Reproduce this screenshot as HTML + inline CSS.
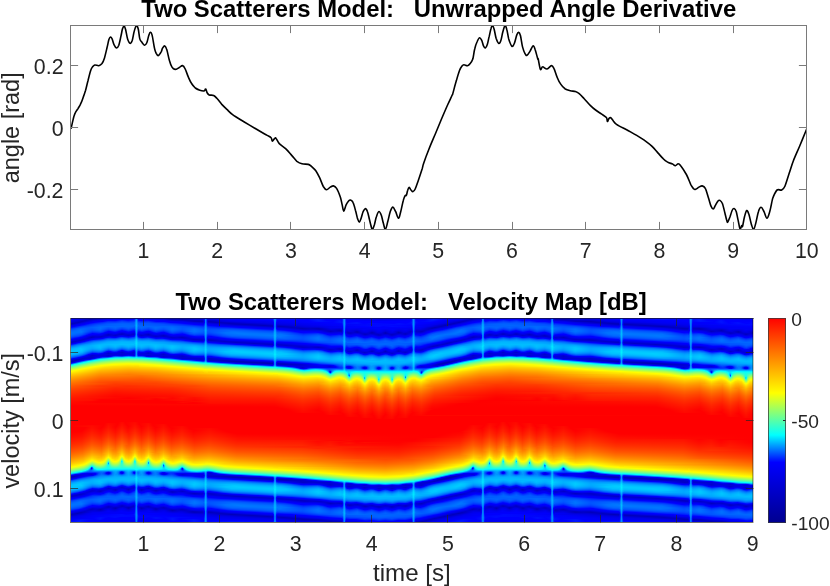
<!DOCTYPE html><html><head><meta charset="utf-8"><title>Two Scatterers Model</title>
<style>html,body{margin:0;padding:0;background:#fff}body{width:830px;height:586px;overflow:hidden;position:relative}svg{display:block;position:absolute;left:0;top:0}#hm{position:absolute;left:71px;top:319px;width:682px;height:204px;overflow:hidden;background:#00f}#hm i{display:block;width:682px;height:1px}#hm b{position:absolute;width:1px}text{font-family:"Liberation Sans",Arial,Helvetica,sans-serif;fill:#262626}.t{font-size:21.33px}.l{font-size:23.47px}.h{font-size:23.85px;font-weight:bold;fill:#000}.c{font-size:19.2px}</style></head><body>
<div id="hm"><i style="background:linear-gradient(90deg,#0000f7 0,#0000e4 10.5px,#0000b8 19px,#0000f7 37px,#0001ff 65px,#0000e9 92.5px,#00b 101px,#0000c3 106.5px,#0000b3 111.5px,#00d 124.5px,#0000db 137px,#0000f5 158px,#00f 192px,#000eff 210.5px,#00f 237px,#0017ff 247px,#00f 254.5px,#0000fb 286.5px,#0000ef 294px,#0000f6 301px,#0000ea 308px,#0000fe 354.5px,#0018ff 362.5px,#00f 372.5px,#0000e9 390px,#0000b8 400.5px,#0000d0 405px,#0000f7 418px,#0002ff 446px,#0000e9 474px,#0000bc 482px,#0000c3 487.5px,#0000b3 493px,#0000dc 505px,#0000db 519px,#0000f9 546.5px,#00f 573px,#000eff 591.5px,#00f 618.5px,#0017ff 628px,#00f 636px,#0000fb 667.5px,#0000ef 675px,#0000f6 682px)"></i><i style="background:linear-gradient(90deg,#0000f0 0,#0000c2 15px,#0000e4 22.5px,#0001ff 36.5px,#00f 45px,#0025ff 51px,#000dff 57px,#0024ff 64px,#00f 70px,#000eff 76.5px,#0002ff 79.5px,#0000f5 93.5px,#0000da 101.5px,#0000c2 119.5px,#0000c9 137.5px,#0000ef 159.5px,#0000fd 200px,#00f 237.5px,#0016ff 247.5px,#00f 255.5px,#00f 263.5px,#000eff 268.5px,#00f 273px,#0000f1 308px,#00f 354px,#0013ff 361px,#00f 369px,#0000e9 385.5px,#0000c2 396px,#0000e5 404px,#00f 417.5px,#0008ff 420px,#00f 426px,#0025ff 432.5px,#000cff 438.5px,#0025ff 445px,#00f 451.5px,#000eff 457.5px,#0004ff 460.5px,#0000f5 474.5px,#0000da 483px,#0000c2 501px,#0000c9 518.5px,#0000ea 535px,#0000f7 557.5px,#00f 619px,#0016ff 628.5px,#00f 637px,#00f 645px,#000eff 650px,#00f 654.5px,#0000fa 682px)"></i><i style="background:linear-gradient(90deg,#0000e6 0,#0000bf 11px,#0000f5 22.5px,#00f 32px,#0027ff 37px,#0023ff 44px,#003fff 51px,#002eff 57.5px,#003eff 64.5px,#0024ff 71px,#002eff 77.5px,#0004ff 85px,#00f 93.5px,#0000ea 112px,#0000c2 123px,#0000b5 138px,#0000da 152.5px,#0000e9 165px,#0001ff 240px,#01f 248px,#00f 262px,#0012ff 269px,#00f 275px,#00f 338.5px,#000eff 342.5px,#00f 347.5px,#000bff 359.5px,#00f 365px,#0000e8 380.5px,#0000bf 392px,#0000ef 401.5px,#00f 413px,#0028ff 418.5px,#0024ff 425.5px,#003fff 432.5px,#002eff 438.5px,#003fff 445.5px,#0024ff 452px,#002eff 458.5px,#0005ff 466px,#00f 474.5px,#0000e9 493.5px,#0000c1 504.5px,#0000b5 519.5px,#0000df 537px,#0000f0 560px,#00f 620.5px,#01f 629px,#00f 643.5px,#0012ff 650px,#00f 656px,#0000fe 682px)"></i><i style="background:linear-gradient(90deg,#0000d6 0,#0000be 7.5px,#0000ed 15.5px,#00f 22.5px,#0040ff 37px,#003fff 44.5px,#0052ff 51px,#0046ff 57.5px,#0051ff 64.5px,#003fff 71px,#0045ff 77.5px,#0029ff 85px,#0025ff 93px,#00f 99.5px,#0000f6 113.5px,#0000ba 145px,#0000e6 179px,#0001ff 244px,#00f 262px,#01f 269.5px,#00f 276.5px,#000dff 286px,#00f 290.5px,#00f 337px,#0010ff 342px,#00f 348.5px,#0000fe 361px,#0000eb 375px,#0000bd 388px,#00e 397px,#00f 404px,#0040ff 418px,#003fff 425.5px,#0052ff 432.5px,#0046ff 438.5px,#0051ff 445.5px,#003fff 452px,#0045ff 459px,#002aff 466px,#0026ff 474px,#00f 481px,#0000f6 494.5px,#0000ba 526px,#00d 550px,#0000f3 583.5px,#00f 643px,#01f 650.5px,#00f 657.5px,#000dff 667px,#00f 671.5px,#0005ff 682px)"></i><i style="background:linear-gradient(90deg,#0000bf 0,#0000c0 3.5px,#0000e9 10.5px,#00f 17.5px,#0025ff 23px,#0050ff 36px,#005dff 51px,#05f 77px,#0040ff 92px,#00f 114px,#0000e6 136px,#0000bc 158.5px,#0000ea 203px,#0001ff 264px,#000eff 286px,#00f 293px,#000aff 300.5px,#00f 323px,#000bff 328px,#0001ff 334.5px,#000eff 341.5px,#00f 348px,#0000fb 359px,#0000e9 371.5px,#0000bc 383px,#0000eb 392px,#0000fe 398.5px,#0024ff 404px,#004fff 417px,#005dff 432.5px,#05f 458.5px,#0041ff 473px,#00f 495.5px,#0000bc 540px,#00e 591.5px,#00f 644.5px,#000bff 651px,#0001ff 659.5px,#000eff 667.5px,#00f 676px,#000aff 682px)"></i><i style="background:linear-gradient(90deg,#0000c6 0,#0000ea 6px,#0001ff 13.5px,#002cff 19px,#04f 25px,#005dff 37px,#0064ff 51.5px,#0051ff 92.5px,#002cff 111px,#00f 123.5px,#00e 142.5px,#0000c2 165.5px,#00b 175px,#0000e2 209.5px,#0000f8 247px,#000aff 327.5px,#00f 345px,#0000ed 365px,#0000ba 378.5px,#0000eb 387.5px,#00f 394.5px,#002bff 400px,#0043ff 406px,#005dff 418px,#0064ff 432.5px,#0050ff 474px,#002bff 492.5px,#00f 504.5px,#0000ef 523.5px,#0000c2 546.5px,#00b 556.5px,#0000e1 590px,#0000f7 624.5px,#000aff 682px)"></i><i style="background:linear-gradient(90deg,#0000e4 0,#00f 8.5px,#0037ff 16.5px,#005bff 28px,#06f 57.5px,#0053ff 101px,#002dff 121.5px,#00f 136px,#00b 192.5px,#0000e5 228px,#0000f8 258px,#0009ff 308px,#00f 337.5px,#00e 359.5px,#0000ba 374.5px,#0000ea 382.5px,#00f 389.5px,#0037ff 397.5px,#0059ff 408px,#06f 438.5px,#0053ff 482.5px,#002dff 502.5px,#00f 517.5px,#00b 574px,#0000ec 617.5px,#0005ff 682px)"></i><i style="background:linear-gradient(90deg,#0000f6 0,#00f 3.5px,#002aff 8.5px,#0043ff 13.5px,#0068ff 30px,#0062ff 101.5px,#04f 124px,#00f 150px,#0000ec 175.5px,#0000ba 209.5px,#0000e1 234px,#0001ff 292px,#0009ff 308px,#00f 312px,#0009ff 321px,#0000f7 350px,#0000e7 358px,#00b 370px,#0000eb 378.5px,#0000fe 384.5px,#003eff 393.5px,#0067ff 410px,#005fff 445px,#0069ff 466px,#0047ff 504px,#00f 531px,#0000ec 556.5px,#0000ba 590.5px,#0000de 612.5px,#0000f4 639.5px,#0000fe 682px)"></i><i style="background:linear-gradient(90deg,#000aff 0,#004eff 10px,#006dff 29.5px,#005aff 37.5px,#06f 44.5px,#0054ff 51px,#0063ff 57.5px,#0054ff 64.5px,#06f 70.5px,#0059ff 77.5px,#006bff 85px,#005eff 92.5px,#006bff 101px,#0057ff 111.5px,#005cff 122.5px,#0031ff 139px,#001cff 157px,#00f 169px,#0000e9 196px,#0000c0 221px,#0000d5 236px,#0000d5 247px,#0000ef 258.5px,#0000fa 278px,#0000fd 334.5px,#0000ed 352.5px,#0000b9 364px,#00f 380.5px,#002fff 385.5px,#004dff 391px,#006cff 410px,#005bff 418.5px,#06f 426px,#0054ff 432.5px,#0063ff 438.5px,#0054ff 445px,#06f 451.5px,#0059ff 458.5px,#006bff 465.5px,#005eff 474px,#006bff 482px,#0057ff 492.5px,#0059ff 505.5px,#0031ff 520px,#001dff 538px,#00f 550.5px,#0000e9 577px,#0000c0 602.5px,#0000d5 617px,#0000d5 628px,#0000ef 640.5px,#0000fa 682px)"></i><i style="background:linear-gradient(90deg,#0030ff 0,#0056ff 6.5px,#0063ff 12px,#005aff 21px,#006cff 29.5px,#004eff 37.5px,#005fff 44.5px,#0043ff 51px,#005aff 57.5px,#0043ff 64px,#005fff 70.5px,#004cff 77.5px,#0068ff 84.5px,#0057ff 92.5px,#006fff 101.5px,#0059ff 111.5px,#0069ff 123.5px,#0042ff 139px,#0039ff 161px,#00f 186.5px,#0000eb 211.5px,#00b 231px,#0000c8 239px,#0000bc 247.5px,#0000e8 259.5px,#0000e1 269px,#0000f6 278px,#0000ef 286px,#0000fe 308px,#0000ec 349.5px,#0000bd 361px,#0000ea 369px,#00f 376px,#0046ff 384.5px,#0062ff 392.5px,#005aff 402px,#006cff 411px,#004eff 418.5px,#005fff 425.5px,#0043ff 432.5px,#005aff 439px,#0043ff 445px,#005eff 451.5px,#004cff 458.5px,#0068ff 465.5px,#0057ff 474px,#006fff 483px,#005aff 492px,#0069ff 504.5px,#0042ff 520.5px,#0039ff 542px,#00f 567.5px,#0000eb 592.5px,#00b 612px,#0000c8 620.5px,#0000bc 628.5px,#0000e8 641px,#0000e1 650px,#0000f6 659px,#0000f5 682px)"></i><i style="background:linear-gradient(90deg,#004bff 0,#006cff 9.5px,#05f 21px,#0068ff 29px,#003cff 37.5px,#0052ff 44.5px,#0029ff 51px,#004aff 57.5px,#002aff 64px,#0051ff 70.5px,#0038ff 77.5px,#0060ff 84.5px,#004bff 92.5px,#006eff 101px,#0057ff 111.5px,#0071ff 123.5px,#004dff 139px,#05f 156px,#004cff 167.5px,#00f 205px,#00e 220px,#0000c8 232.5px,#0000ce 241.5px,#0000bf 248.5px,#0000de 260.5px,#0000cd 269px,#0000f0 278px,#0000e5 286px,#0000f8 293px,#0000ed 301px,#0000fb 308px,#0000ef 314.5px,#0000fb 321.5px,#0000ec 328px,#0000f6 335px,#0000db 342px,#0000e3 349px,#0000c9 357.5px,#00e 365px,#00f 371.5px,#004cff 381.5px,#006cff 390.5px,#05f 402px,#0067ff 411px,#003bff 419px,#0052ff 425.5px,#002aff 432px,#004aff 439px,#002aff 445px,#0051ff 451.5px,#0038ff 458.5px,#0060ff 466px,#004bff 473.5px,#006eff 482px,#0057ff 492.5px,#0071ff 504px,#004dff 520px,#05f 537px,#004cff 548.5px,#00f 586.5px,#00e 601.5px,#0000c8 613.5px,#0000ce 622.5px,#0000bf 629.5px,#0000de 641.5px,#0000cd 650.5px,#0000f0 659px,#0000e5 667.5px,#0000f8 675.5px,#0000ed 682px)"></i><i style="background:linear-gradient(90deg,#005eff 0,#0073ff 9px,#004bff 21px,#005cff 29.5px,#0021ff 37.5px,#003dff 43px,#003cff 45px,#0006ff 51px,#03f 57px,#002fff 59px,#0006ff 64px,#003dff 70.5px,#001cff 77.5px,#0052ff 84.5px,#0038ff 92.5px,#0067ff 101px,#004fff 111px,#0074ff 123.5px,#0052ff 138.5px,#0065ff 157.5px,#005aff 173.5px,#002eff 204px,#00f 217px,#0000e3 233px,#0000e3 245.5px,#0000c8 257px,#0000d0 264px,#0000b8 269px,#0000e7 277.5px,#0000d3 286px,#0000f2 293px,#0000e2 301px,#0000f7 308px,#0000e5 314.5px,#0000f6 322px,#0000e0 328px,#0000f0 334.5px,#0000e4 338px,#0000c3 342px,#0000d7 347px,#0000c9 353px,#0000fe 366px,#004eff 378px,#0073ff 389px,#006eff 394px,#004bff 402.5px,#005cff 411px,#0021ff 418.5px,#003eff 425.5px,#0006ff 432.5px,#0034ff 438.5px,#0006ff 445px,#003dff 451.5px,#001cff 458.5px,#0052ff 466px,#0038ff 473.5px,#0067ff 482px,#004fff 492.5px,#0074ff 505px,#0052ff 520px,#0065ff 538.5px,#005aff 554.5px,#002eff 585px,#00f 598.5px,#0000e2 614.5px,#0000e4 626.5px,#0000c8 638.5px,#0000d0 645px,#0000b8 650.5px,#0000d9 655px,#0000e8 659px,#0000d4 667px,#0000f2 674.5px,#0000e2 682px)"></i><i style="background:linear-gradient(90deg,#006aff 0,#0073ff 10.5px,#003aff 21.5px,#004bff 29.5px,#003cff 32px,#0000fe 37px,#00f 39px,#02f 44px,#0000fe 48px,#0000fe 54.5px,#0014ff 57.5px,#0000fe 60.5px,#0000fe 67px,#0021ff 71px,#0000fe 75.5px,#00f 79px,#002aff 82px,#003dff 84.5px,#001dff 92.5px,#005bff 101px,#0041ff 111px,#006aff 119.5px,#0072ff 124px,#0052ff 138px,#0070ff 162px,#0050ff 200px,#0035ff 213.5px,#00f 224px,#0000f2 249px,#0000be 259.5px,#0000d1 264px,#0000c7 270.5px,#00d 279.5px,#0000d6 282.5px,#0000bc 286px,#0000de 290px,#0000ea 293px,#0000e8 296.5px,#0000d0 301px,#0000f0 307px,#0000ec 310.5px,#0000d6 314.5px,#0000f0 321.5px,#0000cd 327.5px,#0000e5 332px,#0000e5 335.5px,#0000b9 342px,#0000cf 346px,#0000be 351px,#0000e9 356px,#00f 361.5px,#0028ff 366px,#0048ff 372px,#0076ff 388.5px,#006cff 394px,#003aff 402.5px,#004bff 411px,#0039ff 413.5px,#00f 418px,#0001ff 420.5px,#02f 425px,#00f 429px,#0000f6 432.5px,#0001ff 436px,#0014ff 438.5px,#00f 441.5px,#0000fe 448px,#0021ff 452px,#00f 456.5px,#0000fe 460px,#002dff 463.5px,#003dff 466px,#001dff 473.5px,#005bff 482px,#0041ff 492.5px,#006bff 501px,#0072ff 505px,#0052ff 519.5px,#0070ff 543px,#0051ff 581px,#0036ff 594.5px,#00f 605px,#0000f2 630px,#0000e2 635px,#0000be 640.5px,#0000d1 645.5px,#0000c6 651.5px,#00d 661px,#0000bc 667.5px,#0000e0 671.5px,#0000eb 675px,#0000d0 682px)"></i><i style="background:linear-gradient(90deg,#0071ff 0,#006fff 10.5px,#02f 21.5px,#03f 29.5px,#0024ff 31.5px,#00f 34px,#0000f3 37.5px,#0000fd 45px,#0000e6 51px,#0000fa 57px,#0000e6 64px,#0000fd 70px,#0000f1 77px,#00f 81.5px,#0021ff 85.5px,#00f 90.5px,#0000fe 93.5px,#0039ff 98.5px,#004aff 101.5px,#002cff 111px,#006aff 123px,#004dff 138.5px,#0070ff 154.5px,#0076ff 164.5px,#0058ff 209.5px,#003eff 218.5px,#00f 230px,#000aff 244.5px,#00f 248.5px,#0000d8 259.5px,#0000e6 268px,#0000c5 277.5px,#0000d1 282px,#0000be 286.5px,#0000d9 291px,#0000e0 295px,#0000d5 298px,#0000b9 301px,#0000e6 306.5px,#0000e2 310.5px,#0000be 314.5px,#0000df 318px,#0000e7 321px,#0000da 324.5px,#0000b8 327.5px,#0000db 332.5px,#0000ce 340px,#0000db 345px,#0000d0 350px,#00f 358px,#002eff 362px,#004bff 367px,#0076ff 387px,#0067ff 393.5px,#02f 402.5px,#0032ff 411px,#0000fd 415.5px,#0000f3 419px,#0000fd 426px,#0000e6 432px,#0000fa 439px,#0000e6 445px,#0000fd 451px,#0000f1 458.5px,#0000fe 462.5px,#0020ff 466.5px,#00f 471.5px,#00f 475px,#0037ff 479.5px,#004aff 483px,#002cff 492px,#006aff 504px,#004dff 520px,#006fff 535.5px,#0076ff 545.5px,#0059ff 590.5px,#003dff 600px,#00f 611px,#000aff 625.5px,#0000fe 630px,#0000d9 640.5px,#0000e6 649.5px,#0000c6 658.5px,#0000d0 663.5px,#0000be 667.5px,#0000da 672.5px,#0000e0 676.5px,#0000d7 679px,#0000ba 682px)"></i><i style="background:linear-gradient(90deg,#0072ff 0,#0062ff 11px,#00f 21.5px,#0013ff 28px,#0000fe 31.5px,#0000e1 37.5px,#0000f1 45px,#0000ca 51px,#0000eb 56.5px,#0000e7 60px,#0000cb 64px,#0000f1 70px,#00d 77.5px,#0000fc 84px,#0000f2 92px,#0000fe 96.5px,#0024ff 99.5px,#0030ff 102px,#0010ff 111.5px,#004dff 119px,#005dff 123px,#0042ff 138.5px,#006fff 155px,#0079ff 167.5px,#0068ff 209.5px,#0054ff 218px,#0018ff 232.5px,#002eff 247px,#0000fe 253.5px,#0000ed 260px,#0000f4 270.5px,#0000e6 274px,#0000c4 278px,#00d 283.5px,#0000cb 293.5px,#0000d1 297.5px,#0000c1 301px,#0000da 308.5px,#0000d3 311.5px,#00b 314.5px,#0000d9 320px,#0000c5 327.5px,#0000d1 331.5px,#0000c3 334.5px,#0000ea 341.5px,#0000e8 349.5px,#0000fd 355px,#003cff 360px,#0057ff 364.5px,#0073ff 384px,#005eff 393px,#00f 402.5px,#0013ff 409.5px,#00f 412.5px,#0000e1 419px,#0000f2 426px,#0000ca 432px,#0000ec 438px,#0000e6 441.5px,#0000cb 445px,#0000f1 451px,#00d 458.5px,#0000fc 465px,#0000f2 473.5px,#0000fe 477.5px,#0027ff 481px,#0031ff 483.5px,#000fff 492.5px,#004bff 500px,#005eff 504.5px,#0042ff 519.5px,#006fff 536.5px,#0079ff 549px,#0068ff 590.5px,#0053ff 599.5px,#0018ff 613.5px,#002fff 628px,#001eff 631.5px,#00f 634.5px,#0000ed 641px,#0000f3 652px,#0000c4 659.5px,#00d 665.5px,#0000cb 674.5px,#0000d2 678.5px,#0000c2 682px)"></i><i style="background:linear-gradient(90deg,#006eff 0,#05f 10.5px,#0036ff 14px,#0000fe 18px,#0000f5 31px,#0000c5 37.5px,#0000e0 42.5px,#0000c5 51px,#0000d6 54px,#0000d7 60px,#0000c5 64px,#0000d8 67.5px,#0000df 72px,#0000c2 77.5px,#0000e2 81px,#0000f0 84.5px,#0000e0 92.5px,#00f 100px,#000cff 102.5px,#00f 106px,#00f 114px,#0035ff 119px,#004aff 123.5px,#0031ff 138px,#006bff 156.5px,#07f 173.5px,#0071ff 210.5px,#0031ff 232.5px,#004aff 247px,#0035ff 251.5px,#00f 256.5px,#00f 265px,#000cff 268px,#0000fe 271px,#0000e0 278.5px,#0000f0 286.5px,#0000e2 290px,#0000c1 294px,#0000de 299.5px,#0000c4 307.5px,#0000d5 311.5px,#0000d6 316.5px,#0000c2 321px,#0000e2 329px,#0000c8 334.5px,#0000f6 340.5px,#00f 353px,#003eff 357.5px,#005cff 361.5px,#0070ff 375px,#006bff 385px,#005cff 390.5px,#0039ff 395px,#00f 399px,#0000f6 412px,#0000c5 418.5px,#0000e0 423.5px,#0000d9 428.5px,#0000c5 432px,#0000d7 435.5px,#0000d7 441px,#0000c6 445.5px,#0000d9 449px,#0000df 453.5px,#0000c2 458.5px,#0000f0 465.5px,#0000e0 473.5px,#00f 481px,#000cff 484px,#00f 487px,#0000fe 495px,#0037ff 500.5px,#004aff 504.5px,#0031ff 519.5px,#006bff 537.5px,#07f 554.5px,#0071ff 591.5px,#0031ff 614px,#004bff 628px,#0037ff 632.5px,#0000fe 638px,#00f 646px,#000bff 649px,#00f 652px,#0000e0 659.5px,#0000ef 668px,#0000e0 671.5px,#0000c1 675px,#0000d9 678.5px,#0000de 682px)"></i><i style="background:linear-gradient(90deg,#0065ff 0,#0045ff 9.5px,#00f 15.5px,#0000e6 21.5px,#0000e8 29.5px,#0000ca 37px,#0000d8 40.5px,#0000ca 44.5px,#0000e1 48px,#0000e8 51.5px,#0000ce 57.5px,#0000e8 63px,#0000e2 66.5px,#0000ca 70.5px,#0000d9 74px,#0000d0 78px,#0000de 87px,#0000c4 92.5px,#0000f4 100px,#00e 111px,#0000fe 117px,#002eff 123.5px,#0018ff 138px,#0054ff 152.5px,#0068ff 161px,#0079ff 203px,#006fff 215.5px,#0042ff 232px,#005dff 247.5px,#004dff 251.5px,#0010ff 259px,#0030ff 268.5px,#0026ff 271px,#0000fd 274.5px,#0000f2 278.5px,#0000fc 287px,#0000db 294px,#0000f1 301.5px,#0000ca 308px,#0000eb 313.5px,#0000e8 317px,#0000cb 321px,#0000f3 327px,#0000e4 334px,#0000fe 339.5px,#0019ff 343.5px,#0003ff 349.5px,#005eff 359px,#0073ff 367.5px,#0056ff 387.5px,#0037ff 392.5px,#0000fe 397px,#0000e6 403px,#0000e9 410.5px,#0000ca 418px,#0000d8 422px,#0000c9 425.5px,#0000e2 429.5px,#0000e8 433px,#0000ce 438.5px,#0000e8 444px,#0000e1 448px,#0000ca 451.5px,#0000da 455.5px,#0000d0 459px,#0000de 468.5px,#0000c5 473.5px,#0000f3 481px,#0000ed 492px,#00f 498.5px,#001eff 501.5px,#002fff 505px,#0019ff 519.5px,#0053ff 533.5px,#0068ff 542.5px,#0078ff 586px,#006dff 597.5px,#0043ff 613px,#005dff 629px,#004bff 633px,#000eff 641px,#0030ff 649.5px,#0023ff 652.5px,#0000fe 655.5px,#0000f2 660px,#0000fb 668.5px,#0000dc 675px,#0000f1 682px)"></i><i style="background:linear-gradient(90deg,#0056ff 0,#0036ff 7.5px,#0000fe 13px,#00c 21.5px,#0000d9 26px,#0000ce 30.5px,#0000ef 38.5px,#0000e4 44.5px,#00f 50.5px,#0000ef 57.5px,#00f 63.5px,#0000e4 70.5px,#0000f2 77px,#00c 84.5px,#0000d8 89px,#0000c9 93px,#0000e7 103px,#0000d8 111px,#00f 122px,#000aff 126px,#00f 140.5px,#003eff 152px,#0059ff 161.5px,#0076ff 208.5px,#004dff 232px,#006aff 248px,#002cff 260px,#004aff 269px,#003bff 272px,#00f 277px,#00f 280.5px,#001fff 285.5px,#00f 289.5px,#0000f0 294px,#0000fc 302px,#0000e6 308px,#0000fa 314px,#0000e7 321px,#0000fe 327px,#0000f5 334px,#00f 337.5px,#0028ff 340px,#0037ff 342px,#0026ff 350px,#0069ff 359px,#0076ff 365.5px,#0049ff 385px,#002cff 390px,#00f 394px,#00c 402.5px,#0000d9 407.5px,#0000cd 411.5px,#0000ef 420px,#0000e3 425.5px,#0000fe 431.5px,#0000ef 438.5px,#00f 445px,#0000e4 452px,#0000f2 458.5px,#0000cb 466px,#0000d8 470px,#0000c9 474.5px,#0000e6 484px,#0000d9 492.5px,#0000fe 503px,#000aff 507.5px,#00f 522px,#003dff 533px,#0059ff 542.5px,#0076ff 588.5px,#006eff 598px,#004dff 613px,#006aff 629px,#002dff 640.5px,#0048ff 651px,#03f 654px,#0001ff 658px,#0001ff 662px,#001fff 666.5px,#0000fe 671px,#0000f0 675.5px,#0000fd 682px)"></i><i style="background:linear-gradient(90deg,#0040ff 0,#00f 9px,#0000ed 14px,#0000c0 20.5px,#0000d7 24.5px,#0000d5 29.5px,#0000fe 36px,#01f 39px,#00f 42px,#0000fe 45px,#0037ff 49px,#0042ff 51px,#0014ff 57.5px,#003cff 62px,#0040ff 64.5px,#0000fe 70px,#00f 72.5px,#001cff 76.5px,#00f 80px,#0000e8 85px,#0000ef 91.5px,#00c 100.5px,#0000d4 106px,#0000bf 111px,#0000f3 122px,#0000fe 146.5px,#0035ff 157px,#0050ff 170.5px,#0070ff 208.5px,#0052ff 232.5px,#0072ff 247px,#0041ff 259.5px,#005aff 270px,#001cff 278.5px,#003cff 286.5px,#0000fe 292.5px,#0001ff 296.5px,#001fff 300.5px,#00f 304.5px,#0000f6 308px,#0000fe 311.5px,#0014ff 314.5px,#00f 317.5px,#0000fe 324px,#0025ff 328px,#00f 334px,#004dff 341.5px,#003dff 350px,#006dff 358.5px,#0076ff 363.5px,#0048ff 379.5px,#0029ff 385.5px,#0000fe 390.5px,#0000ec 395.5px,#0000c0 401.5px,#0000d8 406px,#0000d6 411px,#0001ff 417.5px,#01f 420px,#00f 423px,#00f 426.5px,#0034ff 430px,#0042ff 432.5px,#0014ff 438.5px,#003eff 443.5px,#0041ff 445.5px,#0032ff 447.5px,#00f 451px,#0002ff 454px,#001cff 457.5px,#0000fe 461.5px,#0000e8 466px,#00e 473px,#00c 482px,#0000d4 487.5px,#0000bf 492.5px,#0000e2 498px,#0000f2 503px,#00f 528px,#0035ff 538px,#0050ff 551.5px,#0070ff 590px,#0052ff 613.5px,#0072ff 628px,#006bff 632px,#0041ff 640.5px,#005bff 651px,#001dff 659.5px,#003cff 667.5px,#002cff 670px,#0000fe 673.5px,#00f 677.5px,#0020ff 682px)"></i><i style="background:linear-gradient(90deg,#0020ff 0,#0001ff 4px,#0000d0 17px,#0000ec 23px,#0000fe 32px,#0034ff 35px,#0047ff 37px,#003dff 44px,#006eff 51px,#004fff 57.5px,#006cff 64.5px,#003eff 71px,#0052ff 77.5px,#0040ff 80px,#0003ff 85px,#0010ff 91px,#0000fe 94px,#0000db 101.5px,#0000df 107.5px,#0000cf 113.5px,#0000e4 126px,#0000e3 138px,#00f 153.5px,#002dff 166.5px,#0059ff 197px,#0065ff 213px,#0052ff 232px,#0074ff 247px,#004fff 259.5px,#0067ff 270px,#0038ff 278.5px,#0051ff 286.5px,#001aff 294px,#003cff 301px,#0005ff 308px,#03f 314px,#0030ff 316px,#0007ff 321px,#0040ff 327.5px,#0024ff 334px,#005dff 341.5px,#004cff 350px,#0073ff 361.5px,#05f 372.5px,#00f 385.5px,#0000d0 398px,#0000ed 404.5px,#0000fe 413px,#0038ff 416.5px,#0049ff 418.5px,#003dff 425.5px,#006eff 432.5px,#004fff 438.5px,#006dff 445.5px,#003eff 452px,#0053ff 458.5px,#0001ff 467px,#01f 472px,#00f 475px,#0000db 483px,#0000df 488.5px,#0000cf 495px,#0000e5 507.5px,#0000e3 519px,#00f 534.5px,#002eff 548px,#005aff 578.5px,#0065ff 594.5px,#0052ff 613px,#0074ff 628px,#004fff 640.5px,#0067ff 651px,#0038ff 659.5px,#0051ff 667.5px,#001aff 675px,#003cff 682px)"></i><i style="background:linear-gradient(90deg,#0000fc 0,#0000cf 12.5px,#0000fe 22px,#0027ff 29.5px,#0070ff 37px,#006aff 44px,#008cff 51px,#07f 57.5px,#008bff 64.5px,#006bff 71px,#07f 78px,#0046ff 85px,#0046ff 93px,#0000fe 99.5px,#0000f2 111.5px,#0000c9 122.5px,#0000d1 129.5px,#0000c8 137.5px,#00e 150.5px,#00f 165.5px,#004cff 203px,#05f 214.5px,#004dff 231.5px,#0071ff 247.5px,#0057ff 259.5px,#006dff 270px,#004aff 278.5px,#005fff 286.5px,#0037ff 294px,#0050ff 301px,#0029ff 308px,#004aff 314px,#002bff 321px,#0053ff 327.5px,#003eff 334px,#0068ff 341.5px,#0056ff 350.5px,#006cff 361px,#004dff 370px,#0001ff 380px,#0000cf 393.5px,#00f 403.5px,#0025ff 410.5px,#0070ff 418px,#006bff 425.5px,#008cff 432.5px,#07f 438.5px,#008bff 445.5px,#006cff 452px,#07f 459px,#0046ff 466px,#04f 474.5px,#0000fe 480.5px,#0000f3 492.5px,#0000ca 503.5px,#0000d1 510.5px,#0000c8 518.5px,#0000ef 532px,#00f 546.5px,#004bff 584px,#05f 595.5px,#004dff 613px,#0071ff 628px,#0057ff 640.5px,#006eff 651px,#004bff 659.5px,#0060ff 667.5px,#0037ff 675px,#0051ff 682px)"></i><i style="background:linear-gradient(90deg,#0000ef 0,#0000c9 9px,#00f 17.5px,#0029ff 20px,#0041ff 22.5px,#005dff 29.5px,#0089ff 36px,#008bff 44.5px,#00a1ff 51px,#0093ff 57.5px,#00a0ff 64.5px,#008bff 71px,#0093ff 77.5px,#0071ff 85px,#0070ff 92.5px,#03f 101.5px,#0024ff 109.5px,#00f 114.5px,#0000df 124px,#0000c1 140.5px,#0000ec 160px,#00f 184px,#0039ff 209.5px,#0042ff 231.5px,#0069ff 247px,#0059ff 259.5px,#006fff 269px,#0057ff 278px,#0068ff 286.5px,#004cff 294px,#005eff 301px,#0042ff 308px,#005aff 314.5px,#04f 320.5px,#0060ff 327.5px,#0050ff 334.5px,#006dff 342px,#005aff 350.5px,#0062ff 359.5px,#04f 367.5px,#0001ff 375.5px,#0000c9 390px,#0000fe 398.5px,#0040ff 403.5px,#005eff 411px,#08f 417px,#008aff 425.5px,#00a1ff 432.5px,#0093ff 438.5px,#00a0ff 445.5px,#008bff 452px,#0093ff 458.5px,#0072ff 466px,#0071ff 473.5px,#0035ff 482.5px,#0023ff 491px,#0000fe 496px,#0000e0 505px,#0000c1 522px,#0000ec 541px,#00f 565.5px,#0034ff 587.5px,#0042ff 612.5px,#0069ff 628.5px,#0059ff 640.5px,#006fff 651px,#0057ff 659.5px,#0068ff 667.5px,#004cff 675px,#005eff 682px)"></i><i style="background:linear-gradient(90deg,#0000d7 0,#0000c9 4.5px,#00f 13.5px,#0046ff 18px,#006eff 23px,#00a1ff 37px,#00afff 51px,#00a5ff 77.5px,#008fff 85px,#008bff 93px,#06f 101.5px,#004eff 112px,#00f 122px,#0000ca 153.5px,#00f 201.5px,#001cff 213.5px,#0032ff 232px,#005aff 246.5px,#0057ff 259.5px,#006bff 269px,#005eff 278px,#006bff 286.5px,#0059ff 294px,#06f 301px,#0054ff 308px,#0063ff 314.5px,#05f 321.5px,#0067ff 328px,#005bff 334.5px,#006dff 342px,#004cff 361px,#0031ff 366px,#00f 371.5px,#0000c9 385.5px,#0000fe 394.5px,#004aff 399.5px,#006dff 404px,#00a1ff 418px,#00afff 432.5px,#00a5ff 458.5px,#0090ff 466px,#008cff 474px,#0065ff 483px,#004fff 493px,#0000fe 503.5px,#0000ca 534.5px,#00f 582.5px,#001dff 595px,#0031ff 613px,#005bff 629px,#0057ff 640.5px,#006bff 650.5px,#005eff 659.5px,#006bff 668px,#0059ff 675px,#06f 682px)"></i><i style="background:linear-gradient(90deg,#0000c9 0,#0000fe 9px,#0059ff 15.5px,#008bff 23px,#00aeff 36.5px,#00b8ff 51px,#00b1ff 77.5px,#009fff 93.5px,#0072ff 112.5px,#00f 137.5px,#0000c7 165px,#00f 221px,#0047ff 248px,#0062ff 269px,#0069ff 286.5px,#005fff 308px,#06f 342.5px,#003dff 358.5px,#00f 367px,#0000c7 380px,#0000fe 390px,#0057ff 396.5px,#0086ff 403px,#00aeff 417.5px,#00b7ff 432px,#00b1ff 458.5px,#009eff 475px,#0071ff 494px,#00f 518.5px,#0000c7 546px,#00f 602px,#0048ff 630px,#0062ff 651px,#0068ff 682px)"></i><i style="background:linear-gradient(90deg,#0000e8 0,#0002ff 4.5px,#03f 7.5px,#005fff 11.5px,#0098ff 21px,#00b3ff 33.5px,#00baff 49.5px,#00b6ff 81px,#0096ff 108px,#0051ff 132.5px,#00f 149.5px,#0000c6 182.5px,#00f 234.5px,#0032ff 251.5px,#0053ff 270px,#06f 314.5px,#0056ff 345px,#0036ff 354.5px,#00f 362px,#0000ed 368.5px,#0000c5 376px,#00f 385.5px,#0058ff 392px,#0093ff 401px,#00b1ff 413.5px,#00baff 430px,#00b6ff 462px,#0096ff 489px,#0052ff 513.5px,#00f 531px,#0000c6 563.5px,#00f 615.5px,#002fff 631.5px,#004fff 648px,#0065ff 682px)"></i><i style="background:linear-gradient(90deg,#0007ff 0,#005fff 6.5px,#0091ff 14px,#00b8ff 28.5px,#00beff 44px,#00bcff 85.5px,#0095ff 121px,#0039ff 152.5px,#00f 165.5px,#0000c5 203px,#0000f1 229px,#00f 248.5px,#002fff 259px,#0039ff 269px,#0053ff 277.5px,#0067ff 308px,#005dff 335.5px,#0038ff 350px,#0001ff 357px,#0000c7 372px,#00f 381px,#0058ff 387px,#0090ff 395px,#00b8ff 409.5px,#00bdff 425px,#00bcff 466.5px,#0095ff 502px,#003bff 533px,#00f 547px,#0000c5 584.5px,#0000f1 610px,#00f 630px,#002eff 640px,#003aff 650.5px,#0054ff 659px,#0053ff 667.5px,#0062ff 675px,#005cff 682px)"></i><i style="background:linear-gradient(90deg,#004cff 0,#007cff 5px,#009aff 10px,#00c0ff 28.5px,#00b3ff 37.5px,#00bdff 44.5px,#00afff 51px,#0bf 57px,#00afff 64px,#00bdff 70.5px,#00b3ff 77.5px,#00c1ff 84.5px,#00b4ff 92.5px,#00beff 101px,#0af 111.5px,#00a8ff 124px,#007dff 139px,#005eff 158.5px,#0039ff 170.5px,#00f 183.5px,#0000cb 215.5px,#00f 255.5px,#001aff 260.5px,#0017ff 269.5px,#0048ff 278px,#003cff 286px,#005dff 293.5px,#004bff 301px,#0064ff 308px,#004fff 314.5px,#0064ff 320.5px,#0049ff 327.5px,#0058ff 334.5px,#002bff 342px,#0024ff 349.5px,#0002ff 353.5px,#0000c6 366.5px,#0000fe 376.5px,#0059ff 382.5px,#0092ff 389.5px,#00c1ff 411px,#00b3ff 418.5px,#00bdff 426px,#00afff 432px,#0bf 438.5px,#00afff 445px,#00bdff 451.5px,#00b3ff 458.5px,#00c0ff 465.5px,#00b4ff 474px,#00beff 482px,#0af 492.5px,#0af 504px,#007dff 520.5px,#0054ff 543.5px,#00f 564.5px,#0000cb 596.5px,#00f 636.5px,#001aff 642px,#0016ff 650.5px,#0048ff 659.5px,#003cff 667.5px,#005dff 675.5px,#004bff 682px)"></i><i style="background:linear-gradient(90deg,#0078ff 0,#00b0ff 10px,#00b0ff 21px,#00c2ff 28.5px,#00a9ff 37.5px,#00b8ff 44.5px,#00a0ff 51px,#00b4ff 57.5px,#00a0ff 64px,#00b8ff 70.5px,#00a8ff 77.5px,#00c0ff 84.5px,#00b0ff 92.5px,#00c4ff 101.5px,#00aeff 111.5px,#00b9ff 124px,#0091ff 139px,#007cff 164px,#0045ff 184.5px,#00f 202px,#00c 229px,#0000dc 238px,#0000d5 247px,#0000fc 258.5px,#0000fe 272px,#0035ff 278px,#001bff 286px,#0050ff 293px,#0050ff 295.5px,#0034ff 301px,#005dff 308px,#003aff 314.5px,#005bff 321.5px,#0030ff 328px,#004aff 334.5px,#0002ff 342px,#000bff 347.5px,#00f 350.5px,#0000f0 355px,#0000c5 362px,#0000fe 372px,#04f 376.5px,#0079ff 381.5px,#009fff 387px,#00b1ff 392px,#00b0ff 402.5px,#00c3ff 410.5px,#0af 418.5px,#00b8ff 425.5px,#00a0ff 432.5px,#00b4ff 439px,#00a0ff 445px,#00b8ff 451.5px,#00a8ff 458.5px,#00bfff 465.5px,#00b0ff 474px,#00c4ff 482.5px,#00aeff 492.5px,#00b9ff 505px,#0091ff 520.5px,#007cff 545.5px,#0042ff 566.5px,#00f 583px,#00c 610px,#0000dc 619px,#0000d4 628px,#0000fc 640px,#00f 653.5px,#0034ff 659px,#001cff 667.5px,#0052ff 675px,#03f 682px)"></i><i style="background:linear-gradient(90deg,#0097ff 0,#00bdff 9.5px,#00adff 21px,#00c0ff 29px,#009aff 37.5px,#00adff 44.5px,#008aff 51px,#00a7ff 57.5px,#008aff 64px,#00adff 70.5px,#0097ff 77.5px,#00b9ff 84.5px,#00a6ff 92.5px,#00c5ff 101px,#00aeff 111.5px,#00c4ff 123px,#009fff 138.5px,#00a0ff 159.5px,#0080ff 179.5px,#04f 203.5px,#00f 216px,#0000cb 231.5px,#0000d7 240.5px,#0000c3 247.5px,#0000f2 259px,#0000e8 269px,#0000fe 275px,#001cff 279px,#0000fe 283.5px,#00f 288px,#003eff 293px,#003eff 295.5px,#0012ff 301px,#0047ff 306px,#004fff 308px,#001bff 314.5px,#004eff 321px,#04f 323px,#000dff 327.5px,#0038ff 334px,#002cff 336px,#0000fe 339px,#0000f3 342.5px,#0000f6 350.5px,#0000d3 358.5px,#0000fe 367px,#004aff 372.5px,#007eff 378px,#00a9ff 384.5px,#00bdff 390.5px,#00aeff 402.5px,#00bfff 411px,#09f 419px,#00adff 425.5px,#008aff 432px,#00a7ff 439px,#008aff 445px,#00adff 451.5px,#0097ff 458.5px,#00baff 466px,#00a6ff 473.5px,#00c4ff 482px,#00aeff 492.5px,#00c4ff 504px,#009fff 520px,#00a1ff 540.5px,#0080ff 560.5px,#0043ff 585px,#0000fe 597.5px,#0000cb 612.5px,#0000d7 622px,#0000c3 628.5px,#0000f2 640px,#0000e8 650px,#0000fe 656px,#001cff 660px,#00f 664.5px,#0000fe 669px,#0035ff 673px,#0041ff 675.5px,#01f 682px)"></i><i style="background:linear-gradient(90deg,#00adff 0,#00c7ff 9.5px,#00a6ff 21px,#00b7ff 29.5px,#0082ff 37.5px,#009cff 44.5px,#006bff 51px,#0093ff 57.5px,#006bff 64px,#009cff 70.5px,#007eff 77.5px,#00aeff 84.5px,#0096ff 92.5px,#00c0ff 101px,#00a8ff 111px,#00c9ff 124px,#00a7ff 138px,#00b3ff 163px,#007cff 200.5px,#0051ff 214px,#0000fe 224.5px,#0000e8 233px,#0000eb 243px,#0000db 252px,#0000e6 263px,#00c 269px,#0000fa 276.5px,#0000ed 286px,#0000fe 290px,#0028ff 294px,#0020ff 296px,#0000fe 298.5px,#0000fe 303px,#0030ff 306px,#003bff 308px,#0030ff 310px,#00f 313px,#0000fe 316px,#002eff 319px,#0039ff 321px,#002cff 323px,#0000fe 325.5px,#0000fe 330.5px,#001cff 334px,#0000fe 337px,#0000df 342px,#0000ed 348px,#0000da 354.5px,#0000fe 362px,#0046ff 367px,#007bff 373px,#00adff 381.5px,#00c5ff 389px,#00c3ff 394px,#00a5ff 402.5px,#00b6ff 411px,#0082ff 419px,#009cff 425.5px,#006bff 432px,#0093ff 439px,#006bff 445px,#009bff 451.5px,#007eff 458.5px,#00aeff 466px,#0096ff 473.5px,#00c0ff 482px,#00a8ff 492.5px,#00c9ff 505px,#00a7ff 519.5px,#00b3ff 544px,#007bff 582px,#0050ff 595.5px,#00f 605.5px,#0000e8 614px,#0000eb 624px,#0000db 633px,#0000e6 644.5px,#00c 650.5px,#0000f9 657.5px,#0000fc 661.5px,#0000ed 667px,#00f 671.5px,#001eff 673.5px,#0028ff 675.5px,#001dff 677.5px,#00f 679.5px,#0000f9 682px)"></i><i style="background:linear-gradient(90deg,#00bcff 0,#00c9ff 10.5px,#0097ff 21.5px,#00a9ff 29.5px,#009bff 32px,#0061ff 37.5px,#0081ff 42.5px,#0081ff 45px,#003eff 51px,#07f 57px,#0071ff 59px,#003fff 64px,#0076ff 68.5px,#0083ff 70.5px,#005bff 77.5px,#009cff 84.5px,#007fff 92.5px,#00b6ff 101px,#009dff 111px,#00c9ff 124px,#00a9ff 138px,#00c1ff 163px,#0093ff 205.5px,#0067ff 218.5px,#00f 231.5px,#0009ff 243px,#0000fe 247px,#0000ef 252.5px,#0000ca 259px,#00d 264.5px,#0000c7 269.5px,#0000f2 278.5px,#00e 282px,#0000d6 286.5px,#0000f4 290px,#00f 293px,#0000ea 301px,#00f 305px,#001fff 308px,#0000fe 311px,#0000ef 314.5px,#0000fe 318px,#001cff 321px,#0001ff 323.5px,#0000e7 328px,#0000fd 334px,#00e 338px,#0000c4 342px,#0000e0 346.5px,#0000ce 351.5px,#0000fd 358px,#004bff 362.5px,#0079ff 367.5px,#00afff 378px,#00caff 387.5px,#00c5ff 393.5px,#0097ff 402.5px,#00a8ff 411px,#0062ff 418.5px,#0082ff 424px,#0082ff 426px,#0046ff 431px,#003fff 432.5px,#0076ff 438px,#006fff 440.5px,#003fff 445px,#0082ff 451.5px,#0080ff 453.5px,#005aff 458.5px,#009bff 465.5px,#007fff 474px,#00b7ff 482.5px,#009dff 492px,#00c9ff 504px,#00a8ff 520px,#00c1ff 544px,#08f 591.5px,#005fff 601px,#00f 613px,#0009ff 624.5px,#0000fc 629.5px,#0000ca 640.5px,#00d 645.5px,#0000c8 651px,#0000e8 656px,#0000f3 660px,#0000ed 663.5px,#0000d5 667.5px,#0000f3 671px,#0002ff 674.5px,#0000ea 682px)"></i><i style="background:linear-gradient(90deg,#00c4ff 0,#00c7ff 10.5px,#0082ff 21.5px,#0093ff 29.5px,#0081ff 32px,#0031ff 37.5px,#005dff 42.5px,#0060ff 44.5px,#004dff 46.5px,#0000fe 50.5px,#0001ff 52px,#003cff 55px,#004fff 57px,#0042ff 59.5px,#00f 63px,#00f 64.5px,#0047ff 68px,#005dff 70px,#005aff 72.5px,#002eff 76px,#0027ff 77.5px,#007fff 84px,#0081ff 86.5px,#005eff 92.5px,#09f 98.5px,#00a8ff 101.5px,#008bff 111px,#00c4ff 123px,#00a5ff 139px,#00caff 163px,#00a3ff 210.5px,#0086ff 219px,#0038ff 232.5px,#004cff 243.5px,#0046ff 247px,#0031ff 250px,#0000fe 253.5px,#0000da 259.5px,#00e 266px,#0000de 276.5px,#0000e4 281px,#0000dc 283.5px,#0000c3 286px,#0000e8 290px,#0000f6 294px,#00e 297.5px,#0000d0 301px,#0000fb 306.5px,#0000f8 310.5px,#0000d8 314.5px,#0000f5 318px,#0000fc 321.5px,#0000f0 324.5px,#00c 327.5px,#0000eb 331px,#0000f2 333.5px,#0000d2 341px,#0000e3 345.5px,#0000d2 350px,#0000fd 355px,#0058ff 359.5px,#08f 364.5px,#00b3ff 375px,#0cf 387.5px,#00c0ff 393.5px,#0082ff 402.5px,#0095ff 409px,#0090ff 411.5px,#007dff 413.5px,#0032ff 418.5px,#0035ff 420px,#005fff 424px,#005fff 426px,#0048ff 428px,#00f 431.5px,#00f 433px,#0039ff 436px,#004eff 438px,#0045ff 440.5px,#0004ff 444px,#0000fe 445.5px,#004bff 449.5px,#005fff 451.5px,#005bff 453.5px,#0027ff 458.5px,#0035ff 460px,#006fff 463.5px,#0080ff 465.5px,#0080ff 468px,#005dff 473.5px,#009bff 480px,#00a7ff 482.5px,#008bff 492px,#00c3ff 504px,#00a5ff 520px,#00caff 544.5px,#00a3ff 592px,#0085ff 600.5px,#0037ff 614px,#004bff 624.5px,#0047ff 628px,#002eff 631.5px,#00f 634.5px,#0000db 640.5px,#00e 647px,#00d 658px,#0000e4 662.5px,#0000c2 667.5px,#0000ea 671.5px,#0000f6 676px,#0000ec 679px,#0000d0 682px)"></i><i style="background:linear-gradient(90deg,#00c8ff 0,#00bdff 11px,#0064ff 21.5px,#07f 27.5px,#0072ff 30px,#004bff 33px,#00f 36px,#0000fe 39.5px,#0025ff 42px,#002fff 43.5px,#0024ff 45.5px,#0000fe 47.5px,#0000e5 51px,#0000fe 55px,#0014ff 57.5px,#0000fe 60px,#0000e6 64px,#0000fe 67.5px,#0024ff 69.5px,#002dff 71px,#0025ff 72.5px,#0000fe 75px,#0001ff 79.5px,#003fff 82px,#0059ff 84px,#005dff 86.5px,#002eff 92.5px,#007eff 98.5px,#0091ff 101.5px,#0071ff 111px,#0af 119px,#00b9ff 123px,#009dff 138.5px,#00c5ff 154.5px,#00ceff 166px,#00b7ff 210px,#00a1ff 218.5px,#0060ff 233px,#07f 246.5px,#0058ff 251.5px,#0000fe 257px,#0000f6 260px,#0000fe 264.5px,#000eff 267.5px,#0000fe 270.5px,#0000eb 274.5px,#0000ca 278px,#0000e4 282.5px,#0000dc 287px,#0000e7 296px,#0000c4 301px,#0000e7 304.5px,#0000f1 308.5px,#0000e6 311.5px,#0000c2 314.5px,#0000e2 317px,#0000f0 320px,#0000e7 324px,#0000c7 327.5px,#0000e2 331px,#0000da 335px,#0000f5 343px,#0000ef 349.5px,#0000fd 352.5px,#0067ff 357.5px,#09f 362.5px,#00b7ff 371px,#00caff 385.5px,#00b6ff 393.5px,#0064ff 402.5px,#0073ff 411px,#004fff 414px,#0000fd 417.5px,#0001ff 421px,#0023ff 423px,#002fff 425px,#001fff 427px,#00f 428.5px,#0000e5 432px,#00f 436.5px,#0013ff 438.5px,#0000fe 441px,#0000e6 445px,#0000fd 448.5px,#0021ff 450.5px,#002cff 452.5px,#02f 454px,#00f 456px,#0000fe 460.5px,#04f 463.5px,#005bff 465.5px,#005bff 468px,#002dff 473.5px,#0038ff 475px,#007bff 479.5px,#0090ff 482.5px,#0071ff 492px,#00b9ff 504px,#009dff 520px,#00c5ff 536px,#00ceff 547.5px,#00b8ff 591px,#00a1ff 599.5px,#0061ff 614px,#0076ff 628px,#05f 633px,#0000fd 638.5px,#00f 646px,#000dff 648.5px,#0000fe 651.5px,#0000ed 655.5px,#0000ca 659.5px,#0000e4 663.5px,#0000dc 668px,#0000e6 677.5px,#0000c5 682px)"></i><i style="background:linear-gradient(90deg,#00c6ff 0,#00c0ff 6.5px,#00abff 11.5px,#0039ff 21.5px,#004eff 27.5px,#0049ff 29.5px,#0032ff 31.5px,#0002ff 33.5px,#0000fc 34px,#0000df 37.5px,#0000f6 41.5px,#0000f5 45.5px,#00c 51px,#0000ea 54.5px,#00e 59px,#00c 64px,#0000f5 69.5px,#0000f4 73.5px,#0000d9 77.5px,#00f 82px,#0021ff 84px,#0029ff 85.5px,#0020ff 87.5px,#0000fe 90px,#0000fe 94px,#0050ff 98px,#0070ff 101.5px,#006fff 104px,#004cff 110.5px,#0059ff 113px,#0095ff 119px,#00a8ff 123px,#008fff 138.5px,#00c2ff 155.5px,#00cdff 170.5px,#00c4ff 210px,#007dff 233px,#0096ff 247px,#007aff 252px,#0024ff 259.5px,#0026ff 261.5px,#004bff 266.5px,#004aff 269.5px,#0037ff 271.5px,#0000fd 274.5px,#0000e4 278.5px,#0000f7 283px,#0000f7 287px,#0000cd 293.5px,#0000e5 298px,#0000d7 314.5px,#0000e9 329.5px,#0000cd 334.5px,#00f 340px,#001aff 341.5px,#0027ff 343.5px,#000dff 349px,#001dff 351px,#0083ff 357px,#00adff 362px,#00c0ff 369.5px,#00c5ff 384.5px,#0bf 389.5px,#00a6ff 393.5px,#003aff 402.5px,#004aff 410.5px,#0035ff 412.5px,#0000fd 415px,#0000df 418.5px,#0000f6 423px,#0000f6 426.5px,#00c 432px,#0000e9 435.5px,#0000ef 440px,#00c 445px,#0000f5 450.5px,#0000f5 454.5px,#0000d9 458.5px,#0000fe 463px,#001eff 465px,#0029ff 467px,#001dff 469px,#00f 471px,#00f 475.5px,#05f 479.5px,#0071ff 483px,#004cff 492px,#0093ff 500px,#00a7ff 504px,#008eff 519.5px,#00c3ff 537px,#00cdff 551.5px,#00c4ff 591px,#007dff 614px,#0096ff 628px,#007cff 633px,#0023ff 641px,#004eff 649.5px,#003aff 652.5px,#0000fe 655.5px,#0000e4 659.5px,#0000f8 664.5px,#0000f6 668.5px,#00c 675px,#0000e4 678.5px,#0000e1 682px)"></i><i style="background:linear-gradient(90deg,#00bfff 0,#00b0ff 7px,#0095ff 11.5px,#006cff 15px,#0000fe 21px,#00f 24.5px,#0010ff 27.5px,#0000fd 30.5px,#00c 37.5px,#0000e4 42px,#0000da 51px,#0000e3 73.5px,#0000cd 77.5px,#0000f4 84px,#0000f4 88px,#0000de 92.5px,#00f 97px,#002fff 99.5px,#04f 102.5px,#0017ff 111px,#0073ff 118.5px,#0090ff 123.5px,#0079ff 138px,#00b0ff 152.5px,#00c2ff 160.5px,#00ceff 201.5px,#00c2ff 215.5px,#0092ff 232px,#00acff 247.5px,#009aff 251.5px,#0054ff 260px,#0078ff 269px,#005cff 272.5px,#0000fe 277.5px,#0002ff 280.5px,#002bff 283.5px,#0034ff 285.5px,#0027ff 287.5px,#0001ff 289.5px,#0000de 294px,#0000f8 298.5px,#0000f8 302.5px,#0000ce 308px,#0000e7 310.5px,#0000f4 313.5px,#00e 317.5px,#0000cf 321px,#0000fb 326.5px,#0000fc 330px,#0000e9 334px,#0000fc 337px,#04f 340px,#005aff 342px,#0049ff 350px,#00b1ff 359.5px,#00c7ff 369.5px,#00bcff 383.5px,#00a5ff 390.5px,#0076ff 395.5px,#00f 402px,#00f 405.5px,#0010ff 408.5px,#0000fe 411.5px,#00c 418.5px,#0000e4 423px,#0000da 432px,#0000e3 454.5px,#0000ce 459px,#0000f3 465px,#0000f5 469px,#0000de 473.5px,#0000fd 478px,#03f 481px,#0043ff 483.5px,#003eff 486px,#0019ff 490.5px,#0018ff 492.5px,#0076ff 500px,#0091ff 505px,#0078ff 519px,#00b1ff 534px,#00c2ff 542px,#00ceff 582.5px,#00c3ff 596.5px,#0092ff 613.5px,#00abff 629px,#0098ff 633px,#0056ff 640.5px,#0056ff 642.5px,#0078ff 648.5px,#0072ff 651.5px,#0050ff 654.5px,#00f 658.5px,#00f 661.5px,#0029ff 664.5px,#0034ff 666.5px,#0029ff 668.5px,#0000fe 671px,#0000de 675px,#0000fb 682px)"></i><i style="background:linear-gradient(90deg,#00b2ff 0,#009fff 6px,#0081ff 10.5px,#0053ff 14px,#00f 17.5px,#0000fc 18px,#0000e7 21.5px,#0000f0 27px,#0000db 37px,#0000e1 47px,#0000d3 51px,#0000e6 58px,#0000d3 64px,#0000e1 68px,#0000e2 88px,#0000cb 92.5px,#0000fb 100.5px,#0000f2 110.5px,#0000fd 114px,#004eff 119px,#006fff 124px,#0059ff 137.5px,#009cff 152px,#00b4ff 160.5px,#00cdff 204px,#00c6ff 215.5px,#009fff 232px,#00bcff 247.5px,#07f 260px,#0095ff 269.5px,#0080ff 272.5px,#0037ff 278.5px,#0061ff 284px,#0060ff 287px,#0049ff 289px,#0000fe 292.5px,#0000fe 296px,#0029ff 298.5px,#0036ff 300.5px,#0029ff 302.5px,#0001ff 304.5px,#0000eb 308px,#00f 311.5px,#02f 314.5px,#001aff 316px,#00f 317.5px,#0000ed 321px,#00f 324px,#002fff 326px,#0040ff 328px,#0036ff 330px,#0001ff 334px,#0013ff 335.5px,#0061ff 339px,#007eff 341.5px,#0082ff 344px,#006fff 350px,#00b8ff 358.5px,#00cbff 365.5px,#00b7ff 379.5px,#0095ff 389px,#005eff 394.5px,#0000fd 399px,#0000e7 402.5px,#0000f0 408.5px,#0000db 418px,#0000e1 428.5px,#0000d3 432px,#0000e6 439px,#0000d3 445px,#0000e1 449px,#0000e2 469.5px,#0000cb 474px,#0000fb 481.5px,#0000f2 492px,#0000fe 495.5px,#004bff 500px,#006eff 505px,#0059ff 518.5px,#009dff 533.5px,#00b4ff 541.5px,#00cdff 584px,#00c6ff 596.5px,#009fff 613px,#0bf 629px,#07f 641px,#0095ff 650.5px,#0082ff 653.5px,#0038ff 659.5px,#0063ff 665.5px,#0062ff 668px,#04f 670.5px,#00f 673.5px,#0003ff 677.5px,#002dff 680px,#0036ff 682px)"></i><i style="background:linear-gradient(90deg,#009fff 0,#0069ff 9px,#0041ff 12px,#00f 15px,#0000cb 21px,#0000de 25px,#0000de 34px,#0000cf 37.5px,#0000f7 45px,#0000df 51px,#0001ff 56px,#0009ff 57.5px,#0000fb 60px,#0000df 64px,#0000f4 67.5px,#0000f7 71px,#0000d0 77.5px,#0000e2 81.5px,#0000d9 93px,#0000e9 104.5px,#0000d4 111px,#0000fe 118px,#0028ff 121px,#003cff 124px,#002eff 138px,#0080ff 151.5px,#00a0ff 160.5px,#00c9ff 206.5px,#00a6ff 232px,#00c5ff 247.5px,#008fff 260px,#0af 269.5px,#0064ff 278.5px,#0086ff 284.5px,#0084ff 287px,#0030ff 294px,#0060ff 299px,#0064ff 301.5px,#0051ff 303.5px,#0017ff 306.5px,#0009ff 308px,#0046ff 312px,#0058ff 314px,#004eff 316.5px,#0014ff 320px,#000dff 321px,#0016ff 322px,#005aff 325.5px,#006cff 327.5px,#0069ff 329.5px,#0042ff 334px,#009aff 341.5px,#008aff 350px,#00beff 358px,#0cf 363.5px,#00b8ff 374.5px,#0086ff 386.5px,#0053ff 392px,#0000fd 396.5px,#0000cb 402px,#0000df 406.5px,#00d 415.5px,#0000cf 418.5px,#0000f7 426px,#0000df 432px,#0004ff 437.5px,#0000fc 441px,#0000df 445px,#0000f5 449px,#0000f6 452.5px,#0000d0 458.5px,#0000e3 463px,#0000d9 474px,#0000e9 485.5px,#0000d4 492.5px,#0000fe 499px,#002bff 502.5px,#003cff 505px,#0040ff 508.5px,#002dff 519px,#007fff 532.5px,#009fff 541.5px,#00c8ff 585.5px,#00c4ff 597px,#00a6ff 613px,#00c5ff 629px,#008fff 641px,#00abff 650.5px,#009cff 653.5px,#0064ff 659.5px,#0085ff 665.5px,#0085ff 668px,#0075ff 670px,#0031ff 675px,#06f 682px)"></i><i style="background:linear-gradient(90deg,#0083ff 0,#004dff 7px,#0000fd 12px,#0000d1 20px,#0000ef 32px,#0000e6 37px,#0000fe 40px,#0045ff 42.5px,#005fff 44.5px,#0060ff 46.5px,#0040ff 51px,#007dff 55px,#008cff 57.5px,#007bff 60px,#003dff 64px,#0062ff 68.5px,#005eff 71px,#0041ff 73px,#0000fd 75.5px,#0000f0 78px,#0000f7 85.5px,#0000ce 92.5px,#0000dc 97px,#0000da 107.5px,#0000cb 111.5px,#0000f9 123px,#0000fe 140.5px,#05f 150.5px,#0081ff 160px,#0bf 201.5px,#00beff 214.5px,#00a8ff 232px,#00caff 247.5px,#009fff 260px,#00baff 269px,#0084ff 278px,#009fff 284.5px,#009dff 287px,#0061ff 294px,#0083ff 299px,#0086ff 301.5px,#0048ff 308px,#007dff 314px,#0079ff 316px,#004bff 321px,#008cff 327.5px,#006cff 334px,#00adff 341.5px,#009cff 350px,#00c3ff 358px,#00caff 362.5px,#00b5ff 371.5px,#007dff 382.5px,#0049ff 388.5px,#0000fe 393px,#0000d1 401.5px,#0000ef 413px,#0000e7 418.5px,#0000fd 421px,#0041ff 423.5px,#005dff 425.5px,#0061ff 427.5px,#003fff 432px,#0081ff 436.5px,#008cff 438.5px,#007dff 441px,#003dff 445.5px,#0061ff 449.5px,#005fff 452px,#003aff 454.5px,#00f 456.5px,#0000f0 459px,#0000f7 466.5px,#0000ce 474px,#0000dc 478.5px,#0000d9 489px,#0000cb 492.5px,#0000fa 504.5px,#00f 522px,#0053ff 531.5px,#0080ff 541px,#0bf 583.5px,#00beff 596px,#00a8ff 613px,#00caff 628.5px,#009fff 641px,#00b9ff 650.5px,#0084ff 659.5px,#009eff 668px,#0061ff 675.5px,#08f 682px)"></i><i style="background:linear-gradient(90deg,#005cff 0,#003aff 3.5px,#0000fe 7.5px,#0000da 14px,#0000ce 21px,#0001ff 28.5px,#0039ff 31.5px,#005eff 37px,#00abff 41px,#00cdff 43.5px,#00d9ff 46px,#00d8ff 51px,#00f9ff 57.5px,#00d6ff 64px,#00d6ff 70.5px,#00c1ff 73px,#007cff 78px,#0070ff 84px,#0052ff 86.5px,#0000fd 90px,#0000e9 93px,#00e 99.5px,#0000d1 111px,#0000e6 128.5px,#0000e2 137.5px,#0000fe 147.5px,#004bff 157.5px,#07f 171.5px,#00afff 207.5px,#00a6ff 232.5px,#00c9ff 247px,#0af 259.5px,#00c1ff 270px,#09f 278.5px,#00b0ff 286.5px,#0082ff 294px,#009fff 301px,#0072ff 308px,#0097ff 314px,#0073ff 321px,#00a2ff 327.5px,#008aff 334px,#00baff 341.5px,#00a8ff 350px,#00c3ff 358.5px,#00c3ff 363px,#00abff 370px,#0079ff 378px,#0042ff 384px,#00f 388.5px,#0000d9 395.5px,#0000ce 402.5px,#0000fe 409.5px,#003cff 413px,#005bff 418px,#00b0ff 422.5px,#00cfff 425px,#00d7ff 432px,#00f9ff 438.5px,#00d5ff 445.5px,#00d5ff 452px,#007dff 459px,#006eff 465.5px,#004dff 468px,#0000fe 471px,#0000e9 474px,#0000ef 480.5px,#0000d1 492px,#0000e6 509.5px,#0000e2 519px,#00f 529px,#003cff 536px,#0065ff 545.5px,#00afff 589px,#00a5ff 612.5px,#00c9ff 629px,#0af 640.5px,#00c1ff 651px,#09f 659.5px,#00b0ff 667.5px,#0083ff 675px,#009fff 682px)"></i><i style="background:linear-gradient(90deg,#0021ff 0,#0000fe 2.5px,#0000cd 11.5px,#0000d9 20px,#0000fe 24px,#0057ff 26.5px,#009cff 29.5px,#02fffd 39px,#23ffdc 45px,#34ffcb 57.5px,#2fd 70.5px,#0ff 78px,#00d7ff 85.5px,#06f 93px,#003aff 100px,#0000fe 104px,#0000d1 111.5px,#0000d2 132px,#0000c6 138.5px,#0000fe 156.5px,#0047ff 171.5px,#0090ff 202.5px,#009eff 214.5px,#009cff 231.5px,#00c3ff 247.5px,#00afff 260px,#00c5ff 269px,#00a8ff 278px,#0bf 286.5px,#009aff 294px,#00aeff 301.5px,#008fff 308px,#0af 314.5px,#0090ff 321px,#00b1ff 327.5px,#009fff 334.5px,#00c1ff 342px,#00afff 350px,#0bf 361px,#00a9ff 366.5px,#007eff 373px,#0042ff 379px,#00f 383.5px,#0000cd 393px,#0000d9 401px,#0000fc 405px,#0060ff 408px,#0098ff 410.5px,#0bf 413px,#0ff 420px,#2fd 426px,#34ffcb 438.5px,#23ffdc 451.5px,#01fffe 459px,#00d9ff 466.5px,#0063ff 474.5px,#003cff 481px,#00f 485px,#0000d1 492.5px,#0000d2 513.5px,#0000c6 519.5px,#00f 538px,#0040ff 550.5px,#0080ff 575.5px,#009cff 593px,#009dff 613px,#00c2ff 628px,#00aeff 640.5px,#00c5ff 651px,#00a8ff 659.5px,#0bf 667.5px,#009aff 675px,#00afff 682px)"></i><i style="background:linear-gradient(90deg,#0000f2 0,#0000bf 8px,#0003ff 19px,#00a9ff 24.5px,#01fffe 29px,#51ffae 43.5px,#64ff9b 57.5px,#51ffae 72px,#28ffd7 84.5px,#00feff 91.5px,#0098ff 103px,#0068ff 106px,#0000fe 111px,#0000cf 130.5px,#0000c7 140.5px,#00f 172.5px,#0043ff 189px,#0076ff 207.5px,#008eff 231.5px,#00b7ff 247px,#00aeff 259px,#00c3ff 269.5px,#00b1ff 278px,#00c0ff 286.5px,#0af 294px,#00b9ff 301px,#00a3ff 308px,#00b6ff 314.5px,#00a4ff 320.5px,#00baff 327.5px,#00adff 334.5px,#00c3ff 342px,#00b0ff 350px,#00afff 359px,#009eff 364px,#0079ff 369.5px,#0043ff 374.5px,#0002ff 378.5px,#0000bf 389px,#0000fe 400px,#00b0ff 406px,#00edff 409px,#04fffb 410.5px,#50ffaf 424.5px,#64ff9b 438.5px,#51ffae 453px,#26ffd9 466px,#01fffe 472.5px,#009bff 484px,#0063ff 487.5px,#00f 492px,#0000d0 511.5px,#0000c7 521.5px,#00f 553.5px,#003bff 568px,#006cff 584px,#008eff 613px,#00b6ff 627.5px,#00aeff 640.5px,#00c3ff 651px,#00b1ff 659.5px,#00c0ff 667.5px,#0af 675.5px,#00b9ff 682px)"></i><i style="background:linear-gradient(90deg,#0000cd 0,#0000bd 5px,#0000fd 12.5px,#0af 19px,#00feff 23px,#05fffa 23.5px,#40ffbf 30px,#6fff90 39.5px,#83ff7c 46.5px,#8eff71 57.5px,#81ff7e 70px,#60ff9f 82.5px,#01fffe 103.5px,#04f 120.5px,#00f 125.5px,#0000ca 139px,#0000c0 155px,#00f 191px,#004dff 209.5px,#00a3ff 246px,#00a9ff 259.5px,#00bcff 269px,#00b4ff 278px,#00c0ff 286px,#00b1ff 308px,#00bcff 314px,#00b1ff 321px,#00beff 327.5px,#00b5ff 334.5px,#00beff 343.5px,#008aff 362.5px,#0058ff 368.5px,#0000fe 374.5px,#0000ba 385px,#0000c1 387px,#00f 394px,#008eff 399px,#03fffc 404.5px,#41ffbe 411.5px,#6eff91 420.5px,#83ff7c 427.5px,#8eff71 438.5px,#81ff7e 451.5px,#5fffa0 464px,#00feff 485px,#0000fe 507px,#0000c9 520.5px,#0000c0 536px,#00f 572px,#004cff 590.5px,#00a4ff 628px,#00a8ff 640.5px,#00bcff 650.5px,#00b5ff 659.5px,#00c0ff 668px,#00b4ff 675px,#00beff 682px)"></i><i style="background:linear-gradient(90deg,#0000b8 0,#0000c4 2.5px,#0000fd 8px,#009bff 13px,#01fffe 17.5px,#4fffb0 25.5px,#83ff7c 34px,#a6ff59 44.5px,#b3ff4c 57px,#a7ff58 70.5px,#84ff7b 84.5px,#47ffb8 100.5px,#02fffd 114px,#0091ff 125.5px,#0000fe 136px,#0000bf 157.5px,#0000b5 165.5px,#00f 208.5px,#0037ff 221px,#008dff 248.5px,#00b0ff 270px,#00bdff 301px,#00b3ff 344px,#0078ff 360px,#0045ff 365.5px,#0000fe 370px,#0000b8 381px,#0000c2 383.5px,#00f 389.5px,#0087ff 393.5px,#00fdff 398.5px,#52ffad 407px,#84ff7b 415.5px,#a7ff58 426px,#b3ff4c 438.5px,#a7ff58 451.5px,#84ff7b 466px,#46ffb9 482px,#0ff 495.5px,#08f 507.5px,#00f 517px,#0000c0 538.5px,#0000b5 547px,#00f 589.5px,#0038ff 602.5px,#008dff 629.5px,#00b0ff 651px,#00bdff 682px)"></i><i style="background:linear-gradient(90deg,#0000d5 0,#0000fd 4px,#008dff 8px,#01fffe 12.5px,#5bffa4 21px,#9fff60 31.5px,#c7ff38 43.5px,#d5ff2a 57px,#c8ff37 71.5px,#a1ff5e 88px,#5dffa2 106.5px,#0ff 126px,#008bff 138px,#0000fe 150px,#0000c3 170px,#0000b9 180.5px,#0000c0 192.5px,#0001ff 224px,#0056ff 242px,#0093ff 263.5px,#00b1ff 285.5px,#00baff 314px,#00b4ff 333.5px,#009fff 346px,#0065ff 357.5px,#0036ff 362px,#00f 365.5px,#0000c1 374px,#0000b9 377px,#0000c6 380px,#0000fc 385px,#0005ff 385.5px,#05f 387.5px,#00a4ff 390px,#00f1ff 393px,#05fffa 394px,#5dffa2 402.5px,#a0ff5f 413px,#c8ff37 425px,#d5ff2a 438.5px,#c8ff37 453px,#a0ff5f 469.5px,#5cffa3 488px,#01fffe 507px,#08f 519.5px,#00f 531px,#0000c3 551px,#0000b9 562px,#0000c1 574px,#00f 605px,#004eff 621px,#08f 640px,#0af 659.5px,#00b9ff 682px)"></i><i style="background:linear-gradient(90deg,#000bff 0,#0098ff 4px,#03fffc 8px,#6bff94 17.5px,#b7ff48 29px,#e6ff19 42.5px,#f4ff0b 57px,#e6ff19 73px,#b9ff46 92px,#6f9 115.5px,#02fffd 138px,#0089ff 152px,#0000fe 165px,#0000c6 186.5px,#0000b8 199px,#0000bd 207.5px,#00f 237.5px,#0043ff 248.5px,#008aff 269.5px,#00a8ff 287px,#00b5ff 314.5px,#00b0ff 328.5px,#0098ff 342.5px,#0057ff 354px,#0000fe 361.5px,#0000ec 365px,#0000c0 370px,#0000b9 372.5px,#0000c5 375.5px,#0000fd 381px,#0092ff 385px,#00feff 389px,#69ff96 398.5px,#b6ff49 410px,#e5ff1a 423.5px,#f4ff0b 438.5px,#e6ff19 454.5px,#b8ff47 473.5px,#64ff9b 497px,#0ff 519.5px,#007cff 534.5px,#00f 546px,#0000c7 567.5px,#0000b8 580px,#0000bd 589px,#00f 618.5px,#0042ff 629.5px,#0085ff 649px,#00a6ff 667px,#00b2ff 682px)"></i><i style="background:linear-gradient(90deg,#00a8ff 0,#02fffd 3.5px,#58ffa7 10.5px,#a3ff5c 19.5px,#dbff24 29.5px,#ff0 40.5px,#fff500 57px,#ff0 75.5px,#efff10 84px,#80ff7f 120px,#01fffe 152px,#008bff 167.5px,#0000fe 182px,#0000be 212px,#0000d3 231px,#00f 246px,#0019ff 250.5px,#002cff 259px,#0073ff 270px,#07f 278px,#009aff 286.5px,#0095ff 293.5px,#00abff 300.5px,#00a0ff 308px,#00afff 314.5px,#009fff 321px,#00a8ff 328px,#008eff 334.5px,#0087ff 342px,#0003ff 356.5px,#0000ef 361px,#0000bd 368px,#00c 371.5px,#0000fb 376.5px,#0004ff 377px,#009bff 381px,#00fdff 384.5px,#5bffa4 392px,#a5ff5a 401px,#df2 411px,#ff0 422px,#fff500 438.5px,#ff0 457px,#ef1 465.5px,#7fff80 501.5px,#00feff 533.5px,#0085ff 549.5px,#00f 563px,#0000be 593px,#0000d4 612.5px,#0000fe 627px,#001aff 632px,#002bff 640px,#0071ff 650.5px,#0076ff 659px,#09f 667px,#0095ff 675px,#00abff 682px)"></i><i style="background:linear-gradient(90deg,#1fe 0,#5effa1 6.5px,#9f6 13px,#feff01 30.5px,#ffe500 57px,#ff0 89.5px,#9fff60 123px,#0ff 168.5px,#0086ff 185.5px,#00f 200.5px,#0000d8 218.5px,#0000d5 231px,#0000f7 248.5px,#0000f0 259px,#0000fe 262.5px,#003cff 266px,#0059ff 269.5px,#005aff 272px,#003dff 278px,#007cff 283.5px,#008cff 286px,#008aff 288.5px,#006eff 293.5px,#00a2ff 300.5px,#0080ff 308px,#00a9ff 314.5px,#007fff 321px,#009fff 328px,#0062ff 334.5px,#0078ff 339.5px,#0075ff 342px,#0053ff 345px,#0000fd 349px,#00e 357.5px,#0000ce 364.5px,#0000fc 372px,#0005ff 372.5px,#0084ff 376px,#00f7ff 380px,#57ffa8 387px,#94ff6b 393.5px,#d4ff2b 403px,#ff0 412px,#ffe500 438.5px,#ff0 470.5px,#9fff60 504px,#01fffe 549.5px,#008fff 565.5px,#0000fe 582px,#0000d9 599.5px,#0000d5 612px,#0000f7 630px,#0000f0 640px,#0000fd 643.5px,#003fff 647.5px,#0058ff 650.5px,#0059ff 653.5px,#003dff 659px,#0089ff 666.5px,#008bff 669.5px,#006eff 675px,#00a3ff 682px)"></i><i style="background:linear-gradient(90deg,#49ffb6 0,#acff53 10.5px,#feff01 24px,#ffdf00 41.5px,#ffd700 57.5px,#ff0 101.5px,#0ff 186px,#007aff 206px,#0000fe 217.5px,#0000dc 229.5px,#0000f2 252px,#0000ea 256px,#0000d7 259px,#0000fd 264.5px,#0037ff 268px,#04f 270.5px,#0035ff 273px,#0000fd 276px,#0000f3 278px,#0000fc 279.5px,#005dff 283px,#0080ff 286px,#0074ff 289px,#0025ff 293.5px,#002dff 294.5px,#0080ff 298px,#09f 300px,#0093ff 303px,#004bff 307px,#0045ff 308px,#0091ff 312px,#00a4ff 314.5px,#0090ff 317px,#0042ff 321px,#004aff 322px,#008dff 325.5px,#0094ff 328.5px,#006dff 331px,#000eff 334.5px,#0058ff 338.5px,#0068ff 341px,#0053ff 343.5px,#03f 345px,#0004ff 346.5px,#0000fc 347px,#0000da 350.5px,#0000ed 355px,#0000e9 362px,#0000fe 366.5px,#0ff 376px,#5fa 382.5px,#96ff69 389px,#ff0 405.5px,#ffdf00 423px,#ffd700 438.5px,#ff0 482.5px,#01fffe 567px,#007cff 587px,#04f 593px,#00f 598.5px,#0000dc 610.5px,#0000f2 633.5px,#0000d6 640.5px,#00f 646px,#0035ff 649px,#04f 651.5px,#0037ff 654px,#0000fe 657px,#0000f4 659px,#00f 661px,#0059ff 664px,#007cff 666.5px,#07f 670px,#0024ff 675px,#0085ff 679.5px,#009cff 682px)"></i><i style="background:linear-gradient(90deg,#78ff87 0,#c8ff37 9.5px,#fffe00 19px,#ffdb00 34px,#ffc900 57.5px,#ffd900 84px,#ff0 111.5px,#6bff94 169.5px,#0ff 205px,#00d1ff 211.5px,#009aff 217px,#0056ff 221.5px,#0000fe 225.5px,#0000cf 231.5px,#0000ec 235px,#0000fb 239.5px,#0000f2 259.5px,#0000fe 264.5px,#002eff 268.5px,#0037ff 270.5px,#002dff 272.5px,#0000fe 275px,#00d 278px,#0000fb 280.5px,#0005ff 281px,#0059ff 283.5px,#007bff 286.5px,#0075ff 288px,#005eff 289.5px,#0030ff 291px,#00f 292px,#0000ec 293.5px,#0000f9 295px,#0006ff 295.5px,#003dff 296.5px,#0072ff 298px,#0090ff 299.5px,#009aff 301px,#0093ff 302.5px,#0078ff 304px,#0059ff 305px,#0000fc 307px,#0000fa 308.5px,#0005ff 309px,#003fff 310px,#0079ff 311.5px,#09f 313px,#00a3ff 314.5px,#09f 316px,#0079ff 317.5px,#003dff 319px,#00f 320px,#0000f4 321px,#0000fc 322px,#006dff 324.5px,#008cff 326px,#0095ff 327.5px,#07f 330px,#0058ff 331px,#000eff 332.5px,#0000fb 333px,#0000e5 334.5px,#00f 336.5px,#0047ff 338.5px,#005eff 341px,#0047ff 343.5px,#0000fe 346.5px,#0000ef 350px,#0000fe 359px,#001eff 361px,#00f7ff 371px,#a3ff5c 386px,#ff0 400px,#ffdb00 415px,#ffc900 438.5px,#ffda00 465.5px,#ff0 492.5px,#6bff94 550.5px,#0ff 586px,#00cfff 593px,#0097ff 598.5px,#0051ff 603px,#00f 606.5px,#0000cf 612.5px,#00e 616.5px,#0000fb 620.5px,#0000f3 641px,#00f 646px,#002cff 649.5px,#0037ff 652px,#002aff 654px,#00f 656px,#00d 659.5px,#0000fe 662px,#0039ff 663.5px,#005fff 665px,#007bff 668px,#0062ff 670.5px,#0000fb 673.5px,#0000ea 675px,#0000fe 676.5px,#004aff 678px,#006cff 679px,#008dff 680.5px,#09f 682px)"></i><i style="background:linear-gradient(90deg,#a1ff5e 0,#fffe00 13.5px,#ffd100 31.5px,#ffbd00 57.5px,#fc0 84.5px,#ff0 124.5px,#47ffb8 201px,#26ffd9 211px,#02fffd 218px,#00dcff 221px,#009dff 224.5px,#005cff 227px,#0000fe 229.5px,#0000e8 232px,#0001ff 235.5px,#0035ff 237.5px,#0056ff 239.5px,#0071ff 244px,#0067ff 247.5px,#002eff 256px,#0042ff 272.5px,#002fff 275px,#0004ff 277px,#0001ff 279.5px,#0061ff 283.5px,#007eff 286.5px,#0079ff 288px,#0064ff 289.5px,#0038ff 291px,#0007ff 292px,#0000eb 293.5px,#0000f9 295px,#0004ff 295.5px,#003dff 296.5px,#0075ff 298px,#0093ff 299.5px,#009eff 301px,#0097ff 302.5px,#0079ff 304px,#05f 305px,#0000fd 306.5px,#0000e6 308px,#0000f9 309px,#0010ff 309.5px,#0050ff 310.5px,#0079ff 311.5px,#009cff 313px,#00a7ff 314.5px,#009dff 316px,#0079ff 317.5px,#004fff 318.5px,#000cff 319.5px,#0000f8 320px,#0000e6 321px,#00f 322.5px,#0043ff 323.5px,#006dff 324.5px,#0090ff 326px,#09f 327.5px,#008eff 329px,#006dff 330.5px,#0000fe 333px,#00e 334.5px,#00f 336px,#002dff 337px,#0049ff 338px,#0061ff 340px,#005dff 342px,#0034ff 347px,#03f 355px,#004eff 357px,#00faff 365.5px,#afff50 383px,#ff0 394.5px,#ffd100 412.5px,#ffbd00 438.5px,#fc0 466px,#ff0 506px,#46ffb9 582.5px,#25ffda 592.5px,#0ff 599.5px,#00cfff 603px,#0096ff 606px,#0052ff 608.5px,#0004ff 610.5px,#0000fb 611px,#0000e8 613px,#0000fe 616.5px,#0053ff 620.5px,#006aff 623px,#0071ff 625.5px,#002eff 637.5px,#0042ff 654px,#0032ff 656px,#0000fe 658.5px,#0000fe 660.5px,#06f 665px,#007eff 668px,#0076ff 669.5px,#005dff 671px,#0000fd 673.5px,#0000e9 675px,#0000fd 676.5px,#006fff 679px,#0090ff 680.5px,#009eff 682px)"></i><i style="background:linear-gradient(90deg,#c5ff3a 0,#fffe00 8.5px,#ffc500 30.5px,#ffb100 57.5px,#ffc000 85px,#ff0 134.5px,#69ff96 206.5px,#3effc1 217.5px,#02fffd 225px,#0cf 227.5px,#0070ff 231px,#0059ff 232.5px,#0062ff 234px,#00c7ff 240px,#00e1ff 245px,#00c2ff 250px,#0058ff 256.5px,#0048ff 258.5px,#007fff 265.5px,#0075ff 279.5px,#008fff 287px,#0080ff 290px,#0042ff 294px,#0097ff 298.5px,#00acff 301.5px,#00a1ff 303px,#0087ff 304.5px,#001fff 307.5px,#001bff 308px,#0092ff 311.5px,#00acff 313px,#00b4ff 314.5px,#00acff 316px,#0091ff 317.5px,#001fff 321px,#008aff 324.5px,#00a7ff 327px,#09f 329.5px,#05f 334px,#0079ff 337.5px,#0080ff 339.5px,#0079ff 347px,#0052ff 352.5px,#0071ff 354.5px,#00fcff 360px,#b5ff4a 379.5px,#fffe00 389.5px,#ffc500 411.5px,#ffb100 438.5px,#ffc000 466.5px,#ff0 515.5px,#69ff96 587.5px,#3fffc0 598.5px,#04fffb 606px,#0df 608px,#0069ff 612.5px,#005aff 613.5px,#005fff 615px,#00caff 621.5px,#00e0ff 626.5px,#00c4ff 631px,#005bff 637.5px,#0048ff 639.5px,#007fff 646.5px,#0075ff 661px,#008fff 668.5px,#007dff 671.5px,#0042ff 675px,#004bff 676px,#0094ff 679.5px,#00abff 682px)"></i><i style="background:linear-gradient(90deg,#e6ff19 0,#fffd00 4px,#ffb900 30px,#ffa500 57.5px,#ffb400 85.5px,#ff0 149px,#8f7 211px,#56ffa9 221.5px,#00fbff 230.5px,#00e1ff 233.5px,#02fffd 237px,#1effe1 241px,#28ffd7 245px,#1fffe0 248.5px,#03fffc 252px,#00c8ff 254.5px,#0049ff 258px,#0035ff 259px,#00b2ff 263.5px,#00cdff 265.5px,#00d7ff 268px,#00b0ff 276.5px,#00b3ff 295px,#00c4ff 301.5px,#00a2ff 308px,#00caff 314px,#00a4ff 321px,#00c1ff 326.5px,#00b7ff 333px,#00c2ff 344.5px,#00a7ff 347.5px,#0052ff 351px,#006cff 352.5px,#00f3ff 356px,#02fffd 356.5px,#31ffce 359.5px,#5fa 363px,#fffe00 385px,#ffba00 410.5px,#ffa500 438.5px,#ffb400 466.5px,#ff0 530px,#8f7 592px,#57ffa8 602.5px,#00feff 611.5px,#00e0ff 614.5px,#01fffe 618px,#1dffe2 622px,#28ffd7 626px,#20ffdf 629.5px,#05fffa 633px,#00feff 633.5px,#00ceff 635.5px,#0036ff 640px,#04f 641px,#0089ff 643px,#00aeff 644.5px,#00d5ff 648px,#00d5ff 650.5px,#00afff 658px,#00b8ff 664px,#00b2ff 676px,#00c3ff 682px)"></i><i style="background:linear-gradient(90deg,#fffc00 0,#ffaf00 29px,#ff9b00 57.5px,#ffa800 85px,#ff0 168.5px,#a9ff56 213px,#82ff7d 221.5px,#2bffd4 233px,#56ffa9 242.5px,#56ffa9 247.5px,#3cffc3 251.5px,#04fffb 255px,#00daff 256px,#00a0ff 257px,#004eff 258px,#0019ff 258.5px,#0000fa 259px,#0000fb 259.5px,#0080ff 261px,#00baff 262px,#00feff 264px,#1bffe4 268px,#03fffc 273px,#0cf 277.5px,#00fbff 285px,#00edff 292.5px,#00f1ff 329.5px,#00e7ff 335.5px,#01fffe 340px,#0bfff4 343px,#02fffd 345.5px,#00f0ff 346.5px,#00c3ff 348px,#0091ff 349px,#0023ff 350.5px,#0025ff 351px,#00d8ff 353.5px,#00f4ff 354px,#08fff7 354.5px,#47ffb8 357.5px,#71ff8e 361px,#fffd00 381px,#ffd900 391.5px,#ffaf00 410px,#ff9b00 438.5px,#ffa800 466.5px,#ff0 550px,#a8ff57 594.5px,#80ff7f 603px,#2cffd3 614px,#5fa 623.5px,#56ffa9 628.5px,#3effc1 632.5px,#09fff6 636px,#00faff 636.5px,#00adff 638px,#0061ff 639px,#0000fe 640px,#000bff 641px,#0071ff 642px,#00c8ff 643.5px,#00ebff 644.5px,#03fffc 645.5px,#1bffe4 649.5px,#0ff 654.5px,#00d3ff 657.5px,#0cf 659px,#00faff 665.5px,#00edff 673.5px,#00f0ff 682px)"></i><i style="background:linear-gradient(90deg,#ffec00 0,#ffa400 29px,#ff9000 58px,#ff9d00 85px,#ff0 186px,#c6ff39 215px,#a6ff59 222px,#5effa1 232.5px,#82ff7d 243px,#80ff7f 248px,#57ffa8 253px,#3fc 255px,#08fff7 256.5px,#00ebff 257px,#00c2ff 257.5px,#008dff 258px,#0000fc 259px,#0000fa 259.5px,#0031ff 260px,#0079ff 260.5px,#00aeff 261px,#00f5ff 262px,#0afff5 262.5px,#38ffc7 265px,#4affb5 268.5px,#38ffc7 272px,#00f6ff 276px,#0df 277px,#00d4ff 278px,#04fffb 280.5px,#20ffdf 283px,#29ffd6 285.5px,#0afff5 293px,#1cffe3 300px,#1fe 321.5px,#1dffe2 328.5px,#02fffd 335px,#30ffcf 340.5px,#38ffc7 343px,#2bffd4 345.5px,#07fff8 347.5px,#00f2ff 348px,#00a8ff 349px,#006dff 349.5px,#0018ff 350px,#0000f8 350.5px,#0009ff 351px,#0063ff 351.5px,#00a8ff 352px,#00dcff 352.5px,#04fffb 353px,#50ffaf 355.5px,#8cff73 359.5px,#ff0 376.5px,#ffcf00 390px,#ffa500 409.5px,#ff9000 438.5px,#ff9d00 466.5px,#ff0 567px,#c7ff38 596px,#a7ff58 603px,#5effa1 614px,#82ff7d 624px,#81ff7e 629px,#5affa5 634px,#38ffc7 636px,#0ffff0 637.5px,#00faff 638px,#00d4ff 638.5px,#00a5ff 639px,#0065ff 639.5px,#01f 640px,#0000f8 640.5px,#000eff 641px,#005eff 641.5px,#00c7ff 642.5px,#04fffb 643.5px,#35ffca 646px,#4affb5 649.5px,#3affc5 653px,#00fdff 657px,#00d4ff 659px,#01fffe 661.5px,#1effe1 664px,#29ffd6 666.5px,#0afff5 674.5px,#1cffe3 682px)"></i><i style="background:linear-gradient(90deg,#fd0 0,#f90 29px,#ff8700 58px,#ff9300 85px,#ffce00 140.5px,#ff0 205px,#daff25 218.5px,#89ff76 232.5px,#af5 243.5px,#a3ff5c 249px,#8dff72 252px,#6aff95 254.5px,#38ffc7 256.5px,#00f7ff 258px,#00a1ff 259px,#0095ff 259.5px,#00afff 260px,#00feff 261px,#34ffcb 262.5px,#54ffab 264px,#6bff94 266px,#74ff8b 268.5px,#6bff94 271px,#5fa 273px,#2dffd2 275px,#00feff 276.5px,#00cdff 277.5px,#00c4ff 278px,#00cdff 278.5px,#00fbff 279.5px,#3fffc0 282.5px,#52ffad 285.5px,#4affb5 288px,#16ffe9 293.5px,#41ffbe 300px,#24ffdb 307.5px,#3effc1 314.5px,#23ffdc 321px,#45ffba 328px,#3affc5 330.5px,#0bfff4 335px,#50ffaf 339.5px,#63ff9c 342.5px,#4cffb3 346px,#2cffd3 347.5px,#07fff8 348.5px,#00e0ff 349px,#006bff 350px,#0051ff 350.5px,#0083ff 351px,#00cbff 351.5px,#03fffc 352px,#35ffca 353px,#64ff9b 354.5px,#a2ff5d 358px,#caff35 362.5px,#fffe00 372px,#ffc300 389.5px,#ff9a00 409.5px,#ff8700 438.5px,#ff9300 466.5px,#ffcd00 521.5px,#ff0 586px,#dbff24 599.5px,#89ff76 614px,#abff54 625px,#a4ff5b 630px,#8fff70 633px,#6dff92 635.5px,#3fffc0 637.5px,#05fffa 639px,#0df 639.5px,#00b1ff 640px,#0095ff 640.5px,#00a1ff 641px,#0ef 642px,#0cfff3 642.5px,#3bffc4 644px,#58ffa7 645.5px,#74ff8b 649px,#5fffa0 653.5px,#3dffc2 655.5px,#06fff9 657.5px,#0ef 658px,#00c6ff 659px,#00c7ff 659.5px,#07fff8 661px,#3cffc3 663.5px,#51ffae 666px,#4cffb3 669px,#16ffe9 674.5px,#42ffbd 682px)"></i><i style="background:linear-gradient(90deg,#ffcf00 0,#ff8e00 29.5px,#ff7d00 58px,#ff9600 101px,#ff0 217px,#afff50 232.5px,#ceff31 244px,#c5ff3a 249.5px,#91ff6e 254.5px,#15ffea 259.5px,#82ff7d 264.5px,#98ff67 267px,#98ff67 270px,#89ff76 272px,#69ff96 274px,#3effc1 275.5px,#12ffed 276.5px,#00ecff 277px,#00b5ff 277.5px,#008fff 278px,#00a2ff 278.5px,#07fff8 279.5px,#3fc 280.5px,#59ffa6 282px,#73ff8c 284px,#79ff86 286px,#6f9 289px,#1affe5 293.5px,#59ffa6 298px,#67ff98 300px,#5fffa0 303px,#2fffd0 308px,#5cffa3 312.5px,#61ff9e 315.5px,#2dffd2 321px,#63ff9c 326px,#6aff95 328.5px,#54ffab 331px,#09fff6 334.5px,#17ffe8 335.5px,#6fff90 339px,#8aff75 342.5px,#83ff7c 344.5px,#6aff95 346.5px,#4fb 348px,#0afff5 349.5px,#00f7ff 350.5px,#72ff8d 353.5px,#af5 356px,#df2 360.5px,#fffe00 366.5px,#ffb800 389px,#ff9100 409px,#ff7d00 438.5px,#ff8900 466.5px,#ff0 598px,#aeff51 614px,#ceff31 625.5px,#c3ff3c 631px,#8cff73 636px,#16ffe9 640.5px,#20ffdf 641.5px,#65ff9a 644px,#86ff79 646px,#9f6 648.5px,#9f6 651px,#8bff74 653px,#6dff92 655px,#46ffb9 656.5px,#02fffd 658px,#0cf 658.5px,#009aff 659px,#0093ff 659.5px,#00f7ff 660.5px,#2bffd4 661.5px,#5fa 663px,#7f8 666px,#6eff91 669.5px,#21ffde 674px,#1affe5 675px,#57ffa8 679px,#68ff97 682px)"></i><i style="background:linear-gradient(90deg,#ffc200 0,#ff8400 30px,#f70 70px,#ffdf00 205px,#fffe00 223px,#d0ff2f 233.5px,#ef1 246.5px,#e3ff1c 250px,#c9ff36 253px,#a3ff5c 255.5px,#5effa1 258.5px,#52ffad 259.5px,#b1ff4e 265.5px,#beff41 268.5px,#b6ff49 271px,#9fff60 273px,#72ff8d 275px,#4bffb4 276px,#08fff7 277px,#00a8ff 277.5px,#0045ff 278px,#006fff 278.5px,#00dcff 279px,#19ffe6 279.5px,#50ffaf 280.5px,#7bff84 282px,#97ff68 284px,#9eff61 286px,#81ff7e 289.5px,#15ffea 293.5px,#21ffde 294.5px,#72ff8d 297.5px,#8aff75 300px,#81ff7e 303px,#3affc5 307px,#3fc 308px,#7f8 312px,#84ff7b 315.5px,#71ff8e 317.5px,#31ffce 321px,#3affc5 322px,#80ff7f 325.5px,#8eff71 328.5px,#68ff97 331.5px,#4affb5 332.5px,#06fff9 334px,#00f5ff 334.5px,#04fffb 335px,#70ff8f 337.5px,#a5ff5a 340.5px,#aeff51 343px,#a3ff5c 345px,#85ff7a 347px,#3dffc2 350px,#4bffb4 351px,#9f6 353.5px,#c4ff3b 355.5px,#ff0 361px,#ffad00 388.5px,#ff8700 409px,#ff7500 438.5px,#ff7f00 466px,#ffb500 521.5px,#ffde00 585px,#ff0 604.5px,#d0ff2f 615px,#ef1 627.5px,#e1ff1e 631.5px,#c6ff39 634.5px,#53ffac 640.5px,#57ffa8 641.5px,#94ff6b 644.5px,#b3ff4c 647px,#beff41 649.5px,#b7ff48 652px,#85ff7a 655.5px,#54ffab 657px,#1affe5 658px,#00d9ff 658.5px,#006bff 659px,#0047ff 659.5px,#00acff 660px,#08fff7 660.5px,#47ffb8 661.5px,#6aff95 662.5px,#9f6 665.5px,#9cff63 668px,#8bff74 670px,#65ff9a 672px,#26ffd9 674px,#14ffeb 675px,#6eff91 678.5px,#8cff73 682px)"></i><i style="background:linear-gradient(90deg,#ffb500 0,#ff7b00 30px,#ff6f00 70.5px,#fa0 140.5px,#ffd300 207px,#ff0 228.5px,#efff10 233.5px,#ff0 239.5px,#fffe00 250px,#df2 254px,#82ff7d 259.5px,#d6ff29 266px,#dfff20 269px,#d2ff2d 271.5px,#b8ff47 273.5px,#83ff7c 275.5px,#54ffab 276.5px,#00f3ff 277.5px,#09f 278px,#00b8ff 278.5px,#0efff1 279px,#59ffa6 280px,#90ff6f 281.5px,#b3ff4c 283.5px,#bfff40 286px,#b0ff4f 288.5px,#8bff74 290.5px,#5fa 292px,#03fffc 293.5px,#03fffc 294px,#53ffac 295.5px,#85ff7a 297px,#acff53 300px,#9bff64 303.5px,#7eff81 305px,#32ffcd 307.5px,#30ffcf 308px,#79ff86 310.5px,#96ff69 312px,#a5ff5a 313.5px,#a5ff5a 315.5px,#85ff7a 318px,#2cffd3 321px,#30ffcf 321.5px,#76ff89 323.5px,#9f6 325px,#b0ff4f 328px,#a3ff5c 330px,#86ff79 331.5px,#62ff9d 332.5px,#2fd 333.5px,#00e1ff 334px,#00b2ff 334.5px,#00edff 335px,#27ffd8 335.5px,#4dffb2 336px,#7eff81 337px,#a9ff56 338.5px,#c1ff3e 340px,#cfff30 342px,#c8ff37 344.5px,#72ff8d 350px,#7dff82 351px,#dbff24 355px,#fffc00 358px,#ff9b00 392px,#ff7a00 411.5px,#ff6c00 438.5px,#ff7600 466px,#fa0 521.5px,#ffd200 587px,#fdff02 610px,#efff10 615px,#ff0 621px,#ff0 631.5px,#d9ff26 635.5px,#83ff7c 640.5px,#86ff79 641.5px,#bfff40 645px,#d8ff27 647.5px,#deff21 650.5px,#d0ff2f 653px,#b2ff4d 655px,#8bff74 656.5px,#60ff9f 657.5px,#14ffeb 658.5px,#00beff 659px,#0097ff 659.5px,#00ebff 660px,#29ffd6 660.5px,#67ff98 661.5px,#8bff74 662.5px,#baff45 665.5px,#bf4 668.5px,#9bff64 671px,#72ff8d 672.5px,#0cfff3 674.5px,#00fdff 675px,#5fffa0 677px,#80ff7f 678px,#a3ff5c 680px,#adff52 682px)"></i><i style="background:linear-gradient(90deg,#fa0 0,#ff7200 30px,#ff6700 70.5px,#ff9f00 140px,#ffc500 206.5px,#fff700 232px,#ffe800 246px,#fffe00 253.5px,#acff53 259.5px,#f0ff0f 265.5px,#fdff02 269px,#ecff13 272px,#c3ff3c 274.5px,#93ff6c 276px,#26ffd9 278px,#2affd5 278.5px,#91ff6e 280.5px,#c5ff3a 282.5px,#df2 285px,#d5ff2a 288px,#c0ff3f 289.5px,#9aff65 291px,#6eff91 292px,#4cffb3 292.5px,#19ffe6 293px,#00b9ff 293.5px,#00b5ff 294px,#13ffec 294.5px,#47ffb8 295px,#68ff97 295.5px,#93ff6c 296.5px,#b7ff48 298px,#cbff34 300px,#c9ff36 302px,#b1ff4e 304px,#89ff76 305.5px,#27ffd8 307.5px,#2fd 308px,#81ff7e 310px,#abff54 311.5px,#c4ff3b 313.5px,#c1ff3e 316px,#92ff6d 318.5px,#1cffe3 321px,#26ffd9 321.5px,#7bff84 323px,#adff52 324.5px,#cbff34 326.5px,#cf3 329px,#baff45 330.5px,#93ff6c 332px,#5fffa0 333px,#2fffd0 333.5px,#00c2ff 334px,#0075ff 334.5px,#00eaff 335px,#3effc1 335.5px,#87ff78 336.5px,#bdff42 338px,#e0ff1f 340px,#edff12 342px,#e7ff18 344.5px,#9dff62 350px,#a7ff58 351px,#fffe00 355.5px,#ffdc00 362px,#ff9200 391px,#ff7200 411.5px,#ff6400 438.5px,#ff6e00 466px,#ff9f00 521px,#ffc400 586.5px,#ffd300 599px,#fff700 613px,#ffe800 627px,#fffd00 634.5px,#b6ff49 639.5px,#abff54 641px,#ef1 646.5px,#fdff02 650px,#ef1 653px,#c7ff38 655.5px,#9bff64 657px,#2effd1 659px,#24ffdb 659.5px,#89ff76 661.5px,#c1ff3e 663.5px,#deff21 666.5px,#d2ff2d 669.5px,#baff45 671px,#8fff70 672.5px,#5bffa4 673.5px,#31ffce 674px,#00e0ff 674.5px,#00a2ff 675px,#00f4ff 675.5px,#34ffcb 676px,#7f8 677px,#a9ff56 678.5px,#c2ff3d 680px,#cdff32 682px)"></i><i style="background:linear-gradient(90deg,#ff9f00 0,#ff6a00 30px,#ff5f00 70.5px,#ff9500 140px,#ffb900 207.5px,#ffe800 232.5px,#ffda00 247px,#ffe400 251.5px,#fffd00 255.5px,#cfff30 259.5px,#feff01 264px,#fff000 268.5px,#fffd00 272.5px,#d5ff2a 275px,#67ff98 278px,#68ff97 278.5px,#b2ff4d 280.5px,#d9ff26 282px,#f4ff0b 284px,#fcff03 286px,#e6ff19 289px,#b7ff48 291px,#8aff75 292px,#67ff98 292.5px,#2bffd4 293px,#00b4ff 293.5px,#00abff 294px,#20ffdf 294.5px,#5effa1 295px,#82ff7d 295.5px,#afff50 296.5px,#d4ff2b 298px,#e9ff16 300px,#e3ff1c 302.5px,#b4ff4b 305px,#6dff92 306.5px,#0afff5 307.5px,#0ef 308px,#29ffd6 308.5px,#5effa1 309px,#80ff7f 309.5px,#bcff43 311px,#e2ff1d 313.5px,#d9ff26 316.5px,#bcff43 318px,#9f6 319px,#59ffa6 320px,#21ffde 320.5px,#00e4ff 321px,#0dfff2 321.5px,#4bffb4 322px,#76ff89 322.5px,#bcff43 324px,#e8ff17 326.5px,#eaff15 329px,#d8ff27 330.5px,#b0ff4f 332px,#7dff82 333px,#52ffad 333.5px,#16ffe9 334px,#00f3ff 334.5px,#63ff9c 335.5px,#a7ff58 336.5px,#dbff24 338px,#fdff02 340px,#fffe00 345px,#c3ff3c 350px,#fbff04 353.5px,#ffe100 357.5px,#ff8700 391.5px,#ff6900 411.5px,#ff5d00 439px,#ffb800 588px,#ffe800 613.5px,#ffdb00 629px,#fffb00 636.5px,#cfff30 641px,#fffe00 645.5px,#fff000 650px,#ff0 654px,#cf3 656.5px,#6cff93 659px,#65ff9a 659.5px,#bcff43 662px,#dfff20 663.5px,#f7ff08 665.5px,#fcff03 667.5px,#efff10 669.5px,#cf3 671.5px,#96ff69 673px,#7f8 673.5px,#47ffb8 674px,#00e8ff 674.5px,#0093ff 675px,#00feff 675.5px,#49ffb6 676px,#75ff8a 676.5px,#a8ff57 677.5px,#d9ff26 679.5px,#ebff14 682px)"></i><i style="background:linear-gradient(90deg,#ff9400 0,#ff6200 30px,#ff5800 70.5px,#ff8c00 140px,#ffad00 207.5px,#ffda00 232.5px,#fc0 247px,#ffda00 252.5px,#fbff04 258px,#f0ff0f 260px,#fffe00 262px,#ffe100 268.5px,#fffa00 274px,#f2ff0d 275px,#a3ff5c 277.5px,#98ff67 278.5px,#feff01 282.5px,#fff100 286px,#fffe00 289px,#e3ff1c 290.5px,#c1ff3e 291.5px,#89ff76 292.5px,#29ffd6 293.5px,#2fd 294px,#7eff81 295px,#a0ff5f 295.5px,#dbff24 297px,#fdff02 299px,#ff0 302.5px,#deff21 304.5px,#a5ff5a 306px,#84ff7b 306.5px,#4effb1 307px,#00e6ff 307.5px,#009eff 308px,#20ffdf 308.5px,#70ff8f 309px,#9f6 309.5px,#c7ff38 310.5px,#edff12 312px,#fffe00 314px,#f5ff0a 316.5px,#c8ff37 318.5px,#97ff68 319.5px,#6cff93 320px,#1affe5 320.5px,#0098ff 321px,#00f2ff 321.5px,#5bffa4 322px,#8fff70 322.5px,#c5ff3a 323.5px,#e5ff1a 324.5px,#ff0 326px,#fffe00 329.5px,#e9ff16 331px,#b8ff47 332.5px,#5bffa4 334px,#4fffb0 334.5px,#c6ff39 336.5px,#fffd00 338.5px,#ffe900 342.5px,#fffc00 347px,#e5ff1a 350px,#fcff03 352px,#ffdc00 356px,#ffc600 360.5px,#ff8000 390.5px,#ff6200 411px,#ff5600 438.5px,#ffad00 588px,#ffda00 613.5px,#ffcd00 629.5px,#ffdc00 634px,#fdff02 639px,#f0ff0f 641px,#feff01 643px,#ffe700 647px,#ffe200 650.5px,#fffd00 655.5px,#9cff63 659px,#97ff68 659.5px,#fbff04 663.5px,#fff100 667px,#fffc00 670px,#e8ff17 671.5px,#b4ff4b 673px,#97ff68 673.5px,#3bffc4 674.5px,#1cffe3 675px,#3bffc4 675.5px,#93ff6c 676.5px,#d5ff2a 678px,#fbff04 680px,#fffb00 682px)"></i><i style="background:linear-gradient(90deg,#ff8a00 0,#ff5a00 30px,#ff5100 71px,#ff8300 140px,#ffa200 207.5px,#ffcd00 232.5px,#ffbf00 247px,#ffcd00 252.5px,#fff700 259.5px,#ffd800 266px,#ffd500 270px,#ffe200 273px,#fffe00 275.5px,#c9ff36 277.5px,#c1ff3e 278.5px,#fffa00 281.5px,#ffe200 286px,#fff900 290px,#feff01 290.5px,#deff21 291.5px,#6eff91 293.5px,#69ff96 294px,#d5ff2a 296px,#fffe00 297.5px,#ffec00 301px,#fffc00 304px,#eaff15 305px,#c0ff3f 306px,#a0ff5f 306.5px,#70ff8f 307px,#2bffd4 307.5px,#1fe 308px,#8eff71 309px,#b4ff4b 309.5px,#f1ff0e 311px,#fffa00 312px,#ffef00 315px,#feff01 317.5px,#f2ff0d 318px,#b3ff4c 319.5px,#8bff74 320px,#15ffea 321px,#39ffc6 321.5px,#7eff81 322px,#acff53 322.5px,#e0ff1f 323.5px,#ff0 324.5px,#ffea00 327.5px,#fffc00 331px,#e9ff16 332px,#8eff71 334px,#8f7 334.5px,#e3ff1c 336.5px,#fffb00 337.5px,#ffe200 340px,#ffdb00 342.5px,#fffc00 350.5px,#ffce00 356px,#ffb900 360.5px,#f70 390px,#ff5b00 411px,#ff4f00 438.5px,#ffa100 587.5px,#ffcd00 614px,#ffbf00 628.5px,#fc0 633.5px,#fff700 640.5px,#ffd300 650px,#ffde00 653.5px,#fffb00 656.5px,#c0ff3f 659.5px,#fffd00 662.5px,#ffe200 667px,#fffd00 671.5px,#d2ff2d 673px,#79ff86 674.5px,#67ff98 675px,#75ff8a 675.5px,#cf3 677px,#fdff02 678.5px,#ffec00 682px)"></i><i style="background:linear-gradient(90deg,#ff8100 0,#ff5400 29px,#ff4b00 44px,#ff5000 84.5px,#ff7b00 140px,#ff9700 208px,#ffc100 232.5px,#ffb300 247.5px,#ffc000 252.5px,#ffe700 259.5px,#ffc600 269px,#ffd500 273px,#f6ff09 277px,#e4ff1b 278.5px,#ff0 280px,#ffe200 282.5px,#ffd500 285.5px,#fd0 288.5px,#fff900 291px,#faff05 291.5px,#a1ff5e 293.5px,#9dff62 294px,#fffe00 296.5px,#ffe600 298.5px,#ffde00 301px,#ffe500 303px,#fffc00 305px,#dcff23 306px,#70ff8f 307.5px,#6f9 308px,#d0ff2f 309.5px,#fcff03 310.5px,#fff800 311px,#ffe500 313px,#ffe100 315px,#fcff03 318.5px,#cfff30 319.5px,#6cff93 321px,#7dff82 321.5px,#e5ff1a 323px,#fbff04 323.5px,#fff800 324px,#ffe200 326px,#ffdc00 328px,#ffe400 330px,#fffc00 332px,#baff45 334px,#b6ff49 334.5px,#ff0 336.5px,#ffe000 338.5px,#ffd000 341px,#ffd100 344.5px,#ffed00 350px,#ffad00 360.5px,#ff7100 388.5px,#ff5300 411px,#ff4800 438.5px,#ff9600 587.5px,#ffc100 614px,#ffb300 628.5px,#ffbf00 633.5px,#ffe700 640.5px,#ffca00 647.5px,#ffc800 651.5px,#ffdb00 655px,#fbff04 658px,#e4ff1b 659.5px,#fffb00 661.5px,#ffdc00 664.5px,#ffd600 668px,#ffe300 670.5px,#fffe00 672.5px,#a8ff57 674.5px,#9cff63 675px,#a5ff5a 675.5px,#fbff04 677.5px,#ffe800 679.5px,#ffde00 682px)"></i><i style="background:linear-gradient(90deg,#ff7800 0,#ff4d00 29px,#f40 44px,#ff4900 84.5px,#ff7200 139.5px,#ff8d00 208px,#ffb500 232.5px,#ffa800 247.5px,#ffb200 252px,#ffd900 259.5px,#ffba00 269.5px,#ffc800 273px,#fffc00 278.5px,#ffd100 283px,#ffc800 286.5px,#ffd700 289.5px,#fffd00 292px,#cbff34 293.5px,#c8ff37 294px,#faff05 295.5px,#fff800 296px,#ffd800 298.5px,#ffd000 301px,#ffdb00 303.5px,#fff800 305.5px,#f7ff08 306px,#a4ff5b 307.5px,#9eff61 308px,#fffd00 310px,#ffde00 312px,#ffd300 314.5px,#ffde00 317px,#fffd00 319px,#a2ff5d 321px,#adff52 321.5px,#fffe00 323px,#fd0 325px,#ffcf00 328px,#ffdb00 330.5px,#fdff02 333px,#dfff20 334px,#dcff23 334.5px,#f6ff09 335.5px,#ffd300 338.5px,#ffc300 341px,#ffc200 344px,#ffde00 350px,#ffa200 360.5px,#ff6b00 387.5px,#ff4d00 411px,#ff4200 439px,#ff8c00 587.5px,#ffb500 613.5px,#ffa700 628.5px,#ffb300 633.5px,#ffd900 640.5px,#ffbc00 648px,#ffbd00 652px,#ffce00 655px,#fffc00 659.5px,#ffd200 664px,#ffc800 667px,#ffd500 670.5px,#fff900 673px,#c8ff37 675px,#cdff32 675.5px,#fffc00 677px,#ffda00 679.5px,#ffd000 682px)"></i><i style="background:linear-gradient(90deg,#ff6f00 0,#ff3e00 44px,#ff4300 85px,#ff6b00 139.5px,#ff8300 208px,#fa0 232.5px,#ff9d00 247.5px,#ffcb00 259.5px,#ffae00 269.5px,#fb0 273px,#ffeb00 278.5px,#ffc400 283px,#ffbc00 286.5px,#ffd000 290px,#fbff04 293px,#edff12 294px,#fffc00 295px,#ffcf00 298px,#ffc400 301px,#ffd300 304px,#fbff04 306.5px,#cfff30 307.5px,#caff35 308px,#fffa00 309.5px,#ffd600 311.5px,#ffc600 314.5px,#ffd600 317.5px,#fffa00 319.5px,#ceff31 321px,#d6ff29 321.5px,#fffc00 322.5px,#ffd000 325px,#ffc200 328px,#ffce00 330.5px,#feff01 334.5px,#ffc600 338.5px,#ffb500 341.5px,#ffd000 350px,#ff9700 360.5px,#ff6100 388.5px,#ff4600 411px,#ff3c00 438.5px,#ff8200 587.5px,#fa0 613.5px,#ff9c00 628.5px,#ffa800 633.5px,#ffcb00 640.5px,#ffb000 648px,#ffb000 651.5px,#ffbe00 654.5px,#ffec00 659.5px,#ffc300 664.5px,#fb0 667.5px,#ffcd00 671px,#fffd00 674px,#f3ff0c 674.5px,#edff12 675px,#fdff02 676px,#ffd100 679px,#ffc400 682px)"></i><i style="background:linear-gradient(90deg,#ff6700 0,#ff3800 44px,#ff4500 101.5px,#ff6300 139.5px,#ff7a00 208px,#ff9f00 232.5px,#ff9200 247.5px,#ffbf00 259.5px,#ffa300 269.5px,#ffb000 273px,#ffdc00 278.5px,#ffb600 283.5px,#ffb000 286.5px,#ffbe00 289.5px,#fff700 294px,#ffc300 298px,#ffb800 301px,#ffc700 304px,#fffd00 307px,#f3ff0c 307.5px,#fbff04 308.5px,#ffca00 311.5px,#fb0 314px,#ffc500 317px,#fbff04 320.5px,#f9ff06 321.5px,#ffc900 324.5px,#ffb700 327px,#ffbe00 330px,#fe0 334.5px,#ffba00 338.5px,#fa0 341.5px,#ffc300 350px,#ff9800 357.5px,#ff8600 363.5px,#ff5700 390.5px,#ff3800 425.5px,#ff3d00 466px,#ff6300 521px,#ff7900 586.5px,#ff9f00 614px,#ff9200 628.5px,#ffbf00 640.5px,#ffa500 651.5px,#ffdc00 659.5px,#ffb700 664.5px,#ffb000 667.5px,#ffc100 671px,#fff700 675px,#ffc500 679px,#ffb800 682px)"></i><i style="background:linear-gradient(90deg,#ff5f00 0,#ff3a00 29.5px,#ff3100 57.5px,#ff4a00 123.5px,#ff5c00 140px,#ff6f00 204px,#ff9500 232px,#ff8900 248.5px,#ffb300 259.5px,#f90 269.5px,#ffa500 273px,#ffce00 278.5px,#fa0 283.5px,#ffa500 286.5px,#ffb300 289.5px,#ffe600 294px,#ffb700 298px,#ffad00 301.5px,#ffc100 304.5px,#fff500 308px,#ffbe00 311.5px,#ffaf00 314px,#ffbe00 317.5px,#fff300 321px,#ffbd00 324.5px,#ffac00 327px,#ffb200 330px,#ffde00 334.5px,#ffaf00 338.5px,#ff9f00 341.5px,#ffb700 350px,#ff8e00 357.5px,#ff7d00 363.5px,#ff5000 390.5px,#f30 425.5px,#ff3700 466px,#ff5c00 521px,#ff7000 586.5px,#ff9500 613.5px,#f80 628.5px,#ffb300 640.5px,#ff9a00 651.5px,#ffce00 659.5px,#ffab00 664.5px,#ffa500 668px,#ffb500 671px,#ffe600 675px,#ffb900 679px,#ffac00 682px)"></i><i style="background:linear-gradient(90deg,#ff5800 0,#ff3500 29.5px,#ff2c00 57.5px,#f40 123.5px,#ff5600 140px,#ff6700 203.5px,#ff8c00 232px,#ff7f00 248px,#ffa800 259.5px,#ff8f00 269.5px,#ffc100 278.5px,#ffa000 283.5px,#ff9a00 286.5px,#ffa800 289.5px,#ffd600 294px,#ffa900 298.5px,#ffa200 301.5px,#ffb000 304px,#ffe400 308px,#ffb300 311.5px,#ffa400 314px,#ffae00 317px,#ffe200 321px,#ffb200 324.5px,#ffa100 327px,#ffa700 330px,#ffcf00 334.5px,#ffa400 338.5px,#ff9500 341.5px,#ffab00 350px,#ff8400 357.5px,#ff7400 363.5px,#ff4900 390.5px,#ff2e00 425.5px,#ff3200 466px,#ff5600 521px,#ff6800 586.5px,#ff8c00 613.5px,#ff7f00 628.5px,#ffa700 640.5px,#ff9000 651.5px,#ffc100 659.5px,#ff9e00 665px,#ff9b00 668px,#fa0 671px,#ffd600 675px,#fa0 679.5px,#ffa200 682px)"></i><i style="background:linear-gradient(90deg,#ff5100 0,#ff2900 44px,#ff3400 101.5px,#ff4f00 139.5px,#ff6100 208px,#ff8300 232.5px,#ff7600 247.5px,#ff9d00 259.5px,#ff8500 269.5px,#ffb400 278.5px,#ff9500 283.5px,#ff9000 286.5px,#ff9d00 289.5px,#ffc800 294px,#ffa200 298px,#ff9700 301px,#ffa500 304px,#ffd400 308px,#ffa800 311.5px,#ff9a00 314px,#ffa300 317px,#ffd300 321px,#ffa200 325px,#ff9600 327.5px,#ff9d00 330px,#ffc200 334.5px,#f90 338.5px,#ff8b00 341.5px,#ffa000 350px,#ff6c00 363.5px,#ff4300 390px,#ff2900 425.5px,#ff2d00 466px,#ff4f00 521px,#ff6000 586.5px,#ff8300 613.5px,#ff7600 628.5px,#ff9d00 640.5px,#ff8600 651.5px,#ffb400 659.5px,#ff9400 665px,#ff9100 668px,#ffa000 671px,#ffc800 675px,#ffa000 679.5px,#ff9700 682px)"></i><i style="background:linear-gradient(90deg,#ff4a00 0,#ff2400 44px,#ff2e00 101.5px,#ff4900 139.5px,#ff5a00 208px,#ff7a00 232.5px,#ff6d00 247.5px,#ff9300 259.5px,#ff7c00 269.5px,#ffa900 278.5px,#ff8700 286.5px,#ff9300 289.5px,#fb0 294px,#ff9700 298px,#ff8d00 301px,#ff9b00 304px,#ffc600 308px,#ff9d00 311.5px,#ff9000 314px,#f90 317px,#ffc500 321px,#ff9800 325px,#ff8c00 327.5px,#ff9300 330px,#ffb500 334.5px,#ff8f00 338.5px,#ff8200 341.5px,#ff9600 350px,#ff6400 363.5px,#ff3d00 390px,#ff2400 425.5px,#ff2800 466px,#ff4900 520.5px,#ff5800 586.5px,#ff7a00 613.5px,#ff6d00 628.5px,#ff9300 640.5px,#ff7d00 651.5px,#ffa900 659.5px,#ff8a00 665px,#ff8700 668px,#fb0 675px,#ff9500 679.5px,#ff8d00 682px)"></i><i style="background:linear-gradient(90deg,#f40 0,#ff2000 44px,#ff2900 101.5px,#f40 139.5px,#ff5300 208px,#ff7200 232.5px,#ff6500 247.5px,#ff8a00 259.5px,#ff7300 269.5px,#ff9e00 278.5px,#ff7e00 286.5px,#ffaf00 294px,#ff8b00 298.5px,#ff8400 301px,#ff8d00 303.5px,#ffb900 308px,#ff8700 314px,#ff8f00 317px,#ffb800 321px,#ff8e00 325px,#ff8300 327.5px,#ffa900 334.5px,#ff7900 341.5px,#ff8d00 350px,#ff5c00 363.5px,#ff3800 390px,#ff1f00 425.5px,#ff2300 466px,#f40 520.5px,#ff5100 586.5px,#ff7200 613.5px,#ff6500 628.5px,#ff8900 640.5px,#ff7400 651.5px,#ff9e00 659.5px,#ff7e00 668px,#ffaf00 675px,#ff8400 682px)"></i><i style="background:linear-gradient(90deg,#ff3e00 0,#ff1b00 44px,#ff2400 101.5px,#ff3e00 139.5px,#ff4c00 208px,#ff6a00 232px,#ff5e00 247.5px,#ff8100 259.5px,#ff6b00 269.5px,#ff9400 278.5px,#ff7500 286.5px,#ffa300 294px,#ff7b00 301px,#ff8400 303.5px,#ffac00 308px,#ff7e00 314px,#ff8600 317px,#ffab00 321px,#ff8500 325px,#ff7a00 327.5px,#ff9e00 334.5px,#ff7000 341.5px,#ff8300 350px,#f50 363.5px,#ff3200 390px,#ff1b00 425.5px,#ff1f00 466px,#ff3e00 520.5px,#ff4b00 586.5px,#ff6b00 613.5px,#ff5e00 628.5px,#ff8000 640.5px,#ff6c00 651.5px,#ff9400 659.5px,#ff7500 668px,#ffa300 675px,#ff7b00 682px)"></i><i style="background:linear-gradient(90deg,#ff3800 0,#ff1700 44px,#ff2000 101.5px,#ff3900 139.5px,#ff4500 208px,#ff6300 232px,#ff5600 247.5px,#ff7800 259.5px,#ff6300 269.5px,#ff8a00 278.5px,#ff6d00 286.5px,#ff9800 294px,#ff7300 301px,#ff7b00 303.5px,#ffa100 308px,#ff7500 314px,#ff7d00 317px,#ffa000 321px,#ff7200 327.5px,#ff9400 334.5px,#ff6800 341.5px,#ff7b00 350px,#ff4e00 363.5px,#ff2d00 390px,#ff1700 425.5px,#ff1a00 466px,#ff3900 520.5px,#f40 586.5px,#ff6300 613.5px,#ff5600 628.5px,#ff7800 640.5px,#ff6400 651.5px,#ff8a00 659.5px,#ff6d00 668px,#ff9800 675px,#ff7200 682px)"></i><i style="background:linear-gradient(90deg,#f30 0,#ff1300 44px,#ff1c00 101.5px,#ff3400 139.5px,#ff3f00 208px,#ff5c00 232px,#ff4f00 247.5px,#ff7000 259.5px,#ff5b00 269.5px,#ff8100 278.5px,#ff6500 286.5px,#ff8e00 294px,#ff6a00 301px,#ff9600 308px,#ff6d00 314px,#ff7100 316.5px,#ff9500 321px,#ff6900 327.5px,#ff8a00 334.5px,#ff6000 341.5px,#ff7300 350px,#ff4700 363.5px,#ff2800 390px,#ff1300 425.5px,#ff3e00 586.5px,#ff5c00 613.5px,#ff4f00 628.5px,#ff7000 640.5px,#ff5c00 651.5px,#ff8100 659.5px,#ff6500 668px,#ff8e00 675px,#ff6a00 682px)"></i><i style="background:linear-gradient(90deg,#ff2e00 0,#ff1000 44px,#ff1800 101.5px,#ff3000 139.5px,#ff3900 208px,#ff5600 232px,#ff4900 247.5px,#ff6800 259.5px,#ff5400 269.5px,#ff7800 278.5px,#ff5d00 286.5px,#ff8500 294px,#ff6300 301px,#ff8c00 308px,#ff6500 314px,#ff6900 316.5px,#ff8b00 321px,#ff6200 327.5px,#ff8100 334.5px,#ff5900 341.5px,#ff6b00 350px,#ff4100 363.5px,#ff2300 390px,#ff1000 425.5px,#ff3800 586.5px,#ff5600 613.5px,#ff4900 628.5px,#ff6800 640.5px,#f50 651.5px,#ff7800 659.5px,#ff5d00 668px,#ff8500 675px,#ff6300 682px)"></i><i style="background:linear-gradient(90deg,#ff2900 0,#ff0c00 44px,#ff1400 101.5px,#ff2b00 139.5px,#ff3400 208px,#ff4f00 232px,#ff4300 247.5px,#ff6100 259.5px,#ff4d00 269.5px,#ff7000 278.5px,#ff5600 286.5px,#ff7c00 294px,#ff5b00 301px,#ff8300 308px,#ff5d00 314px,#ff6200 316.5px,#ff8200 321px,#ff5a00 327.5px,#ff7800 334.5px,#ff5200 341.5px,#ff6300 350px,#ff3b00 363.5px,#ff1f00 390px,#ff0c00 425.5px,#ff1400 482.5px,#ff2100 493px,#ff1b00 504.5px,#ff2b00 521px,#f30 586.5px,#ff4f00 613.5px,#ff4200 628.5px,#ff6100 640.5px,#ff4e00 651.5px,#ff7000 659.5px,#ff5600 668px,#ff7c00 675px,#ff5b00 682px)"></i><i style="background:linear-gradient(90deg,#ff2400 0,#ff0900 44px,#ff1000 101.5px,#ff2700 139.5px,#ff2e00 207.5px,#ff4900 232px,#ff3c00 247.5px,#ff5a00 259.5px,#ff4700 269.5px,#ff6800 278.5px,#ff4f00 286.5px,#ff7300 294px,#ff5400 301px,#ff7a00 308px,#ff5600 314px,#ff5b00 316.5px,#ff7900 321px,#ff5300 327.5px,#ff7000 334.5px,#ff4b00 341.5px,#ff5c00 350px,#ff3500 363.5px,#ff1b00 389.5px,#ff0900 425.5px,#ff1000 482.5px,#ff1d00 493px,#ff1700 504.5px,#ff2700 521px,#ff2d00 586.5px,#ff4900 613.5px,#ff3c00 628.5px,#ff5a00 640.5px,#ff4800 651.5px,#ff6800 659.5px,#ff4f00 668px,#ff7300 675px,#ff5400 682px)"></i><i style="background:linear-gradient(90deg,#ff2000 0,#ff0600 44px,#ff0d00 101.5px,#ff2300 139.5px,#ff2900 207.5px,#f40 232px,#ff3700 247.5px,#ff5400 259.5px,#ff4100 269.5px,#ff6100 278.5px,#ff4900 286.5px,#ff6b00 294px,#ff4d00 301px,#ff7100 308px,#ff4f00 314px,#ff7100 321px,#ff4d00 327.5px,#ff6800 334.5px,#ff4500 341.5px,#ff5600 350px,#ff3000 363.5px,#ff0600 425.5px,#ff0d00 482.5px,#ff1a00 493px,#ff1300 504.5px,#ff2300 521px,#ff2800 586.5px,#f40 613.5px,#ff3700 628.5px,#ff5300 640.5px,#ff4200 651.5px,#ff6100 659.5px,#ff4900 668px,#ff6b00 675px,#ff4d00 682px)"></i><i style="background:linear-gradient(90deg,#ff1b00 0,#ff0300 57.5px,#f10 93px,#ff0900 101.5px,#ff1600 111.5px,#ff0f00 123.5px,#ff1f00 139.5px,#ff2300 203px,#ff3e00 232px,#ff3200 248px,#ff4d00 259.5px,#ff3b00 269.5px,#ff5a00 278px,#ff4200 286.5px,#ff6400 294px,#ff4700 301px,#ff6900 308px,#ff4900 314px,#ff6900 321px,#ff4600 327.5px,#ff6100 334.5px,#ff3f00 341.5px,#ff4f00 350px,#ff2b00 363.5px,#ff0300 425.5px,#ff0d00 459px,#ff0600 466px,#f10 474px,#ff0900 482.5px,#ff1600 493px,#ff0f00 504.5px,#ff1f00 521px,#ff2300 586.5px,#ff3e00 613.5px,#ff3100 628.5px,#ff4d00 640.5px,#ff3c00 651.5px,#ff5a00 659.5px,#ff4300 668px,#ff6400 675px,#ff4700 682px)"></i><i style="background:linear-gradient(90deg,#ff1700 0,#f00 57.5px,#ff0b00 77.5px,#ff0300 85px,#ff0e00 93px,#ff0600 101.5px,#ff1300 111.5px,#ff0c00 123.5px,#ff1c00 139.5px,#ff1e00 203px,#ff3900 232px,#ff2c00 248px,#ff4700 259.5px,#ff3500 269.5px,#ff5300 278px,#ff3c00 286.5px,#ff5d00 294px,#ff4100 301px,#ff6200 308px,#ff4300 314px,#ff6100 321px,#ff4000 327.5px,#ff5a00 334.5px,#ff3900 341.5px,#ff4900 350px,#ff2600 363.5px,#ff0100 425.5px,#ff0b00 459px,#ff0300 466px,#ff0e00 474px,#ff0600 482.5px,#ff1300 493px,#ff0c00 504.5px,#ff1c00 520.5px,#ff1f00 586.5px,#ff3900 613.5px,#ff2c00 628.5px,#ff4700 640.5px,#ff3600 651.5px,#ff5300 659.5px,#ff3d00 668px,#ff5d00 675px,#ff4100 682px)"></i><i style="background:linear-gradient(90deg,#ff1400 0,#ff0f00 21px,#ff0100 30px,#ff0900 77.5px,#f00 84.5px,#ff1000 111.5px,#ff0900 124px,#ff1800 139.5px,#ff1a00 203.5px,#ff3400 232px,#ff2700 248px,#ff4200 259.5px,#ff3000 269.5px,#ff4d00 278px,#ff3700 286.5px,#ff5600 294px,#ff3b00 301px,#ff5b00 308px,#ff3d00 314px,#ff5a00 321px,#ff3a00 327.5px,#ff5300 334.5px,#f30 341.5px,#ff4300 350px,#ff2100 363.5px,#f00 424.5px,#ff0900 459px,#ff0100 466.5px,#ff0c00 474px,#ff0300 482.5px,#f10 493px,#ff0900 504.5px,#ff1800 521px,#ff1b00 586px,#ff3400 613.5px,#ff2700 628.5px,#ff4200 640.5px,#ff3100 651.5px,#ff4d00 659.5px,#ff3700 668px,#ff5600 675px,#ff3b00 682px)"></i><i style="background:linear-gradient(90deg,#ff1000 0,#ff0d00 21px,#f00 29px,#f00 86.5px,#ff0e00 111.5px,#ff0600 124px,#ff1500 139.5px,#ff1600 203.5px,#ff2f00 232px,#ff2300 248px,#ff3c00 259.5px,#ff2b00 269.5px,#ff4700 278px,#ff3100 286.5px,#ff4f00 294px,#ff3500 301px,#ff5400 308px,#ff3700 314px,#ff5300 321px,#ff3500 327.5px,#ff4d00 334.5px,#ff2e00 341.5px,#ff3e00 350.5px,#ff1e00 362.5px,#f00 410.5px,#f00 467.5px,#ff0900 474px,#ff0100 482.5px,#ff1500 520.5px,#ff1600 585px,#ff2f00 613.5px,#f20 628.5px,#ff3c00 640.5px,#ff2c00 651.5px,#ff4700 659.5px,#ff3200 668px,#ff4f00 675px,#ff3500 682px)"></i><i style="background:linear-gradient(90deg,#ff0d00 0,#f00 27.5px,#f00 102.5px,#ff1200 139.5px,#ff1200 203.5px,#ff2b00 232px,#ff1e00 248px,#ff3700 259.5px,#ff2600 269.5px,#ff4100 278px,#ff2c00 286.5px,#ff4900 294px,#ff3000 301px,#ff4d00 308px,#ff3200 314px,#ff4d00 321px,#ff2f00 327.5px,#ff4700 334.5px,#ff2900 341.5px,#ff3800 350.5px,#ff1a00 362.5px,#f00 408.5px,#ff1200 584.5px,#ff2b00 613.5px,#ff1e00 628.5px,#ff3700 640.5px,#ff2700 651.5px,#ff4100 659.5px,#ff2c00 668px,#ff4900 675px,#ff3000 682px)"></i><i style="background:linear-gradient(90deg,#ff0a00 0,#f00 26.5px,#f00 104.5px,#ff0900 112px,#f00 122.5px,#ff1000 139px,#ff0f00 203.5px,#ff2700 232px,#ff1a00 248px,#ff3200 259.5px,#ff2100 269.5px,#ff3c00 278px,#ff2700 286.5px,#ff4300 294px,#ff2b00 301px,#ff4700 308px,#ff2d00 314px,#ff4700 321px,#ff2a00 327.5px,#ff4100 334.5px,#ff2400 341.5px,#f30 350.5px,#ff1600 362.5px,#f00 407.5px,#ff0f00 586.5px,#ff2700 613px,#ff1a00 629.5px,#ff3200 640.5px,#f20 651px,#ff3c00 659.5px,#ff2700 667.5px,#ff4300 675px,#ff2b00 682px)"></i><i style="background:linear-gradient(90deg,#ff0700 0,#f00 126px,#ff0d00 139.5px,#ff0b00 203.5px,#ff2300 232px,#ff1600 248px,#ff2e00 259.5px,#ff1d00 269.5px,#ff3700 278px,#ff2300 286.5px,#ff3e00 294px,#ff2600 301px,#ff4200 308px,#ff2800 314px,#ff4100 321px,#ff2600 327.5px,#ff3c00 334.5px,#ff2000 341.5px,#ff2f00 350.5px,#ff1300 361.5px,#f00 390.5px,#ff0c00 586px,#ff2300 613px,#ff1600 629.5px,#ff2e00 640.5px,#ff1d00 651px,#ff3700 659.5px,#ff2300 667.5px,#ff3e00 675px,#ff2600 682px)"></i><i style="background:linear-gradient(90deg,#ff0400 0,#ff0800 203.5px,#ff1f00 232px,#ff1200 248px,#ff2900 259.5px,#ff1900 269.5px,#ff3200 278px,#ff1e00 286.5px,#ff3800 294px,#f20 301px,#ff3c00 308px,#ff2300 314px,#ff3c00 321px,#ff2100 327.5px,#ff3600 334.5px,#ff1c00 341.5px,#ff2a00 350.5px,#ff0f00 361.5px,#f00 387px,#ff0800 585.5px,#ff1f00 613px,#ff1200 629.5px,#ff2900 640.5px,#ff1900 651px,#ff3200 659.5px,#ff1e00 667.5px,#ff3800 675px,#f20 682px)"></i><i style="background:linear-gradient(90deg,#ff0100 0,#ff0500 204px,#ff1c00 232px,#ff0f00 248px,#ff2500 259.5px,#ff1500 269.5px,#ff2d00 278px,#ff1a00 286.5px,#f30 294px,#ff1d00 301px,#ff3700 308px,#ff1f00 314px,#ff3700 321px,#ff1d00 327.5px,#ff3200 334.5px,#ff1800 341.5px,#ff2600 350.5px,#ff0c00 361px,#f00 384px,#ff0500 585px,#ff1c00 613px,#ff0f00 629.5px,#ff2500 640.5px,#ff1500 651px,#ff2d00 659.5px,#ff1a00 667.5px,#f30 675px,#ff1d00 682px)"></i><i style="background:linear-gradient(90deg,#f00 0,#ff0200 204px,#ff1800 232px,#ff0b00 248px,#ff2100 259.5px,#f10 269.5px,#ff2900 278px,#ff1600 286.5px,#ff2f00 294px,#ff1900 301px,#ff3200 308px,#ff1b00 314px,#ff3200 321px,#ff1900 327.5px,#ff2d00 334.5px,#ff1400 341.5px,#f20 350.5px,#ff0900 361px,#f00 381.5px,#ff0200 585px,#ff1800 613px,#ff0b00 629.5px,#ff2100 640.5px,#f10 651px,#ff2900 659.5px,#ff1600 667.5px,#ff2f00 675px,#ff1900 682px)"></i><i style="background:linear-gradient(90deg,#f00 0,#f00 206px,#ff1500 232px,#ff0800 248px,#ff1e00 259.5px,#ff0e00 269.5px,#ff2500 278px,#ff1200 286.5px,#ff2a00 294px,#ff1500 301px,#ff2d00 308px,#ff1700 314px,#ff2d00 321px,#ff1500 327.5px,#ff2800 334.5px,#ff1000 341.5px,#ff1f00 350.5px,#ff0600 361px,#f00 378.5px,#f00 587px,#ff1500 613px,#ff0800 629.5px,#ff1e00 640.5px,#ff0e00 651px,#ff2500 659.5px,#ff1200 667.5px,#ff2a00 675px,#ff1500 682px)"></i><i style="background:linear-gradient(90deg,#f00 0,#f00 211px,#ff1200 232px,#ff0500 248px,#ff1a00 259.5px,#ff0a00 269.5px,#ff2100 278px,#ff0f00 286.5px,#ff2600 294px,#ff1200 301px,#ff2900 308px,#ff1300 314px,#ff2900 321px,#f10 327.5px,#ff2400 334.5px,#ff0d00 341.5px,#ff1b00 350.5px,#ff0400 360.5px,#f00 373.5px,#f00 592px,#ff1200 613px,#ff0500 629.5px,#ff1a00 640.5px,#ff0b00 651px,#ff2100 659.5px,#ff0f00 667.5px,#ff2600 675px,#ff1200 682px)"></i><i style="background:linear-gradient(90deg,#f00 0,#f00 215px,#ff1000 232.5px,#ff0200 247px,#ff1700 259.5px,#ff0800 270px,#ff1d00 278px,#ff0b00 286.5px,#f20 294px,#ff0e00 301px,#ff2500 308px,#ff0f00 314px,#ff2400 321px,#ff0e00 327.5px,#ff2000 334.5px,#ff0a00 341px,#ff1800 350.5px,#f00 363px,#f00 596px,#ff1000 613.5px,#ff0200 628px,#ff1700 640.5px,#ff0800 651.5px,#ff1d00 659.5px,#ff0c00 668px,#f20 675px,#ff0e00 682px)"></i><i style="background:linear-gradient(90deg,#f00 0,#f00 217.5px,#ff0d00 232.5px,#f00 247.5px,#ff1400 259.5px,#ff0500 270px,#ff1a00 278px,#ff0800 286.5px,#ff1e00 294px,#ff0b00 301px,#ff2100 308px,#ff0c00 314px,#ff2000 321px,#ff0a00 327.5px,#ff1d00 334.5px,#ff0700 341px,#ff1500 350.5px,#f00 360.5px,#f00 599px,#ff0d00 613.5px,#f00 629px,#ff1400 640.5px,#ff0500 651.5px,#ff1a00 659.5px,#ff0900 668px,#ff1e00 675px,#ff0b00 682px)"></i><i style="background:linear-gradient(90deg,#f00 0,#f00 220px,#ff0b00 232px,#f00 250px,#f10 259.5px,#ff0200 269px,#ff1600 278px,#ff0600 287px,#ff1b00 294px,#ff0800 301.5px,#ff1d00 308px,#ff0900 314px,#ff1d00 321px,#ff0700 327.5px,#ff1900 334.5px,#ff0400 341px,#ff1200 350.5px,#f00 359px,#f00 601px,#ff0b00 613.5px,#f00 631px,#f10 640.5px,#ff0200 650.5px,#ff1600 659.5px,#ff0600 668px,#ff1b00 675px,#ff0800 682px)"></i><i style="background:linear-gradient(90deg,#f00 0,#f00 221.5px,#ff0900 232px,#f00 251.5px,#ff0e00 259.5px,#f00 269.5px,#ff1300 278px,#ff0300 287px,#ff1700 294px,#ff0500 301.5px,#ff1900 308px,#ff0600 314.5px,#ff1900 321px,#ff0400 327.5px,#ff1600 334.5px,#ff0100 342px,#ff0f00 350px,#f00 357.5px,#f00 603px,#ff0900 613.5px,#f00 632.5px,#ff0e00 640.5px,#f00 650.5px,#ff1300 659.5px,#ff0300 668px,#ff1700 675px,#ff0500 682px)"></i><i style="background:linear-gradient(90deg,#f00 0,#f00 252.5px,#ff0c00 259.5px,#f00 271.5px,#ff1000 278.5px,#f00 286px,#ff1400 294px,#ff0200 301.5px,#ff1600 308px,#ff0300 314px,#ff1600 321px,#ff0200 327px,#ff1300 334.5px,#f00 341px,#ff0d00 350px,#f00 357px,#f00 633.5px,#ff0c00 640.5px,#f00 652.5px,#f10 659.5px,#f00 667.5px,#ff1400 675px,#ff0200 682px)"></i><i style="background:linear-gradient(90deg,#f00 0,#f00 253.5px,#ff0a00 259.5px,#f00 272.5px,#ff0e00 278.5px,#f00 287.5px,#f10 294px,#f00 301px,#ff1300 308px,#ff0100 314.5px,#ff1300 321px,#f00 327.5px,#ff1000 334.5px,#f00 340px,#ff0a00 350px,#f00 356px,#f00 634.5px,#ff0a00 640.5px,#f00 653.5px,#ff0e00 659.5px,#f00 668.5px,#f10 675px,#f00 682px)"></i><i style="background:linear-gradient(90deg,#f00 0,#f00 273px,#ff0b00 278.5px,#f00 288.5px,#ff0f00 294px,#f00 302.5px,#ff1000 308px,#f00 313.5px,#ff1000 321px,#f00 326.5px,#ff0e00 334.5px,#f00 339px,#ff0800 350px,#f00 654px,#ff0b00 659.5px,#f00 669.5px,#ff0f00 675px,#f00 682px)"></i><i style="background:linear-gradient(90deg,#f00 0,#f00 273.5px,#ff0900 278.5px,#f00 289px,#ff0c00 294px,#f00 303px,#ff0e00 308px,#f00 312.5px,#ff0d00 321px,#f00 325.5px,#ff0b00 334.5px,#f00 338.5px,#f00 655px,#ff0900 659.5px,#f00 670.5px,#ff0c00 675px,#f00 682px)"></i><i style="background:linear-gradient(90deg,#f00 0,#f00 289.5px,#ff0a00 294px,#f00 303.5px,#ff0b00 308px,#f00 312px,#ff0b00 321px,#f00 325px,#ff0900 334.5px,#f00 338px,#f00 671px,#ff0a00 675px,#f00 682px)"></i><i style="background:linear-gradient(90deg,#f00 0,#f00 304px,#ff0900 308px,#f00 311.5px,#ff0900 321px,#f00 324.5px,#f00 682px)"></i><i style="background:linear-gradient(90deg,#f00 0,#f00 682px)"></i><i style="background:linear-gradient(90deg,#f00 0,#f00 682px)"></i><i style="background:linear-gradient(90deg,#f00 0,#f00 682px)"></i><i style="background:linear-gradient(90deg,#f00 0,#f00 47.5px,#ff0900 51px,#f00 54.5px,#ff0900 64px,#f00 67.5px,#f00 428.5px,#ff0900 432px,#f00 435.5px,#ff0900 445px,#f00 448.5px,#f00 682px)"></i><i style="background:linear-gradient(90deg,#f00 0,#f00 33.5px,#ff0900 37.5px,#f00 47px,#ff0b00 51px,#f00 55px,#ff0b00 64px,#f00 68px,#ff0a00 77.5px,#f00 81.5px,#f00 414.5px,#ff0900 418.5px,#f00 428px,#ff0b00 432px,#f00 436px,#ff0b00 445px,#f00 449px,#ff0a00 458.5px,#f00 462.5px,#f00 682px)"></i><i style="background:linear-gradient(90deg,#f00 0,#f00 33px,#ff0b00 37.5px,#f00 46.5px,#ff0e00 51px,#f00 55.5px,#ff0d00 64px,#f00 68.5px,#ff0c00 77.5px,#f00 82px,#ff0900 92.5px,#f00 97px,#f00 414px,#ff0b00 418.5px,#f00 427.5px,#ff0d00 432px,#f00 437px,#ff0d00 445px,#f00 449.5px,#ff0c00 458.5px,#f00 463px,#ff0900 474px,#f00 478px,#f00 682px)"></i><i style="background:linear-gradient(90deg,#f00 0,#ff0800 21px,#f00 32.5px,#ff0e00 37.5px,#f00 46px,#ff1000 51px,#f00 56.5px,#ff1000 64px,#f00 69.5px,#ff0e00 77.5px,#f00 82.5px,#ff0b00 92.5px,#f00 97.5px,#f00 397px,#ff0800 402.5px,#f00 413.5px,#ff0e00 418.5px,#f00 427px,#ff1000 432px,#f00 437.5px,#ff1000 445px,#f00 450.5px,#ff0e00 458.5px,#f00 464px,#ff0b00 474px,#f00 479px,#f00 682px)"></i><i style="background:linear-gradient(90deg,#f00 0,#ff0b00 21px,#f00 32px,#f10 37.5px,#f00 45px,#ff1300 51px,#ff0100 57.5px,#ff1300 64px,#f00 70.5px,#f10 77.5px,#f00 83.5px,#ff0e00 92.5px,#f00 98.5px,#ff0a00 111px,#f00 117px,#f00 396.5px,#ff0b00 402.5px,#f00 412.5px,#f10 418.5px,#f00 425.5px,#ff1300 432px,#ff0100 438.5px,#ff1300 445px,#f00 451.5px,#f10 458.5px,#f00 464.5px,#ff0e00 473.5px,#f00 479.5px,#ff0a00 492.5px,#f00 498.5px,#f00 682px)"></i><i style="background:linear-gradient(90deg,#f00 0,#f00 14.5px,#ff0d00 21px,#f00 31px,#ff1300 37.5px,#ff0200 44.5px,#ff1600 51px,#ff0300 57px,#ff1600 64px,#ff0200 70px,#ff1400 77.5px,#f00 85px,#ff1000 92.5px,#f00 99.5px,#ff0c00 111px,#f00 118px,#f00 395.5px,#ff0d00 402.5px,#f00 411.5px,#ff1300 418.5px,#ff0200 426px,#ff1600 432px,#ff0300 438.5px,#ff1600 445px,#ff0200 452px,#ff1400 459px,#f00 466px,#ff1000 473.5px,#f00 480.5px,#ff0c00 492.5px,#f00 499.5px,#f00 682px)"></i><i style="background:linear-gradient(90deg,#f00 0,#f00 13.5px,#ff0f00 21px,#ff0100 30px,#ff1600 37.5px,#ff0500 44.5px,#ff1900 51px,#ff0600 57px,#ff1900 64px,#ff0500 70.5px,#ff1700 77.5px,#ff0300 84px,#ff1300 92.5px,#f00 101px,#ff0e00 111px,#f00 119px,#ff0900 138.5px,#f00 149px,#f00 394.5px,#ff0f00 402.5px,#ff0100 410.5px,#ff1600 418.5px,#ff0500 426px,#ff1900 432px,#ff0600 438.5px,#ff1900 445px,#ff0500 451.5px,#ff1700 458.5px,#ff0300 465.5px,#ff1300 474px,#f00 482.5px,#ff0e00 492.5px,#f00 500.5px,#ff0900 519.5px,#f00 530px,#f00 682px)"></i><i style="background:linear-gradient(90deg,#f00 0,#f00 12.5px,#ff1200 21px,#ff0400 30px,#ff1a00 37.5px,#ff0800 44.5px,#ff1d00 51px,#ff0900 57px,#ff1d00 64px,#ff0800 70.5px,#ff1a00 77.5px,#ff0500 84.5px,#ff1600 92.5px,#ff0200 100.5px,#f10 111px,#f00 120.5px,#ff0b00 138.5px,#f00 150.5px,#f00 393.5px,#ff1200 402px,#ff0400 411.5px,#ff1a00 418.5px,#ff0800 426px,#ff1d00 432px,#ff0900 438.5px,#ff1d00 445px,#ff0800 451.5px,#ff1a00 458.5px,#ff0500 465.5px,#ff1600 474px,#ff0200 482.5px,#f10 492.5px,#f00 502px,#ff0b00 519.5px,#f00 532px,#f00 682px)"></i><i style="background:linear-gradient(90deg,#f00 0,#f00 11.5px,#ff1500 21px,#ff0700 30px,#ff1d00 37.5px,#ff0b00 44.5px,#ff2100 51px,#ff0c00 57px,#ff2100 64px,#ff0b00 70.5px,#ff1e00 77.5px,#ff0800 84.5px,#ff1a00 92.5px,#ff0500 100.5px,#ff1400 111px,#f00 123.5px,#ff0d00 138.5px,#f00 153px,#f00 391.5px,#ff1500 402px,#ff0700 411.5px,#ff1d00 418.5px,#ff0b00 426px,#ff2100 432px,#ff0c00 438.5px,#ff2100 445px,#ff0b00 451.5px,#ff1e00 458.5px,#ff0800 465.5px,#ff1a00 474px,#ff0500 482px,#ff1400 492.5px,#f00 504px,#ff0d00 519.5px,#f00 534px,#f00 682px)"></i><i style="background:linear-gradient(90deg,#f00 0,#ff0100 10.5px,#ff1800 21px,#ff0a00 30px,#ff2100 37.5px,#ff0e00 44.5px,#ff2500 51px,#ff0f00 57px,#ff2400 64px,#ff0e00 70.5px,#f20 77.5px,#ff0b00 84.5px,#ff1d00 92.5px,#ff0700 101px,#ff1700 111px,#ff0200 122.5px,#ff1000 138.5px,#f00 155.5px,#f00 389px,#ff1800 402px,#ff0a00 411.5px,#ff2100 418.5px,#ff0e00 426px,#ff2400 432px,#ff0f00 438.5px,#ff2400 445px,#ff0e00 451.5px,#f20 458.5px,#ff0c00 465.5px,#ff1d00 474px,#ff0700 482px,#ff1700 492.5px,#ff0200 504.5px,#ff1000 519.5px,#f00 537px,#f00 682px)"></i><i style="background:linear-gradient(90deg,#f00 0,#ff0500 11px,#ff1c00 21px,#ff0d00 30px,#ff2500 37.5px,#f10 44.5px,#ff2900 51px,#ff1300 57px,#ff2900 64px,#f10 70.5px,#ff2600 77.5px,#ff0f00 84.5px,#ff2100 92.5px,#ff0a00 101px,#ff1a00 111px,#ff0500 122.5px,#ff1200 138.5px,#f00 159.5px,#f00 378px,#ff0400 391.5px,#ff1b00 402px,#ff0d00 411.5px,#ff2500 418.5px,#ff1200 426px,#ff2900 432px,#ff1300 438.5px,#ff2900 445px,#ff1200 451.5px,#ff2600 458.5px,#ff0f00 465.5px,#ff2100 474px,#ff0b00 482px,#ff1a00 492.5px,#ff0500 504.5px,#ff1200 519.5px,#f00 541px,#f00 682px)"></i><i style="background:linear-gradient(90deg,#ff0300 0,#ff0800 11px,#ff1f00 21px,#ff1000 30px,#ff2900 37.5px,#ff1500 44.5px,#ff2d00 51px,#ff1700 58px,#ff2d00 64px,#ff1500 70.5px,#ff2a00 77.5px,#ff1200 84.5px,#ff2500 92.5px,#ff0e00 101px,#ff1e00 111px,#ff0800 122.5px,#ff1500 138.5px,#f00 164.5px,#f00 373.5px,#ff0600 391px,#ff1f00 402px,#f10 411.5px,#ff2900 418.5px,#ff1500 425.5px,#ff2d00 432.5px,#ff1600 439px,#ff2d00 445px,#ff1500 451.5px,#ff2a00 458.5px,#ff1200 465.5px,#ff2500 474px,#ff0e00 482px,#ff1e00 492.5px,#ff0800 504.5px,#ff1500 519.5px,#f00 546.5px,#f00 682px)"></i><i style="background:linear-gradient(90deg,#ff0500 0,#ff0b00 11px,#ff2300 21px,#ff1400 30px,#ff2e00 37.5px,#ff1900 44.5px,#ff3200 51px,#ff1b00 58px,#ff3200 64px,#ff1900 70.5px,#ff2e00 77.5px,#ff1600 84.5px,#ff2900 92.5px,#f10 101px,#ff2100 111px,#ff0b00 122.5px,#ff1800 138.5px,#ff0200 166.5px,#f00 370.5px,#ff0900 391px,#ff2300 402px,#ff1400 411.5px,#ff2e00 418.5px,#ff1900 425.5px,#ff3200 432.5px,#ff1a00 439px,#ff3200 445px,#ff1900 451.5px,#ff2e00 458.5px,#ff1600 465.5px,#ff2900 474px,#f10 482px,#ff2100 492.5px,#ff0b00 504.5px,#ff1800 519.5px,#ff0200 548.5px,#f00 682px)"></i><i style="background:linear-gradient(90deg,#ff0800 0,#ff0e00 11px,#ff2700 21px,#ff1800 30px,#ff3200 37.5px,#ff1d00 44.5px,#ff3700 51px,#ff1f00 58px,#ff3700 64px,#ff1d00 70.5px,#f30 77.5px,#ff1a00 84.5px,#ff2d00 92.5px,#ff1500 101px,#ff2500 111px,#ff0f00 122.5px,#ff1c00 138.5px,#ff0500 166.5px,#f00 368px,#ff0c00 391px,#ff2700 402px,#ff1800 411.5px,#ff3200 418.5px,#ff1d00 425.5px,#ff3700 432.5px,#ff1f00 439px,#ff3700 445px,#ff1d00 451.5px,#f30 458.5px,#ff1a00 465.5px,#ff2d00 474px,#ff1500 482px,#ff2500 492.5px,#ff0e00 504.5px,#ff1c00 519.5px,#ff0500 548px,#f00 682px)"></i><i style="background:linear-gradient(90deg,#ff0b00 0,#f10 11px,#ff2b00 21px,#ff1c00 30px,#ff3700 37.5px,#ff2100 44.5px,#ff3c00 51px,#ff2300 58px,#ff3c00 64px,#f20 70.5px,#ff3800 77.5px,#ff1e00 84.5px,#ff3200 92.5px,#ff1900 101px,#ff2900 111px,#ff1200 122.5px,#ff1f00 138.5px,#ff0800 166px,#f00 365px,#ff1000 391px,#ff2b00 402px,#ff1c00 411.5px,#ff3700 418.5px,#ff2100 425.5px,#ff3c00 432.5px,#ff2300 439px,#ff3c00 445px,#f20 451.5px,#ff3800 458.5px,#ff1e00 465.5px,#ff3200 474px,#ff1900 482px,#ff2900 492.5px,#ff1200 504.5px,#ff1f00 519.5px,#ff0800 547.5px,#f00 682px)"></i><i style="background:linear-gradient(90deg,#ff0e00 0,#ff1500 11px,#ff3000 21px,#ff2000 30px,#ff3c00 37.5px,#ff2600 44.5px,#ff4100 51px,#ff2800 58px,#ff4100 64px,#ff2600 70.5px,#ff3d00 77.5px,#ff2300 84.5px,#ff3700 92.5px,#ff1d00 101px,#ff2e00 111px,#ff1600 122.5px,#ff2300 138.5px,#ff0c00 166px,#f00 361.5px,#ff1300 391px,#ff2f00 402px,#ff2100 411.5px,#ff3c00 418.5px,#ff2600 425.5px,#ff4100 432.5px,#ff2800 439px,#ff4100 445px,#ff2600 451.5px,#ff3d00 458.5px,#ff2300 465.5px,#ff3600 474px,#ff1d00 482px,#ff2e00 492.5px,#ff1600 504.5px,#ff2300 519.5px,#ff0c00 547px,#f00 682px)"></i><i style="background:linear-gradient(90deg,#ff1200 0,#ff1900 11px,#ff3400 21px,#ff2500 30px,#ff4200 37.5px,#ff2b00 44.5px,#ff4700 51px,#ff2d00 58px,#ff4700 64px,#ff2b00 70.5px,#ff4300 77.5px,#ff2700 84.5px,#ff3c00 92.5px,#f20 100.5px,#ff3200 111px,#ff1a00 123.5px,#ff2700 138.5px,#ff0f00 167.5px,#f00 345px,#ff1600 389.5px,#ff3400 402px,#ff2500 411px,#ff4200 418.5px,#ff2b00 425.5px,#ff4700 432.5px,#ff2d00 439px,#ff4700 445px,#ff2b00 451.5px,#ff4300 458.5px,#ff2700 465.5px,#ff3c00 474px,#f20 482px,#ff3200 492.5px,#ff1a00 504.5px,#ff2700 519.5px,#ff0f00 547px,#f00 682px)"></i><i style="background:linear-gradient(90deg,#ff1500 0,#ff1d00 11px,#ff3900 21px,#ff2a00 30.5px,#ff4800 37.5px,#ff3000 44.5px,#ff4d00 51px,#ff3200 58px,#ff4d00 64px,#ff3000 70.5px,#ff4900 77.5px,#ff2c00 84.5px,#ff4100 92.5px,#ff2600 100.5px,#ff3700 111px,#ff1e00 123.5px,#ff2b00 138.5px,#ff1200 167px,#f00 344px,#ff1a00 389.5px,#ff3900 402px,#ff2a00 411px,#ff4800 418.5px,#ff3000 425.5px,#ff4d00 432.5px,#ff3200 439px,#ff4d00 445px,#ff3000 451.5px,#ff4900 458.5px,#ff2c00 465.5px,#ff4100 474px,#ff2600 482px,#ff3700 492.5px,#ff1e00 504.5px,#ff2b00 519.5px,#ff1300 546.5px,#ff1200 612.5px,#ff0300 628.5px,#ff0b00 640px,#f00 649px,#f00 682px)"></i><i style="background:linear-gradient(90deg,#ff1900 0,#f20 11px,#ff3f00 21px,#ff2f00 30.5px,#ff4e00 37.5px,#ff3500 44.5px,#ff5400 51px,#ff3700 58px,#ff5400 64px,#ff3500 70.5px,#ff4f00 77.5px,#ff3100 84.5px,#ff4700 92.5px,#ff2b00 100.5px,#ff3c00 111px,#f20 123.5px,#ff2f00 138.5px,#ff1600 166.5px,#ff1500 231.5px,#ff0100 269.5px,#ff0900 278px,#f00 284.5px,#f00 342px,#ff1e00 389.5px,#ff3e00 402px,#ff2f00 411px,#ff4e00 418.5px,#ff3500 425.5px,#ff5300 432.5px,#ff3700 439px,#ff5400 445px,#ff3500 451.5px,#ff4f00 458.5px,#ff3100 465.5px,#ff4700 474px,#ff2b00 482px,#ff3c00 492.5px,#f20 504.5px,#ff2f00 519.5px,#ff1700 546px,#ff1500 612.5px,#ff0600 628px,#ff0e00 640px,#ff0100 650px,#ff0900 659px,#f00 682px)"></i><i style="background:linear-gradient(90deg,#ff1d00 0,#ff2600 11px,#f40 21px,#ff3500 30.5px,#ff5400 37.5px,#ff3b00 44.5px,#ff5b00 51px,#ff3d00 58px,#ff5a00 64px,#ff3b00 70.5px,#f50 77.5px,#ff3700 84.5px,#ff4d00 92.5px,#ff3000 100.5px,#ff4200 111px,#ff2700 123.5px,#ff3400 138.5px,#ff1a00 166.5px,#ff1800 231.5px,#ff0900 246.5px,#ff1000 259px,#f00 286px,#ff0200 341.5px,#f20 389.5px,#f40 402px,#ff3400 411px,#ff5400 418.5px,#ff3b00 425.5px,#ff5a00 432.5px,#ff3d00 439px,#ff5a00 445px,#ff3b00 451.5px,#f50 458.5px,#ff3700 465.5px,#ff4d00 474px,#ff3100 481.5px,#ff4200 492.5px,#ff2700 504.5px,#ff3400 519.5px,#ff1b00 545.5px,#ff1800 612.5px,#ff0900 628px,#ff1000 640.5px,#ff0400 650px,#ff0c00 659px,#f00 682px)"></i><i style="background:linear-gradient(90deg,#f20 0,#ff2b00 11px,#ff4a00 21px,#ff3a00 30.5px,#ff5b00 37.5px,#ff4100 44.5px,#ff6200 51px,#ff4300 58px,#ff6200 64px,#ff4100 70.5px,#ff5c00 77.5px,#ff3c00 84.5px,#ff5300 92.5px,#ff3600 100.5px,#ff4700 111px,#ff2c00 123.5px,#ff3900 138.5px,#ff1f00 165.5px,#ff1c00 231px,#ff0c00 247px,#ff1300 259px,#ff0600 269px,#ff0e00 278px,#ff0300 286px,#ff0b00 293.5px,#ff0100 327.5px,#ff2700 389px,#ff4a00 402px,#ff3900 411px,#ff5b00 418.5px,#ff4100 425.5px,#ff6100 432.5px,#ff4300 439px,#ff6200 445px,#ff4100 451.5px,#ff5c00 458.5px,#ff3c00 465.5px,#ff5300 474px,#ff3600 481.5px,#ff4700 492.5px,#ff2c00 504.5px,#ff3900 519.5px,#ff1f00 545px,#ff1c00 612.5px,#ff0c00 628px,#ff1300 640.5px,#ff0600 650px,#ff0e00 659.5px,#ff0100 682px)"></i><i style="background:linear-gradient(90deg,#ff2600 0,#ff3000 11px,#ff5000 21px,#ff4000 30.5px,#ff6200 37.5px,#ff4700 44.5px,#ff6900 51px,#ff4900 58px,#ff6900 64px,#ff4700 70.5px,#ff6300 77.5px,#ff4200 84.5px,#ff5a00 92.5px,#ff3b00 100.5px,#ff4d00 111px,#ff3100 123.5px,#ff3e00 138.5px,#ff2300 165.5px,#ff1f00 231px,#ff0f00 247px,#ff1600 259px,#ff0900 269px,#f10 278px,#ff0600 286px,#ff0400 327.5px,#ff2b00 389px,#ff5000 402px,#ff3f00 411px,#ff6200 418.5px,#ff4700 425.5px,#ff6900 432.5px,#ff4900 439px,#ff6900 445px,#ff4700 451.5px,#ff6300 458.5px,#ff4200 465.5px,#ff5a00 474px,#ff3c00 481.5px,#ff4d00 492.5px,#ff3100 504.5px,#ff3e00 519.5px,#ff2400 545px,#ff1f00 612.5px,#ff0f00 628px,#ff1600 640.5px,#ff0900 650px,#f10 659.5px,#ff0300 682px)"></i><i style="background:linear-gradient(90deg,#ff2b00 0,#ff3500 11px,#ff5600 21px,#ff4600 30.5px,#ff6900 37.5px,#ff4d00 44.5px,#ff7100 51px,#ff4f00 58px,#ff7100 64px,#ff4d00 70.5px,#ff6b00 77.5px,#ff4800 84.5px,#ff6100 92.5px,#ff4100 100.5px,#ff5400 111px,#ff3700 123.5px,#f40 138.5px,#ff2800 165.5px,#ff2300 231px,#ff1300 247.5px,#ff1900 259px,#ff0c00 269.5px,#ff0600 327.5px,#ff3100 389px,#ff5600 402px,#ff4500 411px,#ff6900 418.5px,#ff4d00 425.5px,#ff7100 432.5px,#ff4f00 439px,#ff7100 445px,#ff4d00 451.5px,#ff6b00 458.5px,#ff4900 465.5px,#ff6100 474px,#ff4200 481.5px,#ff5300 492.5px,#ff3700 504.5px,#f40 519.5px,#ff2900 545px,#ff2300 612.5px,#ff1300 628px,#ff1900 640.5px,#ff0d00 650px,#ff1400 659px,#ff0600 682px)"></i><i style="background:linear-gradient(90deg,#ff3000 0,#ff3b00 11px,#ff5d00 21px,#ff4d00 30.5px,#ff7100 37.5px,#ff5400 44.5px,#ff7a00 51px,#ff5b00 55.5px,#ff5600 58px,#ff7900 64px,#ff5400 70.5px,#ff7300 77.5px,#ff4f00 84.5px,#ff6800 92.5px,#ff4800 100.5px,#ff5a00 111px,#ff3c00 123.5px,#ff4900 138.5px,#ff2d00 165.5px,#ff2700 231px,#ff1600 247.5px,#ff1d00 259px,#ff1000 269.5px,#ff0900 327.5px,#ff3600 389px,#ff5d00 402px,#ff4c00 411px,#ff7100 418.5px,#ff5400 425.5px,#ff7900 432.5px,#ff5600 439px,#ff7900 445px,#ff5400 451.5px,#ff7300 458.5px,#ff4f00 465.5px,#ff6800 474px,#ff4800 481.5px,#ff5a00 492.5px,#ff3c00 504.5px,#ff4900 519.5px,#ff2e00 545px,#ff2700 612.5px,#ff1700 628px,#ff1d00 640.5px,#ff1000 650px,#ff1700 659px,#ff0900 682px)"></i><i style="background:linear-gradient(90deg,#ff3500 0,#ff4200 11.5px,#ff6400 21px,#ff5300 30.5px,#ff7a00 37.5px,#ff5b00 44.5px,#ff8200 51px,#ff6200 55.5px,#ff5d00 58px,#ff8200 64px,#ff5b00 70.5px,#ff7b00 77.5px,#ff5600 84.5px,#ff7000 92.5px,#ff4e00 100.5px,#ff6100 111px,#ff4200 123.5px,#ff4f00 138px,#ff3200 165.5px,#ff0d00 327.5px,#ff1f00 362.5px,#ff3c00 389px,#ff6400 402px,#ff5200 411px,#ff7900 418.5px,#ff5b00 425.5px,#ff8200 432.5px,#ff6300 436.5px,#ff5d00 439px,#ff8200 445px,#ff5b00 451.5px,#ff7b00 458.5px,#ff5700 465px,#ff7000 474px,#ff4d00 482.5px,#ff6100 492.5px,#ff4200 504.5px,#ff4f00 519.5px,#f30 545px,#ff2b00 612.5px,#ff1b00 628px,#ff2000 640.5px,#ff1400 650px,#ff1a00 659px,#ff0c00 682px)"></i><i style="background:linear-gradient(90deg,#ff3b00 0,#ff4800 11.5px,#ff6c00 21px,#ff5b00 30.5px,#ff8200 37.5px,#ff6200 44.5px,#ff8c00 51px,#ff6900 55.5px,#ff6500 58px,#ff8c00 64px,#ff6200 70.5px,#ff8400 77.5px,#ff5d00 84.5px,#ff7800 92.5px,#f50 100.5px,#ff6800 111px,#ff4900 123.5px,#ff5600 138px,#ff3800 165.5px,#ff1000 327.5px,#ff2400 362.5px,#ff4200 389px,#ff6c00 402.5px,#ff5900 411px,#ff8200 418.5px,#ff6200 425.5px,#ff8b00 432.5px,#ff6b00 436.5px,#ff6500 439px,#ff8c00 445px,#ff6300 451.5px,#ff8400 458.5px,#ff5d00 466px,#ff7800 474px,#f50 481.5px,#ff6800 492.5px,#ff4900 504.5px,#ff5600 519.5px,#ff3900 545px,#ff2f00 612.5px,#ff1f00 628px,#ff2400 640px,#ff1000 682px)"></i><i style="background:linear-gradient(90deg,#ff4100 0,#ff4f00 11.5px,#ff7400 21px,#ff6200 30.5px,#ff8c00 37.5px,#ff6a00 44.5px,#ff9600 51px,#ff7100 55.5px,#ff6d00 58px,#ff9600 64px,#ff6a00 70.5px,#ff8e00 77.5px,#ff6400 84.5px,#ff8100 92.5px,#ff5c00 100.5px,#ff7000 111px,#ff4f00 123.5px,#ff5c00 138px,#ff3e00 165.5px,#ff3400 231px,#ff2400 246.5px,#ff2800 259px,#ff1600 286px,#ff1400 327.5px,#ff2800 362.5px,#ff4800 389px,#ff7400 402.5px,#ff6100 411px,#ff8c00 418.5px,#ff6a00 425.5px,#ff9500 432.5px,#ff7300 436.5px,#ff6d00 439px,#ff9600 445px,#ff6a00 451.5px,#ff8e00 458.5px,#ff6400 466px,#ff8000 474px,#ff5c00 481.5px,#ff7000 492.5px,#ff4f00 504.5px,#ff5c00 519.5px,#ff3f00 545px,#ff3400 612.5px,#ff2400 628px,#ff2800 640px,#ff1300 682px)"></i><i style="background:linear-gradient(90deg,#ff4700 0,#ff5600 11.5px,#ff7c00 21px,#ff6a00 30.5px,#ff9600 37.5px,#f70 42px,#ff7300 45px,#ffa100 51px,#ff7d00 55px,#ff7500 58px,#ffa000 64px,#ff7300 70px,#ff7800 73px,#ff9800 77.5px,#ff6c00 84.5px,#ff8a00 92.5px,#ff6400 100.5px,#ff7800 111px,#ff5600 123.5px,#ff6300 138px,#f40 165.5px,#ff3900 231px,#ff1a00 286px,#ff1700 327.5px,#ff2e00 362.5px,#ff4f00 389px,#ff7c00 402.5px,#ff6900 411px,#ff9500 418.5px,#ff7200 425.5px,#ffa000 432.5px,#ff7b00 436.5px,#ff7500 439px,#ffa000 445px,#ff7200 451.5px,#f70 454px,#ff9800 458.5px,#ff6c00 466px,#ff8900 474px,#ff6400 481.5px,#ff7800 492.5px,#ff5600 504.5px,#ff6300 519.5px,#ff4500 545px,#ff3900 612.5px,#ff2800 628px,#ff2d00 640px,#ff1700 682px)"></i><i style="background:linear-gradient(90deg,#ff4e00 0,#ff5d00 11.5px,#ff8400 21px,#ff7200 30.5px,#ffa000 37.5px,#ff8000 42px,#ff7c00 45px,#ffac00 51px,#ff8600 55px,#ff7e00 58px,#ffac00 64px,#ff7b00 70px,#ff8100 73px,#ffa300 77.5px,#ff7500 84.5px,#ff9300 92.5px,#ff6c00 100.5px,#ff8100 111px,#ff5e00 123.5px,#ff6b00 138px,#ff4a00 165.5px,#ff3e00 231px,#ff1e00 286.5px,#ff1c00 327.5px,#ff3200 362px,#ff5600 389px,#ff8500 402.5px,#ff7100 411px,#ffa000 418.5px,#ff7f00 423.5px,#ff7b00 426px,#ffac00 432px,#ff8400 436.5px,#ff7d00 439px,#ffac00 445px,#ff7b00 451.5px,#ff8000 454px,#ffa200 458.5px,#ff7400 466px,#ff9300 474px,#ff6c00 481.5px,#ff8000 492.5px,#ff5e00 504.5px,#ff6b00 519.5px,#ff4b00 545px,#ff3e00 612px,#ff2d00 628px,#ff3100 640px,#ff1b00 682px)"></i><i style="background:linear-gradient(90deg,#ff5400 0,#ff6500 11.5px,#ff8e00 21px,#ff7a00 30.5px,#ffab00 37.5px,#ff8900 42px,#ff8500 45px,#ffb800 51px,#ff8f00 55px,#ff8700 58px,#ffb800 64px,#ff8e00 68px,#ff8400 70.5px,#ff8a00 73px,#ffae00 77.5px,#ff7d00 84.5px,#ff9e00 92.5px,#ff7400 100.5px,#ff8a00 111px,#ff6500 123.5px,#ff7200 138px,#ff5100 165.5px,#f40 231px,#ff2300 286.5px,#ff2000 327.5px,#ff3800 362px,#ff5d00 389px,#ff8e00 402.5px,#ff7900 411px,#ff8500 414px,#ffab00 418.5px,#f80 423.5px,#ff8400 426px,#ff9100 428.5px,#ffb800 432px,#ff8d00 436.5px,#ff8600 439px,#ff9200 441.5px,#ffb800 445px,#ff9000 449px,#ff8400 451.5px,#ff8900 454px,#ffae00 458.5px,#f80 463px,#ff7d00 466px,#ff9d00 474px,#ff7400 481.5px,#ff8900 492.5px,#ff6500 504.5px,#ff7200 519.5px,#ff5200 545px,#f40 612px,#f30 628px,#ff1f00 682px)"></i><i style="background:linear-gradient(90deg,#ff5b00 0,#ff6d00 11.5px,#ff9700 21px,#ff8300 30.5px,#ffb700 37.5px,#ff9300 42px,#ff8e00 45px,#ffc500 51px,#f90 55px,#ff9000 58px,#ff9a00 60px,#ffc500 64px,#ff9800 68px,#ff8d00 70.5px,#ff9400 73px,#ffba00 77.5px,#ff9000 82px,#ff8600 84.5px,#ffa800 92.5px,#ff7d00 100.5px,#ff9300 111px,#ff6d00 123.5px,#ff7a00 138px,#ff5800 165.5px,#ff4900 231px,#ff2800 286.5px,#ff2400 327.5px,#ff3e00 362px,#ff6500 389px,#ff9800 402.5px,#ff8200 411px,#ff8e00 414px,#ffb700 418.5px,#ff9400 423px,#ff8d00 426px,#ff9b00 428.5px,#ffc500 432px,#ff9b00 436px,#ff9000 439px,#ff9c00 441.5px,#ffc500 445px,#f90 449px,#ff8d00 451.5px,#ff9600 454.5px,#ffba00 458.5px,#ff9200 463px,#ff8600 466px,#ffa800 474px,#ff7d00 481.5px,#ff9300 492.5px,#ff6d00 504.5px,#ff7a00 519.5px,#ff5900 544.5px,#ff4900 612px,#ff3800 628px,#ff2400 682px)"></i><i style="background:linear-gradient(90deg,#ff6300 0,#ff7500 11.5px,#ffa200 21px,#ff8d00 30.5px,#ffc400 37.5px,#ff9d00 42px,#ff9800 45px,#ffa800 47.5px,#ffd400 51px,#ffa300 55px,#ff9a00 58px,#ffa900 60.5px,#ffd300 64px,#ffa600 67.5px,#ff9700 70.5px,#ff9e00 73px,#ffc700 77.5px,#ff9100 84px,#ff9300 87px,#ffb400 92.5px,#ff8600 100.5px,#ff9d00 111px,#ff7600 123.5px,#ff8300 138px,#ff6000 165.5px,#ff4f00 231px,#ff2c00 286.5px,#ff2900 327.5px,#f40 362px,#ff6d00 389px,#ffa200 402.5px,#ff8c00 411px,#ff9800 414px,#ffc400 418.5px,#ff9e00 423px,#ff9700 426px,#ffa600 428.5px,#ffd300 432px,#ffa500 436px,#ff9a00 439px,#ffa700 441.5px,#ffd300 445px,#ffa400 449px,#ff9700 451.5px,#ffa000 454.5px,#ffc700 458.5px,#ff9c00 463px,#ff9000 466px,#ffb400 474px,#ff8600 481.5px,#ff9d00 492.5px,#ff7600 504.5px,#ff8300 519.5px,#ff6100 544.5px,#ff4f00 612px,#ff3e00 628px,#ff2800 682px)"></i><i style="background:linear-gradient(90deg,#ff6b00 0,#ff7f00 12px,#ffad00 21px,#ff9700 30.5px,#ffa400 33px,#ffd200 37.5px,#ffa700 42px,#ffa200 45px,#ffb300 47.5px,#ffe300 51px,#ffae00 55px,#ffa500 58px,#ffb400 60.5px,#ffe300 64px,#ffb100 67.5px,#ffa100 70.5px,#ffac00 73.5px,#ffd500 77.5px,#ffa900 81.5px,#ff9b00 84px,#ffa000 87.5px,#ffc000 92.5px,#ff8f00 100.5px,#ffa800 111px,#ff7f00 123.5px,#ff8c00 138px,#ff6800 165.5px,#ff5600 231px,#ff3200 286.5px,#ff2e00 327.5px,#ff4a00 362px,#ff7500 389px,#ffad00 402.5px,#ff9600 411.5px,#ffa600 414.5px,#ffd200 418.5px,#ffa800 423px,#ffa200 426px,#ffb000 428.5px,#ffe300 432px,#ffb000 436px,#ffa400 439px,#ffb100 441.5px,#ffe300 445px,#ffae00 449px,#ffa200 451.5px,#ffab00 454.5px,#ffd500 458.5px,#ffa600 463px,#ff9a00 466px,#ffc000 474px,#ff9000 481.5px,#ffa700 492.5px,#ff7f00 504.5px,#ff8c00 519.5px,#ff6900 544.5px,#ff5600 612px,#f40 628px,#ff2d00 682px)"></i><i style="background:linear-gradient(90deg,#ff7300 0,#ff8900 12px,#ffb800 21px,#ffa100 30.5px,#ffaf00 33px,#ffe100 37.5px,#ffb600 41.5px,#ffad00 45px,#ffbe00 47.5px,#fff400 51px,#ffbe00 54.5px,#ffaf00 58px,#ffbf00 60.5px,#fff400 64px,#ffbd00 67.5px,#ffac00 70.5px,#ffb700 73.5px,#ffe500 77.5px,#ffb400 81.5px,#ffa600 84px,#fa0 87.5px,#ffce00 92.5px,#ff9a00 100.5px,#ffb300 111px,#f80 123px,#ff9500 138px,#ff7000 165.5px,#ff5c00 231px,#ff3700 286.5px,#f30 327.5px,#ff5100 362px,#ff7e00 389px,#ff9000 395px,#ffb900 402.5px,#ffa100 411.5px,#ffb100 414.5px,#ffe100 418.5px,#ffb300 423px,#ffac00 426px,#ffc200 429px,#fff400 432px,#fb0 436px,#ffaf00 439px,#ffbd00 441.5px,#fff400 445px,#ffbf00 448.5px,#ffac00 451.5px,#ffb600 454.5px,#ffe500 458.5px,#ffb100 463px,#ffa400 466px,#ffcd00 474px,#ffa400 479px,#ff9800 482.5px,#ffb300 492px,#f80 504.5px,#ff9500 519.5px,#ff7100 544.5px,#ff5c00 612px,#ff4a00 628px,#f30 682px)"></i><i style="background:linear-gradient(90deg,#ff7c00 0,#ff9200 12px,#ffc500 21px,#ffac00 30.5px,#ffbf00 33.5px,#fff100 37.5px,#ffc100 41.5px,#ffb700 44.5px,#ffc400 47px,#fffa00 50px,#f1ff0e 51px,#faff05 51.5px,#ffca00 54.5px,#fb0 58px,#ffcb00 60.5px,#fffa00 63px,#f1ff0e 64px,#faff05 64.5px,#ffc900 67.5px,#ffb700 70.5px,#ffc300 73.5px,#fff500 77.5px,#ffc400 81px,#ffb100 84px,#ffb600 87.5px,#ffdc00 92.5px,#ffa500 100px,#ffa500 104px,#ffbf00 111px,#ff9200 123px,#ff9f00 138px,#ff7800 165.5px,#ff6300 231px,#ff3d00 286.5px,#ff3900 327.5px,#ff5800 362px,#f80 389px,#ff9a00 395px,#ffc500 402.5px,#ffac00 411.5px,#ffbd00 414.5px,#fff100 418.5px,#ffc300 422.5px,#ffb700 425.5px,#ffc800 428.5px,#fdff02 431.5px,#f4ff0b 432.5px,#fffc00 433px,#ffc700 436px,#fb0 439px,#ffc900 441.5px,#fdff02 444.5px,#f5ff0a 445.5px,#fffc00 446px,#ffcb00 448.5px,#ffb800 451.5px,#ffc100 454.5px,#fff500 458.5px,#ffbd00 463px,#ffaf00 466px,#ffb700 469px,#ffdb00 474px,#ffaf00 479px,#ffa300 482.5px,#ffbf00 492px,#ff9200 504.5px,#ff9f00 519.5px,#ff7a00 544.5px,#ff6300 612px,#ff5100 628px,#ff3800 682px)"></i><i style="background:linear-gradient(90deg,#ff8500 0,#ff9d00 12px,#ffd200 21px,#ffb800 27.5px,#ffb800 30.5px,#ffcb00 33.5px,#fbff04 37px,#ff0 38px,#ffcd00 41.5px,#ffc300 44px,#ffd100 47px,#fffd00 49.5px,#d3ff2c 50.5px,#cbff34 51px,#fffb00 52.5px,#ffd600 54.5px,#ffc600 57.5px,#ffd700 60.5px,#fffe00 62.5px,#d3ff2c 63.5px,#cf3 64px,#fffa00 65.5px,#ffd500 67.5px,#ffc300 70.5px,#ffcb00 73px,#fffe00 76.5px,#efff10 77.5px,#f6ff09 78px,#ffd100 81px,#ffbc00 84px,#ffc100 87.5px,#ffeb00 92.5px,#ffb100 100px,#ffb000 104px,#ffcb00 111px,#ffa700 118.5px,#ff9c00 123.5px,#fa0 138px,#ff8200 165.5px,#ff6b00 231px,#ff4300 286.5px,#ff3f00 327.5px,#ff5f00 362px,#ff9100 389px,#ffa400 395px,#ffd200 402.5px,#ffb800 408.5px,#ffb700 411.5px,#ffce00 415px,#ff0 418px,#fffb00 419.5px,#ffcb00 423px,#ffc300 425.5px,#ffd400 428.5px,#fff800 430.5px,#cf3 432px,#d0ff2f 432.5px,#fdff02 433.5px,#fff300 434px,#ffce00 436.5px,#ffc700 439px,#ffd500 441.5px,#fff800 443.5px,#cdff32 445px,#d1ff2e 445.5px,#feff01 446.5px,#ffd200 449px,#ffc300 452px,#ffd200 455px,#fffa00 457.5px,#f0ff0f 458.5px,#feff01 459.5px,#ffce00 462.5px,#fb0 466px,#ffc300 469px,#ffeb00 474px,#ffbe00 478.5px,#ffae00 482.5px,#fc0 492px,#ff9c00 504.5px,#fa0 519.5px,#ff8300 544.5px,#ff6b00 612px,#ff5800 628px,#ff3e00 682px)"></i><i style="background:linear-gradient(90deg,#ff8f00 0,#ffa800 12px,#ffe000 21px,#ffc500 27px,#ffc400 30.5px,#ffd300 33px,#fff700 35.5px,#d5ff2a 37.5px,#fffe00 39px,#ffda00 41.5px,#ffd000 44px,#ffd900 46.5px,#fff400 48.5px,#feff01 49px,#af5 50.5px,#9fff60 51px,#fffd00 53px,#ffde00 55px,#ffd300 57.5px,#ffdf00 60px,#feff01 62px,#abff54 63.5px,#9fff60 64px,#fffd00 66px,#fd0 68px,#ffd000 71px,#ffdc00 73.5px,#fff900 75.5px,#cbff34 77.5px,#faff05 79px,#ffd800 81.5px,#ffc800 84.5px,#ffd100 88px,#fffc00 92.5px,#ffcd00 97px,#ffbd00 100px,#ffbc00 104px,#ffd900 111px,#ffb200 118.5px,#ffa700 123.5px,#ffb500 138px,#ff8b00 166px,#ff7200 231px,#ff4900 286.5px,#ff4500 327.5px,#f60 361.5px,#ff9c00 389px,#ffb000 395px,#ffe000 402.5px,#ffc400 408.5px,#ffc300 411.5px,#ffd600 414.5px,#fffe00 417px,#d5ff2a 418.5px,#fff800 420.5px,#ffdc00 422.5px,#ffd000 425px,#ffdc00 428px,#fffb00 430px,#f0ff0f 430.5px,#a0ff5f 432px,#a6ff59 432.5px,#f9ff06 434px,#fff700 434.5px,#ffdb00 436.5px,#ffd300 439px,#fd0 441px,#fffb00 443px,#f0ff0f 443.5px,#a1ff5e 445px,#a6ff59 445.5px,#faff05 447px,#fff600 447.5px,#ffda00 449.5px,#ffd000 452px,#ffda00 454.5px,#feff01 457px,#cbff34 458.5px,#ceff31 459px,#f2ff0d 460px,#fffb00 460.5px,#ffd500 463px,#ffc700 466px,#ffd000 469px,#fffb00 474px,#ffcb00 478.5px,#ffba00 482.5px,#ffd900 492px,#ffb300 499.5px,#ffa700 504.5px,#ffb500 519.5px,#ff8d00 544.5px,#ff7200 612px,#ff6000 628px,#f40 682px)"></i><i style="background:linear-gradient(90deg,#f90 0,#ffb500 12.5px,#ffef00 21px,#ffd200 27px,#ffd100 30.5px,#ffe000 33px,#fffd00 35px,#b2ff4d 37px,#aeff51 37.5px,#fffb00 40px,#fd0 44px,#ffe300 46px,#fff900 48px,#e3ff1c 49px,#78ff87 50.5px,#67ff98 51px,#e8ff17 53px,#fcff03 53.5px,#fff800 54px,#ffe100 57.5px,#f8ff07 61.5px,#c8ff37 62.5px,#7aff85 63.5px,#68ff97 64px,#e9ff16 66px,#fdff02 66.5px,#fff700 67px,#fd0 71px,#ffe600 73px,#ff0 75px,#a9ff56 77px,#a0ff5f 77.5px,#fffc00 80px,#fd0 82.5px,#ffd400 85px,#ffde00 88px,#fff900 90.5px,#e5ff1a 92.5px,#fcff03 94px,#ffd600 97.5px,#ffc600 101.5px,#ffe700 111.5px,#ffbe00 118.5px,#ffb300 123.5px,#ffc100 138px,#ff9600 164.5px,#ff4800 314.5px,#ff5400 341.5px,#ff7100 363px,#ffaf00 392px,#fe0 402px,#ffd100 408.5px,#ffd000 411.5px,#ffde00 414px,#fff900 416px,#f8ff07 416.5px,#adff52 418.5px,#b3ff4c 419px,#fffe00 421px,#ffe500 423px,#fd0 425.5px,#ffe500 427.5px,#fffe00 429.5px,#d4ff2b 430.5px,#69ff96 432px,#73ff8c 432.5px,#dfff20 434px,#fffb00 435px,#ffe500 437px,#ffe100 439px,#ff0 442.5px,#d4ff2b 443.5px,#6aff95 445px,#73ff8c 445.5px,#dfff20 447px,#fffb00 448px,#ffe400 450px,#fd0 452px,#ffe400 454px,#fffb00 456px,#f5ff0a 456.5px,#a1ff5e 458.5px,#a5ff5a 459px,#feff01 461px,#ffdf00 463.5px,#ffd400 466.5px,#ffe100 469.5px,#fffe00 472px,#e6ff19 473.5px,#f7ff08 475px,#ffd800 478.5px,#ffc800 481.5px,#ffca00 485.5px,#ffe700 492.5px,#ffbf00 499.5px,#ffb300 504.5px,#ffc100 519px,#ff9700 544.5px,#ff7a00 612px,#ff4a00 682px)"></i><i style="background:linear-gradient(90deg,#ffa400 0,#ffc200 12.5px,#ff0 21px,#ffdc00 29px,#ffe300 31.5px,#fffb00 34px,#e7ff18 35px,#84ff7b 37px,#7eff81 37.5px,#dbff24 39.5px,#faff05 40.5px,#ffeb00 44px,#fdff02 47.5px,#deff21 48.5px,#a9ff56 49.5px,#7bff84 50px,#35ffca 50.5px,#12ffed 51px,#8aff75 52px,#b2ff4d 52.5px,#f2ff0d 54px,#fffa00 55px,#ffef00 57.5px,#fffb00 60px,#efff10 61px,#af5 62.5px,#7eff81 63px,#38ffc7 63.5px,#13ffec 64px,#89ff76 65px,#b1ff4e 65.5px,#e3ff1c 66.5px,#fffe00 67.5px,#ffeb00 70.5px,#fffe00 74px,#d1ff2e 75.5px,#7bff84 77px,#6cff93 77.5px,#7dff82 78px,#d6ff29 79.5px,#faff05 80.5px,#fffa00 81px,#ffe200 85px,#fffb00 89.5px,#c1ff3e 92.5px,#fffa00 95.5px,#fd0 98.5px,#ffd300 102px,#fff600 111.5px,#ffcd00 118px,#ffbf00 123.5px,#ffcd00 138px,#ffa100 164px,#ff4f00 314.5px,#ff5b00 341.5px,#ff7900 362.5px,#fb0 392px,#ffd100 396.5px,#ff0 402px,#ffdc00 410px,#ffe500 413px,#feff01 415.5px,#dcff23 416.5px,#8dff72 418px,#7dff82 418.5px,#87ff78 419px,#e5ff1a 421px,#fffe00 422px,#ffeb00 425.5px,#fffd00 428.5px,#e6ff19 429.5px,#b7ff48 430.5px,#91ff6e 431px,#14ffeb 432px,#2fffd0 432.5px,#74ff8b 433px,#a4ff5b 433.5px,#c3ff3c 434px,#ecff13 435px,#fffc00 436px,#ffef00 439px,#fffe00 441.5px,#f4ff0b 442px,#b8ff47 443.5px,#93ff6c 444px,#1affe5 445px,#26ffd9 445.5px,#6fff90 446px,#a2ff5d 446.5px,#c3ff3c 447px,#edff12 448px,#fffb00 449px,#ffeb00 452px,#faff05 455.5px,#c3ff3c 457px,#6fff90 458.5px,#73ff8c 459px,#cf3 460.5px,#fffd00 462px,#ffe900 464px,#ffe200 466.5px,#ff0 471px,#c2ff3d 473.5px,#caff35 474.5px,#fffd00 476.5px,#ffde00 479.5px,#ffd300 483px,#fff700 492.5px,#fc0 499.5px,#ffbf00 504.5px,#ffcd00 519px,#ffa200 544.5px,#ff8300 612px,#ff5100 682px)"></i><i style="background:linear-gradient(90deg,#ffaf00 0,#fc0 12px,#fbff04 19px,#dfff20 21.5px,#fffd00 24.5px,#ffea00 29px,#fffd00 33px,#caff35 35px,#96ff69 36px,#48ffb7 37px,#41ffbe 37.5px,#a6ff59 39px,#ebff14 41px,#fffe00 42.5px,#fdff02 46px,#e3ff1c 47.5px,#adff52 49px,#8dff72 49.5px,#59ffa6 50px,#00f3ff 50.5px,#009dff 51px,#1bffe4 51.5px,#6cff93 52px,#b3ff4c 53px,#ef1 55px,#fffe00 57px,#f4ff0b 59.5px,#c3ff3c 61.5px,#8fff70 62.5px,#5cffa3 63px,#00f8ff 63.5px,#009dff 64px,#18ffe7 64.5px,#69ff96 65px,#b3ff4c 66px,#e6ff19 67.5px,#fffd00 69.5px,#feff01 72.5px,#d9ff26 74.5px,#9f6 76px,#42ffbd 77px,#23ffdc 77.5px,#41ffbe 78px,#9cff63 79px,#b8ff47 79.5px,#dfff20 80.5px,#fffe00 82px,#fff100 85px,#feff01 88.5px,#9f6 92.5px,#9dff62 93px,#ecff13 95.5px,#fffd00 96.5px,#ffe100 102px,#fffd00 108.5px,#f0ff0f 111px,#faff05 112.5px,#ffce00 122px,#ffda00 138px,#ffac00 164px,#ff5600 314.5px,#ff6300 341.5px,#ff8000 361.5px,#ffc600 391.5px,#ffdb00 396px,#feff01 400px,#dfff20 402.5px,#ff0 405.5px,#ffeb00 410px,#fffb00 414px,#f1ff0e 415px,#bdff42 416.5px,#3effc1 418.5px,#50ffaf 419px,#b5ff4a 420.5px,#e6ff19 422px,#feff01 423.5px,#ff0 427px,#e8ff17 428.5px,#b7ff48 430px,#72ff8d 431px,#21ffde 431.5px,#00a0ff 432px,#00ebff 432.5px,#53ffac 433px,#8f7 433.5px,#c0ff3f 434.5px,#eaff15 436px,#ff0 438px,#f6ff09 440.5px,#cbff34 442.5px,#9dff62 443.5px,#76ff89 444px,#3fc 444.5px,#00b6ff 445px,#00c6ff 445.5px,#46ffb9 446px,#85ff7a 446.5px,#a8ff57 447px,#e1ff1e 448.5px,#fffe00 450.5px,#fffe00 453.5px,#dfff20 455.5px,#a5ff5a 457px,#84ff7b 457.5px,#29ffd6 458.5px,#2fffd0 459px,#8eff71 460px,#c5ff3a 461px,#f3ff0c 462.5px,#fffc00 463.5px,#fff100 466.5px,#fffe00 469.5px,#e3ff1c 471px,#a4ff5b 473px,#9aff65 474px,#ff0 477.5px,#ffe100 483px,#ff0 490px,#f0ff0f 492px,#feff01 494px,#ffd900 499.5px,#fc0 504.5px,#ffdb00 519px,#ffad00 544.5px,#ff8c00 611.5px,#ff5800 682px)"></i><i style="background:linear-gradient(90deg,#fb0 0,#ffd600 11px,#fffc00 17px,#c9ff36 20px,#bdff42 21.5px,#feff01 26.5px,#fffe00 31px,#e6ff19 33px,#acff53 35px,#71ff8e 36px,#3bffc4 36.5px,#00e1ff 37px,#00d5ff 37.5px,#2cffd3 38px,#64ff9b 38.5px,#8f7 39px,#b4ff4b 40px,#dfff20 42px,#ecff13 44px,#e1ff1e 46px,#baff45 48px,#75ff8a 49.5px,#4bffb4 50px,#0ffff0 50.5px,#00eaff 51px,#24ffdb 51.5px,#5affa5 52px,#9f6 53px,#bcff43 54px,#d9ff26 55.5px,#e4ff1b 58px,#c6ff39 60.5px,#94ff6b 62px,#4effb1 63px,#12ffed 63.5px,#00e8ff 64px,#1fffe0 64.5px,#56ffa9 65px,#7dff82 65.5px,#bdff42 67px,#e7ff18 69.5px,#e7ff18 72px,#caff35 74px,#97ff68 75.5px,#4effb1 76.5px,#04fffb 77px,#09f 77.5px,#0ef 78px,#4cffb3 78.5px,#7cff83 79px,#b1ff4e 80px,#e5ff1a 82px,#fdff02 85px,#f5ff0a 87px,#d8ff27 89px,#68ff97 92.5px,#6dff92 93px,#ceff31 95.5px,#fffe00 98px,#fff000 102px,#ff0 106.5px,#d0ff2f 111px,#fffe00 115px,#ffdb00 122.5px,#ffe800 138px,#ffb800 164px,#ff9500 230.5px,#f60 286px,#ff5d00 314.5px,#ff6b00 341.5px,#ff8a00 362px,#ffd000 390.5px,#fffa00 398px,#bdff42 402.5px,#fcff03 407.5px,#fffe00 412px,#eaff15 414px,#b5ff4a 416px,#81ff7e 417px,#56ffa9 417.5px,#15ffea 418px,#00c4ff 418.5px,#05fffa 419px,#4effb1 419.5px,#7aff85 420px,#adff52 421px,#d5ff2a 422.5px,#e7ff18 424px,#e8ff17 426.5px,#c0ff3f 429px,#82ff7d 430.5px,#5effa1 431px,#28ffd7 431.5px,#00ecff 432px,#0cfff3 432.5px,#46ffb9 433px,#8fff70 434px,#c4ff3b 435.5px,#e4ff1b 438px,#daff25 440.5px,#bfff40 442px,#9dff62 443px,#62ff9d 444px,#00f4ff 445px,#01fffe 445.5px,#6eff91 446.5px,#b7ff48 448px,#e0ff1f 450px,#ebff14 452px,#dfff20 454px,#b4ff4b 456px,#87ff78 457px,#63ff9c 457.5px,#25ffda 458px,#00afff 458.5px,#00b7ff 459px,#2fffd0 459.5px,#6bff94 460px,#8fff70 460.5px,#bf4 461.5px,#e9ff16 463.5px,#fcff03 466px,#f6ff09 468px,#dcff23 470px,#b5ff4a 471.5px,#6aff95 473.5px,#69ff96 474px,#d6ff29 477px,#fffc00 479.5px,#fff000 483.5px,#fffd00 487.5px,#d0ff2f 492px,#fffb00 496.5px,#ffda00 504.5px,#ffe900 519px,#ffb900 544.5px,#ff9600 611.5px,#ff5f00 682px)"></i><i style="background:linear-gradient(90deg,#ffc800 0,#ffe000 10px,#ff0 15.5px,#96ff69 21px,#9bff64 22px,#e1ff1e 26.5px,#e7ff18 30.5px,#d1ff2e 32.5px,#a1ff5e 34.5px,#74ff8b 35.5px,#51ffae 36px,#16ffe9 36.5px,#009bff 37px,#0093ff 37.5px,#0dfff2 38px,#47ffb8 38.5px,#6bff94 39px,#97ff68 40px,#bf4 41.5px,#cdff32 43.5px,#c9ff36 45.5px,#abff54 47.5px,#7aff85 49px,#29ffd6 50.5px,#20ffdf 51px,#92ff6d 53.5px,#c1ff3e 56px,#c4ff3b 58.5px,#af5 60.5px,#7cff83 62px,#2bffd4 63.5px,#1effe1 64px,#2effd1 64.5px,#7fff80 66px,#adff52 67.5px,#c9ff36 69.5px,#c9ff36 72px,#b7ff48 73.5px,#90ff6f 75px,#60ff9f 76px,#38ffc7 76.5px,#00f5ff 77px,#00a0ff 77.5px,#00e0ff 78px,#3fc 78.5px,#5fffa0 79px,#93ff6c 80px,#beff41 81.5px,#d5ff2a 83px,#deff21 86px,#c4ff3b 88.5px,#8dff72 90.5px,#29ffd6 92.5px,#31ffce 93px,#9dff62 95px,#c9ff36 96.5px,#efff10 99px,#fdff02 102px,#edff12 105.5px,#acff53 111px,#ff0 117px,#ffe800 124.5px,#fff700 138.5px,#ffd300 153px,#ffc400 165.5px,#ff9f00 230.5px,#ff6e00 286px,#ff6400 314.5px,#ff7300 341.5px,#ff9300 361px,#fd0 390px,#fffd00 396.5px,#e1ff1e 398.5px,#9eff61 401.5px,#96ff69 402.5px,#e7ff18 408.5px,#eaff15 411px,#dbff24 413px,#c3ff3c 414.5px,#96ff69 416px,#61ff9e 417px,#34ffcb 417.5px,#00e0ff 418px,#007cff 418.5px,#0cf 419px,#31ffce 419.5px,#5effa1 420px,#90ff6f 421px,#b7ff48 422.5px,#caff35 424px,#caff35 426.5px,#afff50 428.5px,#83ff7c 430px,#20ffdf 432px,#28ffd7 432.5px,#78ff87 434px,#a8ff57 435.5px,#c4ff3b 437.5px,#c2ff3d 440px,#95ff6a 442.5px,#6fff90 443.5px,#20ffdf 445px,#24ffdb 445.5px,#76ff89 447px,#a9ff56 448.5px,#c8ff37 450.5px,#cdff32 452.5px,#bf4 454.5px,#98ff67 456px,#6cff93 457px,#4affb5 457.5px,#15ffea 458px,#00b3ff 458.5px,#00b6ff 459px,#1affe5 459.5px,#50ffaf 460px,#8bff74 461px,#baff45 462.5px,#d2ff2d 464px,#deff21 467px,#c7ff38 469.5px,#95ff6a 471.5px,#2effd1 473.5px,#2affd5 474px,#94ff6b 476px,#c4ff3b 477.5px,#edff12 480px,#fdff02 483px,#efff10 486.5px,#acff53 492px,#b6ff49 493.5px,#fffd00 498.5px,#ffe800 506px,#fff700 520px,#ffc500 545.5px,#ffa000 611.5px,#ff6700 682px)"></i><i style="background:linear-gradient(90deg,#ffd500 0,#fcff03 13.5px,#d1ff2e 16.5px,#69ff96 21px,#71ff8e 22px,#a7ff58 24.5px,#c2ff3d 26.5px,#c8ff37 30.5px,#b2ff4d 32.5px,#92ff6d 34px,#58ffa7 35.5px,#12ffed 36.5px,#0df 37px,#00dcff 37.5px,#10ffef 38px,#53ffac 39px,#89ff76 40.5px,#a3ff5c 42px,#afff50 44px,#97ff68 47px,#75ff8a 48.5px,#32ffcd 50.5px,#2fffd0 51px,#79ff86 53.5px,#97ff68 55px,#a5ff5a 56.5px,#a5ff5a 58.5px,#82ff7d 61px,#34ffcb 63.5px,#2effd1 64px,#9f6 68px,#af5 69.5px,#adff52 71.5px,#a0ff5f 73px,#84ff7b 74.5px,#63ff9c 75.5px,#0efff1 77px,#00f7ff 77.5px,#09fff6 78px,#62ff9d 79.5px,#94ff6b 81px,#b5ff4a 83px,#c0ff3f 85px,#b8ff47 87px,#9aff65 89px,#7eff81 90px,#51ffae 91px,#00fcff 92px,#00b2ff 92.5px,#00c8ff 93px,#15ffea 93.5px,#62ff9d 94.5px,#8dff72 95.5px,#b4ff4b 97px,#d1ff2e 99px,#dfff20 101.5px,#d7ff28 104.5px,#83ff7c 111px,#8bff74 112px,#dcff23 116.5px,#fffe00 120.5px,#ff0 131px,#efff10 137px,#ff0 142px,#ffe100 153px,#ffd200 165px,#fa0 230.5px,#ff7600 286px,#ff6c00 314.5px,#ff7c00 341.5px,#ff9b00 360px,#fffc00 394px,#d5ff2a 397.5px,#73ff8c 401.5px,#69ff96 402.5px,#c0ff3f 407.5px,#cdff32 410px,#c1ff3e 412.5px,#a3ff5c 414.5px,#78ff87 416px,#47ffb8 417px,#00f6ff 418px,#00d1ff 418.5px,#00faff 419px,#61ff9e 420.5px,#8fff70 422px,#a6ff59 423.5px,#afff50 425.5px,#92ff6d 428.5px,#2fffd0 432px,#32ffcd 432.5px,#8bff74 435.5px,#a4ff5b 437.5px,#a6ff59 439.5px,#90ff6f 441.5px,#2fffd0 445px,#30ffcf 445.5px,#80ff7f 448px,#9dff62 449.5px,#acff53 451px,#abff54 453px,#9cff63 454.5px,#7cff83 456px,#56ffa9 457px,#00feff 458.5px,#00feff 459px,#58ffa7 460.5px,#8fff70 462px,#b3ff4c 464px,#c0ff3f 466.5px,#b5ff4a 468.5px,#93ff6c 470.5px,#5dffa2 472px,#14ffeb 473px,#00cbff 473.5px,#00b2ff 474px,#00fdff 474.5px,#56ffa9 475.5px,#85ff7a 476.5px,#b9ff46 478.5px,#d3ff2c 480.5px,#dfff20 483px,#d8ff27 485.5px,#bfff40 488px,#86ff79 491.5px,#83ff7c 492.5px,#d9ff26 497.5px,#ff0 501.5px,#ff0 512px,#efff10 518px,#fdff02 523px,#ffd300 545px,#ff6f00 682px)"></i><i style="background:linear-gradient(90deg,#ffe400 0,#fffe00 9.5px,#e9ff16 12.5px,#b0ff4f 16.5px,#32ffcd 21px,#95ff6a 25.5px,#abff54 29px,#9eff61 31.5px,#7eff81 33.5px,#53ffac 35px,#05fffa 37px,#07fff8 37.5px,#6bff94 40.5px,#82ff7d 42px,#8dff72 44px,#7fff80 46.5px,#3bffc4 50px,#32ffcd 51px,#71ff8e 54.5px,#84ff7b 56.5px,#7cff83 59.5px,#32ffcd 64px,#80ff7f 68.5px,#8bff74 71.5px,#67ff98 74.5px,#1fe 77.5px,#16ffe9 78px,#5bffa4 80px,#7fff80 81.5px,#98ff67 83.5px,#9eff61 85.5px,#92ff6d 87.5px,#79ff86 89px,#4affb5 90.5px,#0cfff3 91.5px,#00b7ff 92px,#004cff 92.5px,#005eff 93px,#00d5ff 93.5px,#1bffe4 94px,#56ffa9 95px,#87ff78 96.5px,#af5 98.5px,#bf4 100.5px,#bdff42 103px,#aeff51 105.5px,#52ffad 111px,#5dffa2 112px,#bf4 116.5px,#e5ff1a 121px,#ef1 126.5px,#d0ff2f 137.5px,#fffe00 147.5px,#ffde00 167px,#ffb500 230.5px,#ff7f00 286px,#ff7500 314.5px,#f80 343.5px,#ffae00 363.5px,#ff0 391px,#bdff42 397px,#91ff6e 399px,#3fc 402px,#3bffc4 403px,#92ff6d 406.5px,#abff54 410px,#a0ff5f 412.5px,#83ff7c 414.5px,#5bffa4 416px,#0afff5 418px,#04fffb 418.5px,#6f9 421.5px,#80ff7f 423px,#8dff72 425px,#7bff84 428px,#32ffcd 432px,#75ff8a 436px,#86ff79 438.5px,#79ff86 441px,#38ffc7 444.5px,#3fc 445.5px,#7dff82 449.5px,#8cff73 452.5px,#6cff93 455.5px,#20ffdf 458px,#13ffec 459px,#7bff84 462.5px,#97ff68 464.5px,#9eff61 466.5px,#94ff6b 468.5px,#73ff8c 470.5px,#53ffac 471.5px,#1dffe2 472.5px,#00e2ff 473px,#0073ff 473.5px,#0043ff 474px,#09fff6 475px,#4cffb3 476px,#74ff8b 477px,#a0ff5f 479px,#b7ff48 481px,#bfff40 483.5px,#b4ff4b 486px,#95ff6a 488.5px,#58ffa7 491.5px,#53ffac 492.5px,#c6ff39 498.5px,#e1ff1e 501.5px,#ef1 505px,#d0ff2f 518px,#ff0 528.5px,#ffe000 546.5px,#f70 682px)"></i><i style="background:linear-gradient(90deg,#fff300 0,#feff01 4.5px,#bdff42 13.5px,#72ff8d 17.5px,#3cffc3 19px,#09fff6 20px,#00e5ff 20.5px,#00d7ff 21px,#0afff5 22px,#46ffb9 23.5px,#71ff8e 25.5px,#87ff78 29px,#6eff91 32.5px,#0ffff0 37px,#18ffe7 38px,#5fa 41px,#69ff96 44px,#61ff9e 46px,#2effd1 51px,#58ffa7 55px,#63ff9c 57.5px,#2fffd0 64.5px,#5effa1 68.5px,#68ff97 71.5px,#53ffac 74px,#18ffe7 77.5px,#20ffdf 78.5px,#6bff94 82.5px,#7aff85 85.5px,#6fff90 87.5px,#58ffa7 89px,#2effd1 90.5px,#00faff 91.5px,#008aff 92.5px,#008dff 93px,#00c8ff 93.5px,#02fffd 94px,#47ffb8 95.5px,#6fff90 97px,#91ff6e 99.5px,#9bff64 102px,#93ff6c 104.5px,#7dff82 106.5px,#16ffe9 111px,#25ffda 112px,#63ff9c 114px,#90ff6f 116px,#c4ff3b 121px,#ceff31 126.5px,#afff50 138px,#fffe00 154px,#f80 286px,#ff7d00 314.5px,#ff9200 343.5px,#ffba00 363.5px,#ff0 385.5px,#d8ff27 392px,#abff54 396px,#69ff96 399px,#14ffeb 401px,#00f4ff 401.5px,#00d8ff 402px,#00dfff 402.5px,#01fffe 403px,#3fffc0 404.5px,#6eff91 406.5px,#87ff78 410px,#71ff8e 413.5px,#19ffe6 417.5px,#0ffff0 418.5px,#53ffac 422px,#69ff96 425px,#5fffa0 427.5px,#2effd1 432px,#63ff9c 438.5px,#5dffa2 440.5px,#2effd1 445.5px,#61ff9e 450px,#68ff97 452.5px,#56ffa9 455px,#1fffe0 458px,#18ffe7 459px,#69ff96 463.5px,#7aff85 466.5px,#5cffa3 470px,#35ffca 471.5px,#09fff6 472.5px,#00daff 473px,#009dff 473.5px,#0082ff 474px,#00afff 474.5px,#00ecff 475px,#13ffec 475.5px,#50ffaf 477px,#74ff8b 478.5px,#8fff70 480.5px,#9bff64 483px,#94ff6b 485.5px,#80ff7f 487.5px,#5affa5 489.5px,#21ffde 491.5px,#17ffe8 492.5px,#8cff73 497px,#c3ff3c 502px,#ceff31 507.5px,#afff50 519px,#ff0 535px,#ff8000 682px)"></i><i style="background:linear-gradient(90deg,#f7ff08 0,#c8ff37 8.5px,#9fff60 13px,#63ff9c 16.5px,#35ffca 18px,#07fff8 19px,#00d3ff 19.5px,#0039ff 20.5px,#0034ff 21px,#00bcff 22px,#00efff 22.5px,#0dfff2 23px,#4bffb4 25.5px,#60ff9f 29px,#4effb1 32px,#0ffff0 37px,#3affc5 41.5px,#43ffbc 44px,#23ffdc 51px,#3effc1 57.5px,#24ffdb 64.5px,#42ffbd 71.5px,#15ffea 78px,#4affb5 83px,#53ffac 85.5px,#3effc1 88.5px,#08fff7 91px,#00c4ff 92.5px,#00c3ff 93px,#0ef 94px,#07fff8 94.5px,#3fc 96px,#59ffa6 98px,#75ff8a 102px,#6cff93 104.5px,#56ffa9 106.5px,#37ffc8 108px,#04fffb 109.5px,#0098ff 111px,#009dff 111.5px,#00f0ff 112.5px,#0ffff0 113px,#45ffba 114.5px,#68ff97 116px,#8cff73 118.5px,#a3ff5c 121.5px,#af5 127px,#89ff76 138px,#deff21 153px,#fffd00 167.5px,#ffcd00 230.5px,#ff9200 286px,#ff8700 314.5px,#ff9b00 343px,#ffc500 363px,#ff0 380px,#c9ff36 389.5px,#a2ff5d 394px,#68ff97 397.5px,#3dffc2 399px,#12ffed 400px,#00ecff 400.5px,#0af 401px,#0057ff 401.5px,#0029ff 402px,#0059ff 402.5px,#00dcff 403.5px,#05fffa 404px,#28ffd7 405px,#48ffb7 406.5px,#60ff9f 410px,#51ffae 413px,#0ffff0 418px,#39ffc6 422.5px,#43ffbc 425px,#23ffdc 432px,#3effc1 438.5px,#23ffdc 445.5px,#43ffbc 452.5px,#14ffeb 459px,#49ffb6 464px,#53ffac 467px,#3affc5 470px,#00fdff 472.5px,#00cbff 473.5px,#00c1ff 474px,#00cbff 474.5px,#00feff 475.5px,#2effd1 477px,#56ffa9 479px,#6cff93 481px,#75ff8a 483.5px,#59ffa6 487.5px,#3cffc3 489px,#0dfff2 490.5px,#00f0ff 491px,#00a2ff 492px,#0096ff 492.5px,#00b1ff 493px,#00deff 493.5px,#06fff9 494px,#3fffc0 495.5px,#6eff91 497.5px,#8fff70 500px,#a4ff5b 503px,#abff54 508px,#89ff76 519px,#dbff24 533.5px,#feff01 546.5px,#ff8a00 682px)"></i><i style="background:linear-gradient(90deg,#d7ff28 0,#84ff7b 12px,#4effb1 15.5px,#06fff9 18px,#00e4ff 18.5px,#00b6ff 19px,#007cff 19.5px,#0030ff 20px,#0000fb 20.5px,#00f 21px,#0091ff 22px,#00beff 22.5px,#00fbff 23.5px,#0afff5 24px,#2affd5 26px,#35ffca 28.5px,#05fffa 36.5px,#1cffe3 43.5px,#1fe 50.5px,#1cffe3 71.5px,#09fff6 78px,#29ffd6 85.5px,#1fffe0 88px,#02fffd 90.5px,#00d2ff 93px,#00fdff 95px,#36ffc9 98.5px,#4affb5 102px,#39ffc6 105.5px,#0dfff2 108px,#00fcff 108.5px,#00b7ff 109.5px,#0085ff 110px,#0000fc 111px,#0000fa 111.5px,#0035ff 112px,#0082ff 112.5px,#00baff 113px,#00e5ff 113.5px,#05fffa 114px,#32ffcd 115.5px,#56ffa9 117.5px,#80ff7f 122.5px,#83ff7c 127.5px,#5effa1 138px,#a8ff57 149px,#c8ff37 156px,#ff0 185px,#ff9d00 286px,#ff9000 314.5px,#ffa600 343px,#ffd000 362px,#fffd00 375px,#8bff74 392.5px,#53ffac 396.5px,#0efff1 399px,#00f4ff 399.5px,#00caff 400px,#0096ff 400.5px,#0001ff 401.5px,#0000fb 402px,#002eff 402.5px,#0078ff 403px,#00adff 403.5px,#00f0ff 404.5px,#05fffa 405px,#27ffd8 407px,#35ffca 410px,#05fffa 418px,#1dffe2 425px,#1fe 432px,#1cffe3 452.5px,#09fff6 459.5px,#29ffd6 466.5px,#21ffde 469px,#05fffa 471.5px,#00d2ff 474px,#00dcff 475px,#00f7ff 476px,#39ffc6 480px,#4affb5 483.5px,#36ffc9 487px,#04fffb 489.5px,#00c8ff 490.5px,#0060ff 491.5px,#0010ff 492px,#0000f9 492.5px,#01f 493px,#0065ff 493.5px,#00a5ff 494px,#00d4ff 494.5px,#00faff 495px,#10ffef 495.5px,#38ffc7 497px,#5bffa4 499px,#81ff7e 504px,#82ff7d 509px,#5effa1 519px,#a7ff58 530px,#c7ff38 537px,#ff0 566px,#ff9300 682px)"></i><i style="background:linear-gradient(90deg,#b4ff4b 0,#64ff9b 11px,#3cffc3 14px,#08fff7 16.5px,#00dbff 17.5px,#0043ff 20px,#003aff 20.5px,#004cff 21px,#00a5ff 22.5px,#0cf 23.5px,#01fffe 26px,#0ff 31.5px,#00e9ff 36.5px,#00ecff 79px,#00fcff 86px,#00f2ff 88.5px,#00cbff 93px,#00d2ff 94.5px,#01fffe 97.5px,#1bffe4 102.5px,#01fffe 106.5px,#00d4ff 108px,#00a6ff 109px,#0060ff 110px,#0000fd 111px,#000eff 112px,#0045ff 112.5px,#009aff 113.5px,#00d6ff 114.5px,#02fffd 115.5px,#3bffc4 119px,#5fa 123px,#56ffa9 128px,#2effd1 135.5px,#2cffd3 138px,#82ff7d 149px,#a9ff56 157.5px,#ff0 202px,#ffa800 286px,#ff9b00 314.5px,#ffb000 342.5px,#fffe00 371px,#70ff8f 391px,#3fffc0 395px,#00feff 398px,#00adff 399.5px,#004dff 401px,#003bff 401.5px,#0041ff 402px,#009bff 403.5px,#00c5ff 404.5px,#0ef 406px,#03fffc 407.5px,#01fffe 412.5px,#00e9ff 417.5px,#00ecff 460px,#00fcff 467px,#00f4ff 469.5px,#00cbff 474.5px,#00fdff 478.5px,#1bffe4 483.5px,#04fffb 487.5px,#00ecff 488.5px,#00b1ff 490px,#0072ff 491px,#000bff 492px,#0000f9 492.5px,#0000fd 493px,#008bff 494.5px,#00cbff 495.5px,#00fbff 496.5px,#09fff6 497px,#3effc1 500.5px,#56ffa9 504.5px,#5fa 509.5px,#2cffd3 519px,#80ff7f 530px,#a8ff57 538.5px,#ff0 583px,#ff9e00 682px)"></i><i style="background:linear-gradient(90deg,#8eff71 0,#43ffbc 9.5px,#0ff 14.5px,#0076ff 18.5px,#005fff 20px,#00acff 24px,#00c0ff 27px,#00b5ff 38.5px,#00c2ff 45.5px,#00a3ff 51px,#00cbff 57.5px,#00a3ff 64px,#00c3ff 70px,#00b3ff 76.5px,#00b0ff 94.5px,#00d7ff 103px,#00ceff 105px,#00b4ff 107px,#0092ff 108.5px,#0035ff 111.5px,#0046ff 112.5px,#00d4ff 116.5px,#02fffd 118.5px,#1fffe0 122px,#28ffd7 125.5px,#1effe1 129.5px,#03fffc 133.5px,#00e1ff 137px,#00faff 140px,#56ffa9 149px,#87ff78 159.5px,#ff0 221.5px,#ffb300 286px,#ffa500 314.5px,#ffbc00 342px,#ff0 367px,#4fffb0 389.5px,#04fffb 395.5px,#00f6ff 396px,#007cff 399.5px,#005fff 401px,#0068ff 402px,#00a9ff 405px,#00c0ff 408px,#00b5ff 420px,#00c3ff 426.5px,#00a3ff 432.5px,#00cbff 439px,#00a3ff 445px,#00c3ff 451px,#00b3ff 457.5px,#00afff 475.5px,#00d7ff 484.5px,#00cbff 486.5px,#00aeff 488.5px,#0089ff 490px,#04f 492px,#0036ff 493px,#0050ff 494px,#00bfff 497px,#00feff 499.5px,#1effe1 503px,#28ffd7 507px,#1dffe2 511px,#01fffe 515px,#00e0ff 518.5px,#0ff 521.5px,#54ffab 530px,#83ff7c 539.5px,#f1ff0e 592.5px,#ff0 603px,#ffa900 682px)"></i><i style="background:linear-gradient(90deg,#62ff9d 0,#01fffe 10.5px,#0073ff 16.5px,#0057ff 19px,#0079ff 24px,#0082ff 32px,#007aff 34px,#004fff 37.5px,#009dff 42.5px,#00a9ff 45px,#008aff 47.5px,#0023ff 50.5px,#001cff 51px,#0092ff 54.5px,#00acff 56px,#00b4ff 57.5px,#00abff 59px,#008fff 60.5px,#0024ff 63.5px,#001cff 64px,#008dff 67.5px,#0af 70px,#009dff 72.5px,#0045ff 77.5px,#007eff 81px,#008eff 84px,#0076ff 91px,#0080ff 105px,#0047ff 112px,#0056ff 114px,#00c1ff 120.5px,#00e1ff 125.5px,#00c8ff 130.5px,#0063ff 136.5px,#0059ff 138px,#006fff 139.5px,#00cbff 143px,#01fffe 145.5px,#3effc1 153px,#69ff96 164px,#fffe00 236.5px,#ffbf00 286px,#ffb100 314.5px,#ffc700 341px,#ff0 362.5px,#b3ff4c 372.5px,#03fffc 391.5px,#00f0ff 392.5px,#07f 397.5px,#005aff 399.5px,#005aff 401px,#0078ff 405px,#0082ff 413.5px,#0050ff 419px,#009aff 423.5px,#00a9ff 426px,#009fff 427.5px,#0084ff 429px,#001cff 432px,#0020ff 432.5px,#006eff 434.5px,#09f 436px,#00b4ff 438.5px,#00adff 440px,#0094ff 441.5px,#001dff 445px,#0021ff 445.5px,#08f 448.5px,#00a9ff 451px,#09f 454px,#0045ff 458.5px,#0081ff 462.5px,#008eff 465px,#0076ff 472.5px,#007fff 486.5px,#0047ff 493.5px,#005bff 495.5px,#00bfff 501.5px,#00e0ff 506.5px,#00caff 511.5px,#06f 517.5px,#0058ff 519px,#006aff 520.5px,#00d2ff 524.5px,#04fffb 527px,#3fffc0 534.5px,#69ff96 545.5px,#ff0 617.5px,#ffb400 682px)"></i><i style="background:linear-gradient(90deg,#30ffcf 0,#00fbff 5px,#0054ff 13.5px,#03f 16px,#0032ff 24px,#0063ff 29.5px,#0067ff 31.5px,#004fff 33.5px,#0000fb 36px,#0000ed 37.5px,#0006ff 39px,#003dff 40px,#0074ff 41.5px,#0092ff 43px,#009cff 44.5px,#0092ff 46px,#006eff 47.5px,#0043ff 48.5px,#00f 49.5px,#0000e6 51px,#0000f8 52px,#000dff 52.5px,#0050ff 53.5px,#007aff 54.5px,#009dff 56px,#00a7ff 57.5px,#009bff 59px,#0085ff 60px,#0049ff 61.5px,#0003ff 62.5px,#0000f6 63px,#0000e6 64px,#0008ff 65.5px,#0049ff 66.5px,#0072ff 67.5px,#0093ff 69px,#009dff 70.5px,#0092ff 72px,#0072ff 73.5px,#004fff 74.5px,#0000fe 76px,#0000ea 77.5px,#0000fd 79px,#0042ff 80.5px,#005fff 81.5px,#07f 83px,#007dff 84.5px,#005fff 87.5px,#00f 91.5px,#0000fe 93.5px,#002bff 95.5px,#0041ff 98px,#002eff 114.5px,#06f 123px,#0071ff 126.5px,#0057ff 131px,#0036ff 133px,#0003ff 135px,#0000e8 138.5px,#0000fd 141px,#005aff 143.5px,#009cff 146px,#00d3ff 149px,#01fffe 152.5px,#26ffd9 159.5px,#46ffb9 169.5px,#ff0 246px,#fc0 286.5px,#ffbd00 314px,#ffd200 340px,#fffe00 357px,#adff52 369px,#00feff 386px,#0057ff 394.5px,#0035ff 397px,#0032ff 405px,#0061ff 410.5px,#0067ff 412.5px,#0048ff 415px,#0000fe 417px,#0000ec 418.5px,#0000fd 420px,#006eff 422.5px,#008fff 424px,#009cff 425.5px,#0094ff 427px,#0075ff 428.5px,#0000f9 431px,#0000e6 432px,#0000fe 433.5px,#04f 434.5px,#0073ff 435.5px,#009aff 437px,#00a7ff 438.5px,#009eff 440px,#007dff 441.5px,#0054ff 442.5px,#0000fa 444px,#0000e7 445px,#0000fd 446.5px,#0057ff 448px,#007bff 449px,#009dff 451.5px,#0095ff 453px,#0078ff 454.5px,#0041ff 456px,#0009ff 457px,#0000fa 457.5px,#0000eb 458.5px,#0000fb 460px,#005aff 462.5px,#0075ff 464px,#007dff 465.5px,#0063ff 468.5px,#0000fd 473px,#0000fd 474.5px,#002fff 477px,#0041ff 479px,#002eff 495.5px,#0071ff 507.5px,#006aff 510px,#0053ff 512.5px,#0000fe 516.5px,#0000e8 520px,#0000fb 522px,#0005ff 522.5px,#0053ff 524.5px,#0097ff 527px,#00d0ff 530px,#0ff 533.5px,#25ffda 540.5px,#46ffb9 550.5px,#ff0 627px,#ffc100 682px)"></i><i style="background:linear-gradient(90deg,#00e9ff 0,#0016ff 10px,#0000fe 11.5px,#0000ec 21px,#0000fd 24.5px,#004eff 28px,#0064ff 30.5px,#004eff 33px,#0000fc 35.5px,#0000e8 37.5px,#00f 39px,#0039ff 40px,#0071ff 41.5px,#008fff 43px,#0098ff 44.5px,#008eff 46px,#006eff 47.5px,#0000fd 50px,#0000f9 51.5px,#0002ff 52px,#003eff 53px,#007aff 54.5px,#09f 56px,#00a3ff 57.5px,#0097ff 59px,#0076ff 60.5px,#0050ff 61.5px,#0000fe 63px,#0000f4 64px,#0000fe 65px,#004eff 66.5px,#0071ff 67.5px,#0090ff 69px,#09f 70.5px,#008eff 72px,#006fff 73.5px,#004dff 74.5px,#0000fe 76px,#0000ea 77.5px,#0000fc 79px,#0059ff 81.5px,#0073ff 83px,#007aff 84.5px,#0070ff 86px,#0057ff 87.5px,#00f 90px,#00d 92.5px,#0001ff 96px,#002aff 98px,#0036ff 100px,#002aff 102.5px,#0000fe 106px,#0000f3 111px,#0000fb 131px,#0000ed 135.5px,#0000cf 139px,#0000fd 145px,#005eff 149.5px,#09f 153.5px,#00d5ff 159.5px,#01fffe 166px,#6bff94 201px,#ff0 259px,#ffd900 287px,#ffca00 314px,#ffd400 331.5px,#fffe00 351.5px,#a1ff5e 366px,#00fdff 380.5px,#00f 392.5px,#0000ec 402.5px,#00f 406px,#004bff 409px,#0064ff 412px,#0048ff 414.5px,#00f 416.5px,#0000e7 418.5px,#0000fc 420px,#006bff 422.5px,#008cff 424px,#0098ff 425.5px,#0091ff 427px,#0074ff 428.5px,#003cff 430px,#0002ff 431px,#0000f5 432px,#0000fd 433px,#0074ff 435.5px,#0096ff 437px,#00a2ff 438.5px,#009aff 440px,#007cff 441.5px,#0042ff 443px,#0007ff 444px,#0000fa 444.5px,#0000fb 446px,#005aff 448px,#0079ff 449px,#09f 451.5px,#0091ff 453px,#0075ff 454.5px,#0040ff 456px,#0009ff 457px,#0000fa 457.5px,#0000eb 459px,#0001ff 460.5px,#0032ff 461.5px,#0054ff 462.5px,#0070ff 464px,#007aff 465.5px,#0073ff 467px,#005bff 468.5px,#0000fc 471.5px,#00d 474px,#0000fe 477px,#0028ff 479px,#0036ff 481.5px,#0027ff 484px,#00f 487px,#0000f3 492px,#0000fb 512.5px,#00e 516.5px,#0000cf 520px,#00f 526.5px,#0051ff 530px,#0097ff 534.5px,#00cfff 540px,#01fffe 547px,#6aff95 582px,#feff01 640px,#ffce00 682px)"></i><i style="background:linear-gradient(90deg,#0067ff 0,#0000fe 4px,#0000e8 9px,#00e 16px,#0000db 20.5px,#00f 24.5px,#0051ff 27.5px,#006dff 30.5px,#005fff 33px,#0016ff 37px,#02f 38px,#007eff 41.5px,#0097ff 43.5px,#008fff 46.5px,#004cff 50px,#04f 51px,#0091ff 55px,#00a4ff 57.5px,#008fff 60px,#0043ff 64px,#0090ff 68.5px,#0098ff 71.5px,#007eff 73.5px,#02f 77.5px,#002bff 78.5px,#0071ff 82px,#007fff 85px,#005aff 88px,#00f 91px,#0000f3 93px,#0000fe 95px,#0031ff 97.5px,#0043ff 100px,#0032ff 103px,#0000fe 106px,#0000d6 111.5px,#0000f2 118.5px,#0000dc 141px,#0000fe 153px,#007eff 165px,#00feff 184.5px,#feff01 268.5px,#fff100 279.5px,#ffd700 315.5px,#ffe000 330px,#ff0 346.5px,#94ff6b 363px,#58ffa7 369px,#00f9ff 376px,#0001ff 385px,#0000fd 385.5px,#0000e9 390px,#00e 397.5px,#0000db 402px,#0000fd 405.5px,#0056ff 409px,#006eff 412px,#005bff 414.5px,#001fff 417.5px,#0016ff 418.5px,#007aff 422.5px,#0096ff 424.5px,#0091ff 427.5px,#04f 432px,#004dff 433px,#0095ff 436.5px,#00a4ff 438.5px,#0092ff 441px,#04f 445px,#004aff 446px,#0093ff 450px,#09f 452.5px,#0082ff 454.5px,#002cff 458px,#02f 459px,#0075ff 463.5px,#007eff 466.5px,#005fff 469px,#0000fc 472.5px,#0000f3 474px,#0000fd 476px,#0035ff 479px,#0043ff 481.5px,#0035ff 484px,#00f 487px,#0000d6 492.5px,#0000f2 499.5px,#0000dc 522.5px,#00f 534.5px,#003fff 539.5px,#0078ff 545.5px,#00fdff 565.5px,#feff01 650px,#ffdb00 682px)"></i><i style="background:linear-gradient(90deg,#0000ef 0,#0000cf 6.5px,#0000ef 13px,#0000fe 22px,#0053ff 26px,#0079ff 29.5px,#007cff 32px,#06f 37px,#009fff 43.5px,#009fff 46px,#0080ff 51px,#00a9ff 57.5px,#007fff 64px,#00a1ff 71px,#006dff 77.5px,#008bff 85px,#007aff 87.5px,#003cff 93px,#0058ff 98.5px,#0059ff 101px,#003dff 104.5px,#00f 108px,#0000f0 111.5px,#0000f7 122px,#0000d5 139.5px,#0000d8 152px,#00f 170px,#0085ff 185px,#0ff 202px,#9fff60 247.5px,#fffe00 281.5px,#ffe500 314px,#feff01 340px,#d2ff2d 349px,#91ff6e 358.5px,#4effb1 365.5px,#00feff 371.5px,#008dff 375.5px,#0000fe 379.5px,#0000cf 387.5px,#0000f0 394.5px,#0001ff 403.5px,#0058ff 407.5px,#007bff 411px,#007cff 413.5px,#06f 418px,#00a0ff 425px,#009dff 427.5px,#0080ff 432px,#00a9ff 438.5px,#0080ff 445px,#009eff 450px,#00a1ff 452.5px,#006dff 459px,#008aff 464px,#008aff 466.5px,#003cff 474px,#0059ff 480px,#0058ff 482.5px,#003fff 485.5px,#0000fd 489.5px,#0000f0 493px,#0000f7 503px,#0000d5 521px,#0000d9 533.5px,#0000fe 551px,#08f 566.5px,#00feff 583px,#e8ff17 653px,#ff0 662.5px,#ffea00 682px)"></i><i style="background:linear-gradient(90deg,#0000c5 0,#0000bf 3.5px,#0000ec 9px,#00f 13.5px,#0075ff 26px,#008dff 30px,#0091ff 37.5px,#0af 44px,#00a0ff 51px,#00afff 57.5px,#00a0ff 64px,#0af 71px,#0094ff 78px,#009aff 84.5px,#0076ff 93px,#0072ff 101px,#002cff 111.5px,#0019ff 120px,#00f 124.5px,#0000d3 139.5px,#0000be 158.5px,#0000fe 188.5px,#0087ff 202.5px,#00fdff 218px,#b7ff48 266.5px,#ff0 295px,#fff500 314px,#ff0 330px,#e9ff16 337.5px,#c5ff3a 345.5px,#8dff72 354px,#4effb1 361px,#03fffc 367px,#0094ff 371px,#0000fe 375px,#0000cb 380.5px,#0000be 384px,#00e 390.5px,#0002ff 395px,#0073ff 407px,#008cff 411px,#0090ff 418.5px,#0af 425.5px,#00a0ff 432px,#00afff 438.5px,#00a0ff 445px,#0af 452px,#0094ff 459px,#09f 466px,#0076ff 474px,#0073ff 482px,#002bff 493px,#001aff 501px,#0000fe 506px,#0000d4 520.5px,#0000be 540px,#00f 570px,#0085ff 583.5px,#0ff 599.5px,#c0ff3f 650.5px,#f6ff09 671px,#fffa00 682px)"></i><i style="background:linear-gradient(90deg,#0000be 0,#0000fe 9px,#0057ff 16.5px,#09f 28.5px,#00b1ff 43.5px,#00b5ff 57.5px,#00a7ff 84px,#08f 101.5px,#0043ff 122px,#0000fe 133.5px,#0000bd 163px,#0000b8 171.5px,#0000c6 184px,#0000fe 205.5px,#08f 218.5px,#01fffe 232.5px,#65ff9a 255px,#b9ff46 278.5px,#e6ff19 297.5px,#f4ff0b 313.5px,#e5ff1a 328.5px,#b7ff48 341.5px,#6bff94 353px,#03fffc 362.5px,#00a9ff 366px,#0056ff 368.5px,#0003ff 370.5px,#0000fb 371px,#0000c7 376px,#0000b9 379.5px,#00f 390.5px,#002eff 393.5px,#0056ff 397.5px,#009aff 410px,#00b1ff 424.5px,#00b5ff 438.5px,#00a7ff 465.5px,#0089ff 482.5px,#0042ff 503.5px,#00f 514.5px,#0000bd 544px,#0000b8 552.5px,#0000c7 565.5px,#00f 587px,#007dff 598.5px,#0ff 613.5px,#9dff62 651px,#ceff31 667.5px,#ebff14 682px)"></i><i style="background:linear-gradient(90deg,#0000e1 0,#0000fe 5px,#003cff 9px,#0064ff 13px,#009cff 23.5px,#00b4ff 36px,#00baff 57px,#00b2ff 85px,#0093ff 107px,#0056ff 128.5px,#00f 147px,#0000c0 178px,#0000b9 190px,#0000c3 200.5px,#0000fe 220.5px,#0095ff 233.5px,#02fffd 245px,#5dffa2 264px,#a0ff5f 282.5px,#c8ff37 299px,#d5ff2a 313.5px,#c7ff38 327px,#9fff60 339px,#5cffa3 349.5px,#02fffd 358px,#008fff 362.5px,#0000fe 366.5px,#0000c4 372px,#0000b9 375px,#0000c3 378px,#0000fe 386px,#003fff 390.5px,#06f 394.5px,#00a0ff 406px,#00b5ff 418.5px,#00baff 438.5px,#00b1ff 466.5px,#0092ff 488.5px,#05f 510px,#00f 528px,#0000c1 559px,#0000b9 571px,#0000c3 582px,#00f 602px,#08f 613.5px,#01fffe 626px,#85ff7a 655.5px,#cbff34 682px)"></i><i style="background:linear-gradient(90deg,#0000fd 0,#0005ff 1px,#004aff 5.5px,#0074ff 10px,#0092ff 15.5px,#00adff 24.5px,#00b9ff 31px,#00bdff 70.5px,#00b0ff 101px,#008cff 122.5px,#0037ff 149.5px,#00f 162px,#0000b5 205px,#0000bf 213px,#0000fe 234.5px,#0091ff 245px,#01fffe 256.5px,#47ffb8 270px,#86ff79 286.5px,#a8ff57 300.5px,#b3ff4c 313.5px,#a6ff59 326px,#85ff7a 336px,#50ffaf 345px,#02fffd 353px,#009cff 357.5px,#0000fd 362.5px,#0000c0 368.5px,#0000b8 370.5px,#0000c2 373.5px,#0001ff 382px,#0034ff 385px,#0062ff 389px,#0097ff 398px,#00b7ff 410px,#00bdff 425.5px,#0bf 466px,#00adff 484.5px,#0080ff 508.5px,#03f 532px,#0001ff 543px,#0000b5 586px,#0000c0 594.5px,#00f 616px,#08f 625.5px,#0ff 637.5px,#70ff8f 661.5px,#a8ff57 682px)"></i><i style="background:linear-gradient(90deg,#0041ff 0,#0078ff 5.5px,#0097ff 10.5px,#00bfff 28.5px,#00b5ff 37.5px,#00beff 44.5px,#00b1ff 51px,#00bcff 57.5px,#00b1ff 64px,#00beff 70.5px,#00b4ff 77.5px,#00c0ff 84.5px,#00b5ff 92.5px,#00bcff 101px,#00a8ff 111.5px,#00a4ff 124px,#0079ff 139px,#0057ff 157px,#03f 168.5px,#00f 179.5px,#0000c0 216px,#0000c9 231.5px,#00f 245px,#0043ff 250px,#01fffe 267px,#61ff9e 288.5px,#83ff7c 301.5px,#8eff71 314px,#6dff92 331.5px,#3cffc3 341px,#01fffe 347.5px,#0093ff 352.5px,#0000fd 358px,#0000ba 366.5px,#00f 377.5px,#0054ff 383px,#008cff 389.5px,#00beff 409px,#00b5ff 418.5px,#00beff 425.5px,#00b1ff 432px,#00bcff 439px,#00b1ff 445px,#00c0ff 466px,#00b4ff 474px,#00bcff 483px,#00a8ff 492.5px,#00a2ff 506px,#004cff 542.5px,#00f 561px,#0000c0 597px,#0000c9 612.5px,#0000fe 626px,#00feff 648px,#56ffa9 666.5px,#81ff7e 682px)"></i><i style="background:linear-gradient(90deg,#0071ff 0,#00acff 10px,#00b0ff 21px,#00c2ff 28.5px,#00acff 37.5px,#00b9ff 44.5px,#00a3ff 51px,#00b5ff 57px,#00a4ff 64px,#00b9ff 70.5px,#0af 77.5px,#00c0ff 84.5px,#00b1ff 92.5px,#00c3ff 101.5px,#00aeff 111.5px,#00b6ff 124px,#008eff 139px,#07f 163px,#0043ff 181.5px,#00f 198px,#0000c7 230px,#0000cf 240px,#0000fe 259.5px,#0067ff 264.5px,#009eff 268px,#02fffd 279.5px,#29ffd6 286.5px,#53ffac 299.5px,#64ff9b 314px,#4effb1 328px,#02fffd 341.5px,#00adff 346px,#0068ff 348.5px,#0001ff 351.5px,#0000fc 352px,#0000bf 363px,#0000fe 373px,#0045ff 377.5px,#0076ff 382px,#009dff 387.5px,#00b0ff 393px,#00b0ff 402px,#00c3ff 411px,#00acff 418.5px,#00baff 425.5px,#00a3ff 432.5px,#00b5ff 439px,#00a3ff 445px,#00b9ff 451.5px,#0af 458.5px,#00c0ff 465.5px,#00b1ff 474px,#00c3ff 482.5px,#00aeff 492.5px,#00b6ff 505px,#008eff 520.5px,#0076ff 544.5px,#0042ff 563px,#0001ff 579px,#0000c7 611.5px,#0000d0 621.5px,#00f 641px,#0063ff 645.5px,#009bff 649px,#01fffe 660.5px,#2affd5 668px,#56ffa9 682px)"></i><i style="background:linear-gradient(90deg,#0092ff 0,#00b3ff 6.5px,#00bdff 11.5px,#00aeff 21px,#00c0ff 30px,#009dff 37.5px,#00b0ff 44.5px,#008fff 51px,#00a9ff 58px,#008fff 64px,#00b0ff 70.5px,#009bff 77.5px,#00bcff 85px,#00a8ff 92.5px,#00c5ff 101px,#00aeff 111.5px,#00c2ff 123.5px,#009dff 138.5px,#009cff 158.5px,#0080ff 176px,#0040ff 201px,#00f 214px,#0000c6 232px,#0000d2 238.5px,#0000d1 259px,#0000fe 266.5px,#003eff 271px,#06f 277.5px,#00d6ff 285px,#00f4ff 289.5px,#0ff 292.5px,#26ffd9 301.5px,#34ffcb 314.5px,#1effe1 327px,#01fffe 332px,#0094ff 341.5px,#005fff 344px,#0000fd 347px,#0000d5 351px,#0000cd 359px,#0000fe 368px,#004bff 373.5px,#0080ff 379px,#00a7ff 385px,#0bf 391px,#00aeff 402px,#00c0ff 411px,#009dff 418.5px,#00afff 426px,#008fff 432px,#0af 439px,#008fff 445px,#00afff 451.5px,#009bff 458.5px,#0bf 465.5px,#00a9ff 474px,#00c5ff 483px,#00afff 492px,#00c3ff 504.5px,#009dff 520px,#009eff 537.5px,#008fff 549.5px,#0046ff 580.5px,#0027ff 588.5px,#00f 595px,#0000c6 613.5px,#0000d2 619.5px,#0000d1 640.5px,#00f 648px,#003cff 652px,#006aff 659px,#00c1ff 664.5px,#00e6ff 668px,#00feff 673.5px,#24ffdb 682px)"></i><i style="background:linear-gradient(90deg,#00a9ff 0,#00c5ff 9.5px,#00a8ff 21px,#00baff 29px,#08f 37.5px,#00a0ff 44.5px,#0072ff 51px,#0098ff 57.5px,#0073ff 64px,#00a0ff 70.5px,#0084ff 77.5px,#00b1ff 84.5px,#009aff 92.5px,#00c2ff 101px,#0af 111px,#00c8ff 124px,#00a6ff 138px,#00afff 163px,#07f 199px,#004cff 213px,#0000fe 223px,#0000e2 233px,#0000e6 242px,#0000d1 259.5px,#0000ef 271.5px,#0000ea 278px,#00f 281px,#004eff 284px,#0075ff 287px,#0085ff 293.5px,#00c7ff 298.5px,#00dbff 301px,#00d9ff 307.5px,#00f9ff 314.5px,#00d3ff 321px,#00c6ff 328px,#00a5ff 330.5px,#0046ff 335px,#002bff 339.5px,#0000fe 342.5px,#0000cf 350px,#0000da 356.5px,#0000fe 363px,#0045ff 368px,#007bff 374px,#00acff 382px,#00c4ff 389px,#00c2ff 394px,#00a7ff 402.5px,#00b9ff 411px,#0087ff 419px,#00a0ff 425.5px,#0072ff 432px,#0098ff 439px,#0072ff 445px,#009fff 451.5px,#0083ff 458.5px,#00b1ff 466px,#009aff 473.5px,#00c1ff 482px,#0af 492.5px,#00c9ff 504.5px,#00a6ff 519.5px,#00afff 544px,#07f 580px,#004aff 594.5px,#00f 604px,#0000e2 614px,#0000e6 623.5px,#0000d1 641px,#0000ef 652.5px,#0000ea 659px,#0000fd 662px,#004aff 665px,#0069ff 667px,#007bff 669.5px,#0083ff 674.5px,#00d9ff 682px)"></i><i style="background:linear-gradient(90deg,#00b9ff 0,#00caff 9px,#009bff 21px,#00acff 29.5px,#0069ff 37.5px,#0087ff 42.5px,#0087ff 45px,#0049ff 51px,#007dff 57px,#0078ff 59px,#0049ff 64px,#0087ff 70px,#0087ff 72px,#0063ff 77.5px,#009eff 84px,#009fff 86.5px,#0084ff 92.5px,#00baff 101.5px,#009fff 111px,#00caff 123px,#00a8ff 139px,#00beff 155.5px,#00bcff 167.5px,#0081ff 210.5px,#05f 220px,#0000fe 230px,#0000f9 247.5px,#0000cb 259px,#0000d9 263px,#0000dc 273.5px,#0000ce 278px,#0000f9 286px,#0000f2 293.5px,#0000fd 295.5px,#0048ff 298.5px,#0064ff 300.5px,#0068ff 303px,#04f 308px,#007eff 312px,#008cff 314.5px,#007bff 317px,#0038ff 321px,#0057ff 325.5px,#0053ff 327.5px,#0035ff 329.5px,#0000fd 331.5px,#0000e2 334.5px,#0000eb 339.5px,#0000cf 351px,#00f 359px,#0046ff 363px,#007bff 369px,#00b6ff 380.5px,#00cbff 389.5px,#00c3ff 394px,#009bff 402.5px,#00abff 411px,#0069ff 418.5px,#08f 424px,#08f 426px,#0049ff 432.5px,#007dff 438px,#0076ff 440.5px,#0049ff 445px,#08f 451.5px,#0085ff 453.5px,#0063ff 458.5px,#009fff 465.5px,#0085ff 474px,#00b9ff 482.5px,#009fff 492px,#00caff 504.5px,#00a8ff 520px,#00beff 537.5px,#0bf 550.5px,#0080ff 592px,#0053ff 601.5px,#00f 611px,#0000fa 628.5px,#0000cb 640.5px,#0000d9 644px,#0000dc 654.5px,#0000ce 659.5px,#0000f9 667px,#0000f2 674.5px,#00f 677px,#04f 679.5px,#0064ff 682px)"></i><i style="background:linear-gradient(90deg,#00c3ff 0,#00c8ff 10.5px,#0087ff 21.5px,#0098ff 29.5px,#0087ff 32px,#003cff 37.5px,#0065ff 42.5px,#0068ff 44.5px,#0056ff 46.5px,#0013ff 50px,#000aff 51px,#01f 52px,#0047ff 55px,#0058ff 57px,#004cff 59.5px,#0010ff 63px,#000bff 64px,#0050ff 68px,#06f 70px,#0062ff 72.5px,#0039ff 76px,#03f 77.5px,#0085ff 84px,#0087ff 86.5px,#0065ff 92.5px,#009dff 98.5px,#00abff 101.5px,#008fff 111px,#00c5ff 123px,#00a6ff 139px,#00c9ff 163px,#00a0ff 210px,#0080ff 219px,#002eff 232.5px,#003dff 246.5px,#0029ff 249.5px,#00f 252.5px,#0000d4 259.5px,#0000e9 266px,#0000d9 278px,#0000e3 289.5px,#0000d0 294px,#0000f7 300px,#0000f7 303.5px,#0000e0 308px,#0000fc 312px,#0004ff 315.5px,#00d 321px,#0000f5 327px,#0000d1 334px,#0000e0 346px,#0000cd 350.5px,#0000fd 355.5px,#05f 360px,#08f 365.5px,#00b8ff 377.5px,#0cf 388px,#00bfff 394px,#0087ff 402.5px,#09f 409px,#0095ff 411.5px,#003dff 418.5px,#0040ff 420px,#0067ff 424px,#0067ff 426px,#0052ff 428px,#000bff 432px,#000eff 433px,#04f 436px,#0057ff 438px,#004eff 440.5px,#000bff 445px,#0012ff 446px,#05f 449.5px,#0067ff 451.5px,#0064ff 453.5px,#03f 458.5px,#0086ff 465.5px,#0086ff 468px,#0065ff 473.5px,#00abff 482.5px,#008fff 492px,#00c5ff 504px,#00a6ff 520px,#00c9ff 544px,#00a0ff 591px,#007fff 600.5px,#002dff 614px,#003dff 627.5px,#002bff 630.5px,#0000fe 634px,#0000d4 640.5px,#0000e9 647.5px,#0000d9 659px,#0000e3 670.5px,#0000d0 675px,#0000f8 682px)"></i><i style="background:linear-gradient(90deg,#00c7ff 0,#00bfff 11px,#006bff 21.5px,#007eff 27.5px,#0079ff 30px,#005dff 32.5px,#0000fe 37px,#0002ff 39px,#002cff 41.5px,#003bff 43.5px,#0030ff 45.5px,#0000fe 48px,#0000eb 51px,#00f 54.5px,#001aff 56px,#02f 57.5px,#0000fe 60.5px,#0000ec 64px,#00f 67px,#002aff 69px,#0039ff 71px,#002cff 73px,#00f 75.5px,#0000fd 78.5px,#0049ff 82px,#0062ff 84px,#0065ff 86.5px,#0039ff 92.5px,#0084ff 98.5px,#0096ff 101.5px,#07f 111px,#00adff 119px,#0bf 123px,#009fff 138.5px,#00c5ff 154.5px,#00cdff 165.5px,#00b4ff 210px,#009dff 218.5px,#0059ff 233px,#006fff 246.5px,#004eff 251.5px,#0000fd 256.5px,#0000f2 260px,#0000fb 270px,#0000cb 278px,#0000e2 283px,#0000e1 304px,#0000d3 308px,#0000e6 314px,#0000d4 321px,#0000e0 324.5px,#0000da 335px,#0000f2 344px,#0000eb 350px,#0000fd 353px,#06f 358px,#0097ff 363px,#00b7ff 372px,#00cbff 386px,#00b8ff 393.5px,#006bff 402.5px,#007eff 409px,#07f 411.5px,#0058ff 414px,#00f 418px,#00f 420px,#002fff 423px,#003bff 425px,#002cff 427px,#00f 429px,#0000ec 432px,#0000fe 435.5px,#02f 438.5px,#0000fd 442px,#0000ec 445px,#0000fd 448px,#0027ff 450px,#0038ff 452px,#002fff 454px,#0002ff 456.5px,#00f 460px,#0046ff 463px,#0064ff 465.5px,#0064ff 468px,#0038ff 473.5px,#0082ff 479.5px,#0095ff 482.5px,#07f 492px,#0bf 504px,#009fff 520px,#00c5ff 535.5px,#00cdff 546.5px,#00b4ff 591px,#009dff 599.5px,#0059ff 614.5px,#006fff 627.5px,#0051ff 632.5px,#0000fe 637.5px,#0000f2 641px,#0000fb 651.5px,#0000cb 659.5px,#0000e1 663.5px,#0000e0 682px)"></i><i style="background:linear-gradient(90deg,#00c7ff 0,#00c3ff 6.5px,#00b2ff 11px,#0095ff 14.5px,#0043ff 21.5px,#0057ff 27.5px,#0053ff 29.5px,#003eff 31.5px,#0001ff 34px,#0000fc 34.5px,#0000e5 37.5px,#0000fb 42px,#0000f9 45.5px,#0000ce 51px,#00e 54.5px,#0000f4 58.5px,#0000ce 64px,#0000f9 69.5px,#0000f9 73px,#0000e0 77.5px,#00f 81.5px,#0028ff 83.5px,#0036ff 85.5px,#002dff 87.5px,#0002ff 90.5px,#00f 93.5px,#0059ff 98px,#07f 101.5px,#0076ff 104px,#0054ff 110.5px,#0061ff 113px,#009aff 119px,#00acff 123px,#0092ff 138.5px,#00c3ff 155.5px,#00ceff 169.5px,#00c2ff 210px,#0078ff 233px,#0090ff 247px,#0073ff 252px,#0017ff 259.5px,#0043ff 268.5px,#0031ff 271px,#0000fd 274px,#0000de 278px,#0000f5 285.5px,#0000ea 289.5px,#0000cf 293.5px,#0000e2 298px,#0000da 321px,#0000e5 330px,#0000cb 334.5px,#0000fe 340.5px,#001aff 344px,#00f 349.5px,#0010ff 351px,#007dff 357px,#00a9ff 362px,#00bfff 370px,#00c6ff 385px,#00a9ff 393.5px,#04f 402.5px,#0057ff 408.5px,#0051ff 411px,#0039ff 413px,#0000fd 415.5px,#0000e5 418.5px,#0000fa 423px,#0000fa 426.5px,#0000ea 429.5px,#0000ce 432px,#0000ef 436px,#0000f3 440px,#0000ce 445px,#0000f9 450.5px,#0000f8 454.5px,#0000e0 458.5px,#0000fe 462.5px,#002cff 465px,#0036ff 467px,#002aff 469px,#00f 472px,#0000fe 474.5px,#005dff 479.5px,#0078ff 483px,#05f 492px,#0098ff 500px,#00abff 504px,#0092ff 519.5px,#00c3ff 536.5px,#00ceff 550.5px,#00c2ff 591px,#00b1ff 599px,#0078ff 614px,#0091ff 628px,#0075ff 633px,#0016ff 641px,#0043ff 649px,#03f 652px,#0000fe 655px,#00d 659.5px,#0000f6 666px,#0000eb 670.5px,#0000ce 675px,#0000e0 678px,#0000e0 682px)"></i><i style="background:linear-gradient(90deg,#00c1ff 0,#00b4ff 7px,#009aff 11.5px,#0073ff 15px,#0006ff 21.5px,#001fff 27.5px,#0000fd 31.5px,#00c 37.5px,#0000e7 42px,#0000d7 57.5px,#0000e6 73px,#00c 77.5px,#0000f8 84px,#0000f9 87.5px,#0000e4 92.5px,#00f 96.5px,#002dff 98.5px,#0049ff 101px,#004cff 104px,#0027ff 109px,#0024ff 111px,#007aff 118.5px,#0096ff 123.5px,#007eff 138px,#00c4ff 160.5px,#00cdff 200px,#00c2ff 215px,#008fff 232px,#00a8ff 247.5px,#0096ff 251.5px,#004cff 260px,#006eff 266.5px,#0070ff 269px,#0053ff 272.5px,#00f 276.5px,#0000fe 281px,#001eff 283.5px,#0027ff 285.5px,#001eff 287px,#00f 289px,#0000d8 293.5px,#0000f3 298px,#0000f6 301px,#0000eb 304.5px,#00c 308px,#00e 313px,#0000eb 317.5px,#00c 321px,#0000f7 326.5px,#0000f8 330px,#0000e3 334.5px,#0000fd 337.5px,#0038ff 340px,#0050ff 342px,#0054ff 344px,#003eff 349.5px,#00adff 359.5px,#00c0ff 364px,#00c6ff 370.5px,#00beff 384px,#00a7ff 391px,#007dff 395.5px,#0014ff 401.5px,#0003ff 403.5px,#001fff 409px,#0000fe 412.5px,#0000cb 418.5px,#0000e7 423px,#0000d7 438.5px,#0000e6 454.5px,#0000cd 459px,#0000f7 465px,#0000f8 469px,#0000e4 473.5px,#0000fe 477.5px,#0032ff 480px,#004bff 482.5px,#004bff 485.5px,#0023ff 492px,#007cff 500px,#0095ff 504.5px,#007dff 519px,#00c3ff 541.5px,#00cdff 581.5px,#00c3ff 596px,#008eff 613.5px,#00a8ff 628.5px,#0093ff 633px,#004cff 641px,#006fff 648px,#006dff 651px,#004eff 654px,#0000fd 658px,#00f 662.5px,#001cff 664.5px,#0027ff 666.5px,#001bff 668.5px,#0002ff 670px,#0000d7 675px,#0000f0 678.5px,#0000f7 682px)"></i><i style="background:linear-gradient(90deg,#00b5ff 0,#00a1ff 6.5px,#0082ff 11px,#0053ff 14.5px,#0001ff 18px,#0000fc 18.5px,#0000ec 21.5px,#0000f4 27px,#0000de 36px,#0000e3 40.5px,#0000c6 44.5px,#0000e8 48px,#0000f0 52px,#0000e6 54.5px,#0000c2 57.5px,#0000e3 60px,#0000f0 63px,#0000e8 67px,#0000c5 70.5px,#0000e6 75.5px,#0000e5 88.5px,#0000ca 92.5px,#0000ed 96.5px,#00f 100.5px,#000eff 103px,#00f 106px,#0000f6 110.5px,#0000fe 113.5px,#0057ff 119px,#0076ff 124px,#0060ff 137.5px,#00a2ff 152.5px,#00b7ff 160.5px,#00ceff 203.5px,#00c6ff 215.5px,#009dff 232px,#00b9ff 247.5px,#0af 251.5px,#0071ff 260px,#0091ff 269px,#007fff 272px,#002cff 278.5px,#0059ff 284px,#0058ff 287px,#003fff 289px,#0000fd 292px,#0000fd 296.5px,#02f 299px,#0029ff 300.5px,#001cff 302.5px,#00f 304px,#0000e5 308px,#0000fe 312px,#0014ff 314.5px,#0000fe 317px,#0000e7 321px,#00f 324.5px,#02f 326px,#0034ff 328px,#002aff 330px,#00f 332.5px,#0000fe 335px,#0059ff 339px,#07f 341.5px,#007bff 344px,#0069ff 350px,#00b9ff 359px,#00caff 366px,#00b6ff 381px,#0098ff 389.5px,#005fff 395px,#0000fd 399.5px,#0000ec 403px,#0000f4 408.5px,#0000de 417px,#0000e4 421.5px,#0000c5 425.5px,#0000ea 429.5px,#0000f0 433.5px,#0000e4 436px,#0000c3 438.5px,#0000e5 441.5px,#0000f1 444.5px,#0000e6 448.5px,#0000c6 451.5px,#0000e6 457px,#0000e5 469.5px,#0000ca 474px,#0000ec 477.5px,#0000fe 481.5px,#000eff 484.5px,#0000fe 487.5px,#0000fd 494.5px,#05f 500px,#0076ff 505px,#0061ff 519px,#00a2ff 533.5px,#00b7ff 541.5px,#00ceff 584px,#00c6ff 596.5px,#009dff 613px,#00b8ff 629px,#0071ff 641px,#0090ff 650.5px,#007cff 653.5px,#002cff 659.5px,#0030ff 661px,#005aff 665.5px,#0059ff 668px,#003aff 670.5px,#0000fe 673px,#0000f5 675.5px,#00f 678px,#0020ff 680px,#002aff 682px)"></i><i style="background:linear-gradient(90deg,#00a3ff 0,#006cff 9.5px,#003bff 13px,#00f 15.5px,#0000cf 21px,#0000e2 25.5px,#0000cd 30px,#0000f3 38px,#0000ec 41px,#0000cf 44.5px,#0000f1 47.5px,#0000fd 51px,#0000f5 54px,#0000d8 57.5px,#0000f6 61px,#0000fd 64px,#0000f0 67.5px,#0000cf 70.5px,#0000f0 74.5px,#0000f4 78.5px,#0000c3 85px,#0000e3 89.5px,#00d 94px,#00e 104.5px,#0000da 111px,#0000fe 117px,#0031ff 120.5px,#0048ff 124px,#0038ff 138px,#0086ff 151.5px,#00a3ff 160px,#00caff 206px,#00c4ff 216px,#00a5ff 232px,#00c4ff 247.5px,#008bff 260px,#00a7ff 269.5px,#005cff 278.5px,#0080ff 284.5px,#007eff 287px,#0024ff 294px,#0058ff 299px,#005cff 301.5px,#0047ff 303.5px,#00f 307px,#0001ff 309px,#003cff 312px,#004fff 314px,#04f 316.5px,#0004ff 320px,#00f 321.5px,#0049ff 325px,#0064ff 327.5px,#0061ff 329.5px,#0037ff 334px,#0043ff 335.5px,#0084ff 339.5px,#0095ff 341.5px,#0085ff 350px,#00c0ff 358.5px,#0cf 364px,#00b9ff 375px,#0089ff 387px,#0056ff 392.5px,#0000fd 397px,#0000cf 402px,#0000e2 407px,#0000cd 411px,#0000f3 419.5px,#0000ea 422.5px,#0000ce 425.5px,#0000f3 429px,#0000fd 432.5px,#0000f3 435.5px,#0000d8 438.5px,#0000f7 442.5px,#0000fb 446.5px,#0000cf 452px,#0000ec 455px,#0000f5 458.5px,#0000ea 462px,#0000c3 466px,#0000e3 471px,#00d 475px,#00e 486px,#0000db 492.5px,#00f 498.5px,#002eff 501.5px,#0047ff 505px,#0037ff 519px,#0085ff 532.5px,#00a3ff 541px,#00c9ff 585.5px,#00c5ff 597px,#00a5ff 613px,#00c3ff 629px,#008bff 641px,#00a7ff 650.5px,#0097ff 653.5px,#005dff 659.5px,#007fff 665.5px,#007fff 668px,#006eff 670px,#0024ff 675px,#002aff 676.5px,#0056ff 680px,#005eff 682px)"></i><i style="background:linear-gradient(90deg,#008aff 0,#0052ff 7.5px,#0000fe 12.5px,#0000d1 19.5px,#0000e2 25px,#0000c6 29.5px,#0000ef 33.5px,#0000fe 37.5px,#0000e9 44px,#0000fe 48px,#001eff 51px,#0000fe 54px,#0000ef 57.5px,#00f 61px,#0017ff 62.5px,#001dff 64px,#0000fd 67px,#0000e9 70.5px,#00f 78px,#0000f4 81px,#0000d4 85px,#0000ec 88.5px,#0000f2 92px,#0000e8 96px,#0000c8 101px,#00d 106.5px,#0000ca 111.5px,#0000ef 118px,#0000fe 123.5px,#0009ff 127.5px,#00f 139px,#06f 152px,#0093ff 165px,#00c1ff 207.5px,#00a9ff 232.5px,#00c9ff 246.5px,#00c2ff 251px,#009dff 259.5px,#00b6ff 270px,#007eff 278.5px,#009bff 286.5px,#0059ff 294px,#0081ff 301px,#0076ff 303px,#003dff 308px,#07f 314px,#0072ff 316px,#0041ff 321px,#0086ff 327.5px,#0065ff 334px,#0af 341.5px,#09f 350px,#00c6ff 359px,#00c9ff 365px,#00acff 374.5px,#0076ff 384.5px,#0049ff 389.5px,#0000fd 394px,#0000d1 400.5px,#0000e2 406px,#0000c6 411px,#0000f1 415px,#0000fe 419px,#0000e9 425.5px,#00f 429.5px,#0018ff 431px,#001eff 432.5px,#0000fd 435.5px,#0000ef 438.5px,#0000fe 442px,#001dff 445px,#0000fe 448px,#0000e9 452px,#00f 459px,#0000f3 462.5px,#0000d4 466px,#0000ed 470px,#0000f2 473.5px,#0000c8 482.5px,#00d 487.5px,#0000ca 493px,#00e 499px,#0000fe 504.5px,#0009ff 508.5px,#00f 520px,#005fff 532px,#08f 541.5px,#00c1ff 587.5px,#00a8ff 613px,#00c9ff 629px,#009dff 641px,#00b7ff 650.5px,#007eff 659.5px,#009aff 668px,#0059ff 675.5px,#0082ff 682px)"></i><i style="background:linear-gradient(90deg,#0065ff 0,#003aff 4.5px,#0000fe 8.5px,#0000da 16px,#0000ef 23px,#0000e2 29.5px,#00f 34.5px,#0020ff 38px,#00f 41.5px,#00f 46.5px,#002eff 49px,#003bff 51px,#002fff 53px,#0000fe 56px,#00f 59px,#0030ff 62px,#003aff 64px,#002cff 66px,#00f 68.5px,#0000fe 73px,#0026ff 77px,#001cff 79px,#0000fe 81px,#0000ed 85px,#0000fc 90.5px,#0000f9 94.5px,#0000cb 101.5px,#0000e6 107.5px,#0000db 118.5px,#0000eb 127.5px,#0000e8 137.5px,#0000fe 146px,#0043ff 154px,#006aff 163px,#00b1ff 205.5px,#00a6ff 231.5px,#00c9ff 247.5px,#00a8ff 260px,#00c1ff 269px,#0096ff 278px,#00acff 287px,#007dff 294px,#009aff 301.5px,#006aff 308px,#0093ff 314px,#006cff 321px,#009eff 327.5px,#0085ff 334px,#00b8ff 341.5px,#00a6ff 350px,#00c6ff 361.5px,#00b3ff 369px,#0080ff 378px,#0042ff 385px,#00f 389.5px,#0000db 397px,#0000ef 404.5px,#0000e2 410.5px,#0000fe 415.5px,#0020ff 419px,#0001ff 422.5px,#0000fe 427.5px,#0031ff 430.5px,#003bff 432.5px,#002cff 434.5px,#00f 437px,#0000fe 440px,#002eff 443px,#003aff 445px,#002fff 447px,#0000fd 450px,#00f 454.5px,#001dff 456.5px,#0026ff 458.5px,#001eff 460px,#00f 462px,#0000ed 466px,#0000fa 475.5px,#00c 483px,#0000e5 488.5px,#0000db 500px,#0000ec 509px,#0000e8 519px,#00f 527.5px,#0041ff 535px,#006aff 544px,#00b0ff 585.5px,#00b4ff 596.5px,#00a6ff 613px,#00c9ff 629px,#00a8ff 640.5px,#00c0ff 651px,#0096ff 659.5px,#00aeff 667.5px,#007dff 675px,#009bff 682px)"></i><i style="background:linear-gradient(90deg,#002fff 0,#0000fe 3.5px,#0000d2 12px,#0000f7 20.5px,#00f 32.5px,#0028ff 35px,#003bff 37.5px,#0036ff 39.5px,#000fff 44px,#004eff 50.5px,#004aff 52.5px,#001bff 57.5px,#0047ff 62px,#004fff 64px,#04f 66px,#0010ff 70.5px,#0040ff 77px,#03f 79.5px,#00f 83px,#0000fe 87.5px,#001bff 92px,#00f 95.5px,#0000e8 101.5px,#0000f2 111.5px,#0000c3 123px,#0000d7 130px,#0000ca 139px,#00f 154.5px,#002dff 161.5px,#0050ff 171px,#009fff 209px,#009fff 231.5px,#00c4ff 247.5px,#00aeff 260px,#00c5ff 269px,#00a6ff 278px,#00baff 286px,#0096ff 293.5px,#00acff 301px,#008aff 308px,#00a7ff 314.5px,#008bff 321px,#00aeff 327px,#009cff 334.5px,#00c1ff 342.5px,#00aeff 349.5px,#00beff 359.5px,#00adff 366.5px,#0067ff 376.5px,#00f 384.5px,#0000d2 393px,#0000f7 402px,#0000fe 413.5px,#002cff 416.5px,#003bff 419px,#000fff 425.5px,#0048ff 430.5px,#004fff 432.5px,#001bff 438.5px,#004fff 445px,#0046ff 447px,#0010ff 452px,#0040ff 458.5px,#0030ff 461px,#0000fe 464.5px,#00f 469px,#001bff 473px,#0000fe 477px,#0000e8 483px,#0000f2 493px,#0000c3 504.5px,#0000d7 511.5px,#0000ca 520px,#0000fe 535.5px,#002fff 543px,#004eff 551.5px,#009dff 589px,#009eff 612.5px,#00c4ff 629px,#00aeff 640.5px,#00c5ff 651px,#00a6ff 659.5px,#00b9ff 667.5px,#0096ff 675px,#00acff 682px)"></i><i style="background:linear-gradient(90deg,#0000f7 0,#0000c4 8.5px,#0000fe 20px,#0010ff 23.5px,#0007ff 29.5px,#004cff 37px,#0032ff 44px,#005cff 51px,#003aff 57.5px,#005cff 64.5px,#03f 70.5px,#0051ff 77.5px,#001aff 85px,#0035ff 92.5px,#0027ff 95px,#00f 98.5px,#0000fc 112px,#0000d5 123.5px,#0000dc 132.5px,#00c 141.5px,#00f 169px,#0042ff 185px,#007cff 206.5px,#0091ff 231.5px,#00b9ff 247px,#00afff 259.5px,#00c4ff 269.5px,#00b0ff 278px,#00bfff 286.5px,#00a7ff 294px,#00b7ff 301px,#00a0ff 308px,#00b4ff 314.5px,#00a1ff 320.5px,#00b9ff 327.5px,#00abff 334.5px,#00c3ff 342px,#00b0ff 350px,#00b0ff 360px,#009eff 365px,#07f 370.5px,#0041ff 375.5px,#00f 379.5px,#0000c4 389.5px,#00f 401.5px,#0010ff 404.5px,#0006ff 410.5px,#004cff 418px,#0032ff 425.5px,#005cff 432.5px,#003aff 438.5px,#005cff 445.5px,#0032ff 452px,#0050ff 459px,#001aff 466.5px,#0035ff 473.5px,#0029ff 476px,#0000fe 480px,#0000fc 493px,#0000d4 505px,#0000dc 513.5px,#00c 523px,#00f 550px,#003aff 564px,#0072ff 583px,#0087ff 595px,#0092ff 613px,#00b9ff 627.5px,#00aeff 640.5px,#00c4ff 651px,#00b0ff 659.5px,#00c0ff 667.5px,#00a7ff 675.5px,#00b7ff 682px)"></i><i style="background:linear-gradient(90deg,#0000d6 0,#0000c9 5.5px,#00f 17px,#0027ff 21.5px,#002eff 29.5px,#0058ff 36.5px,#004bff 44.5px,#0064ff 51px,#004fff 57.5px,#0064ff 64.5px,#004bff 70.5px,#005cff 77.5px,#003bff 85px,#0048ff 92.5px,#0015ff 101.5px,#001aff 110px,#0000fe 115.5px,#0000cb 155px,#00f 187.5px,#0053ff 208px,#007dff 231.5px,#00a7ff 246px,#0af 259.5px,#00beff 269px,#00b4ff 278px,#00c1ff 286px,#00b2ff 294px,#00bdff 301.5px,#00aeff 308px,#0bf 314px,#00afff 321px,#00beff 327.5px,#00b4ff 334.5px,#00c1ff 342px,#00a3ff 357.5px,#0090ff 362.5px,#0070ff 367px,#04f 371px,#0000fd 375.5px,#0000c7 385px,#0003ff 398.5px,#0029ff 403px,#002fff 411px,#0059ff 418px,#004aff 425.5px,#0064ff 432.5px,#004fff 438.5px,#0064ff 445.5px,#004bff 452px,#005cff 459px,#003bff 466.5px,#0048ff 473.5px,#0016ff 482.5px,#001aff 491px,#00f 496.5px,#0000cb 536.5px,#00f 568.5px,#0053ff 589px,#007eff 613px,#00a8ff 628px,#0af 640.5px,#00beff 650.5px,#00b4ff 659.5px,#00c0ff 668px,#00b2ff 675px,#00bdff 682px)"></i><i style="background:linear-gradient(90deg,#0000c9 0,#00f 13.5px,#0029ff 18px,#0040ff 22.5px,#0060ff 37px,#005bff 44.5px,#0067ff 51px,#0053ff 93px,#0039ff 101.5px,#002eff 112px,#00f 122px,#0000f1 141.5px,#0000c5 167.5px,#00f 205px,#003aff 218.5px,#0095ff 249.5px,#00bcff 285.5px,#00beff 327.5px,#00b7ff 343px,#008eff 357px,#005bff 364.5px,#0000fe 371px,#0000c7 380px,#0002ff 395px,#002bff 399.5px,#0040ff 404px,#0060ff 418px,#005bff 425.5px,#0067ff 432.5px,#0054ff 474px,#003aff 482.5px,#002eff 493px,#00f 503px,#0000f1 523px,#0000c5 548.5px,#00f 586px,#0038ff 599px,#0092ff 629px,#00b3ff 651px,#00bdff 682px)"></i><i style="background:linear-gradient(90deg,#0000e4 0,#00f 8.5px,#0038ff 16.5px,#005aff 27.5px,#06f 57.5px,#0053ff 100.5px,#0032ff 119px,#00f 136.5px,#0000c6 188px,#00f 221px,#004dff 237px,#0091ff 260px,#00afff 280.5px,#00baff 309px,#00b6ff 334.5px,#009cff 348.5px,#0064ff 358.5px,#003aff 362.5px,#0000fe 366.5px,#0000c5 375.5px,#0000ed 383.5px,#0002ff 390px,#0037ff 397.5px,#0056ff 407px,#06f 438.5px,#0053ff 482px,#0031ff 500.5px,#00f 517.5px,#0000c6 569.5px,#00f 602px,#004aff 617.5px,#008cff 639px,#00adff 659.5px,#00b9ff 682px)"></i><i style="background:linear-gradient(90deg,#0000f6 0,#00f 3.5px,#0041ff 13px,#06f 28.5px,#005fff 64px,#0069ff 84.5px,#0062ff 101.5px,#0047ff 122.5px,#00f 149.5px,#0000c7 205.5px,#00f 233px,#0079ff 260.5px,#00a1ff 278.5px,#00b8ff 308px,#00aeff 334px,#008aff 347.5px,#005aff 355px,#00f 361.5px,#0000c7 371.5px,#0001ff 385px,#003eff 393.5px,#0067ff 410px,#005fff 445px,#0069ff 466px,#0047ff 504px,#00f 531px,#0000c7 587px,#0000fe 614px,#0078ff 641.5px,#00a1ff 660px,#00b0ff 682px)"></i><i style="background:linear-gradient(90deg,#000aff 0,#004eff 10px,#006cff 28.5px,#005aff 37.5px,#06f 44.5px,#0054ff 51px,#0063ff 57px,#0054ff 64px,#06f 70.5px,#0059ff 77.5px,#006bff 84.5px,#005eff 92.5px,#006bff 101px,#0057ff 111.5px,#005aff 124px,#0032ff 138.5px,#001cff 157px,#00f 169px,#0000ca 217.5px,#00f 248.5px,#004dff 258.5px,#06f 269px,#008bff 277.5px,#00afff 308px,#00a6ff 314.5px,#00aeff 321.5px,#009bff 336px,#005fff 350px,#003cff 353.5px,#0000fd 357.5px,#0000c9 366.5px,#00f 380.5px,#002fff 385.5px,#004dff 391px,#006dff 411px,#005bff 418.5px,#06f 426px,#0054ff 432.5px,#0063ff 438.5px,#0054ff 445px,#06f 451.5px,#0059ff 458.5px,#006bff 465.5px,#005eff 474px,#006bff 483px,#0057ff 492.5px,#0059ff 505.5px,#0031ff 520px,#001dff 538px,#00f 550.5px,#0000ca 598.5px,#0000fe 629.5px,#004fff 640px,#0067ff 650.5px,#008bff 658.5px,#0091ff 667.5px,#00a6ff 675px,#00a2ff 682px)"></i><i style="background:linear-gradient(90deg,#0030ff 0,#0056ff 6.5px,#0063ff 12px,#005aff 21px,#006cff 29.5px,#004eff 37.5px,#005fff 44.5px,#0043ff 51px,#005aff 57.5px,#0043ff 64px,#005fff 70.5px,#004cff 77.5px,#0068ff 84.5px,#0057ff 92.5px,#006fff 101.5px,#0059ff 111.5px,#0069ff 123.5px,#0042ff 139px,#0039ff 161px,#00f 186.5px,#0000ec 210.5px,#0000c1 230px,#0000df 246.5px,#0000fe 256px,#0024ff 261px,#0036ff 269.5px,#0070ff 278px,#0071ff 285.5px,#0093ff 293.5px,#008cff 301px,#00a1ff 308px,#0093ff 314.5px,#00a0ff 321px,#0089ff 327.5px,#0089ff 335px,#0057ff 342px,#0039ff 349px,#0000fe 353.5px,#0000ca 362px,#00f 376px,#0046ff 384.5px,#0062ff 392.5px,#005aff 402px,#006cff 411px,#004eff 418.5px,#005fff 425.5px,#0043ff 432.5px,#005aff 439px,#0043ff 445px,#005eff 451.5px,#004cff 458.5px,#0068ff 465.5px,#0057ff 474px,#006fff 482.5px,#0059ff 492.5px,#0069ff 505px,#0042ff 520.5px,#0039ff 542px,#00f 568px,#0000ec 592px,#0000c1 611px,#0000e0 628px,#0000fe 637px,#0023ff 642px,#0035ff 650.5px,#0071ff 659.5px,#0073ff 667.5px,#0094ff 675px,#008cff 682px)"></i><i style="background:linear-gradient(90deg,#004bff 0,#006cff 9.5px,#05f 21px,#0068ff 29px,#003cff 37.5px,#0052ff 44.5px,#0029ff 51px,#004aff 57.5px,#002aff 64px,#0051ff 70.5px,#0038ff 77.5px,#0060ff 84.5px,#004bff 92.5px,#006eff 101px,#0057ff 111.5px,#0071ff 123.5px,#004dff 139px,#05f 156px,#004cff 167.5px,#00f 205px,#0000ef 219.5px,#0000c8 233.5px,#0000d1 241px,#0000ca 248.5px,#0000f2 259px,#00f 271.5px,#0035ff 275.5px,#004aff 278.5px,#0046ff 285.5px,#0079ff 293.5px,#006dff 301px,#008cff 308px,#07f 314px,#008bff 321px,#0068ff 327.5px,#006dff 334.5px,#001aff 342.5px,#00f 348px,#0000d0 358px,#00f 371.5px,#004eff 382px,#006cff 391px,#05f 402px,#0067ff 411px,#003bff 419px,#0052ff 425.5px,#002aff 432px,#004aff 439px,#002aff 445px,#0051ff 451.5px,#0038ff 458.5px,#0060ff 466px,#004bff 473.5px,#006eff 482px,#0057ff 492.5px,#0071ff 504px,#004dff 520px,#05f 537px,#004cff 548.5px,#00f 586.5px,#0000ef 601px,#0000c8 614.5px,#0000d1 622px,#0000ca 629.5px,#0000f3 640.5px,#0000fe 652.5px,#03f 656.5px,#0049ff 659.5px,#0047ff 667px,#007aff 675px,#006dff 682px)"></i><i style="background:linear-gradient(90deg,#005eff 0,#0073ff 9px,#004bff 21px,#005cff 29.5px,#0021ff 37.5px,#003dff 43px,#003cff 45px,#0006ff 51px,#03f 57px,#002fff 59px,#0006ff 64px,#003dff 70.5px,#001cff 77.5px,#0052ff 84.5px,#0038ff 92.5px,#0067ff 101px,#004fff 111px,#0074ff 123.5px,#0052ff 138.5px,#0065ff 157.5px,#005aff 173.5px,#002eff 204px,#00f 217px,#0000e3 232.5px,#0000e4 244.5px,#0000cf 257px,#0000df 263.5px,#0000db 269px,#0000fe 276.5px,#0013ff 280px,#0004ff 285.5px,#0051ff 293px,#05f 295.5px,#0041ff 301px,#006eff 308px,#004fff 314.5px,#006bff 321.5px,#0038ff 328px,#0045ff 334px,#002fff 336.5px,#00f 339px,#0000ea 348px,#0000ce 353.5px,#0001ff 366.5px,#0051ff 378.5px,#0073ff 390px,#004bff 402.5px,#005cff 411px,#0021ff 418.5px,#003dff 426px,#0006ff 432px,#0034ff 438.5px,#0006ff 445px,#003dff 451.5px,#001cff 458.5px,#0052ff 466px,#0038ff 473.5px,#0067ff 482px,#004fff 492.5px,#0074ff 504.5px,#0052ff 520px,#0065ff 538.5px,#005aff 554.5px,#002eff 585px,#00f 598.5px,#0000e3 614px,#0000e5 625.5px,#0000cf 638px,#0000df 644.5px,#0000dc 650.5px,#00f 658px,#0013ff 661.5px,#0004ff 666.5px,#0052ff 674.5px,#0040ff 682px)"></i><i style="background:linear-gradient(90deg,#006aff 0,#0073ff 10.5px,#003aff 21.5px,#004bff 29.5px,#003cff 32px,#0000fe 37px,#00f 39px,#02f 44px,#0000fe 48px,#0000fe 54.5px,#0014ff 57.5px,#0000fe 60.5px,#0000fe 67px,#0021ff 71px,#0000fe 75.5px,#00f 79px,#002aff 82px,#003dff 84.5px,#001dff 92.5px,#005bff 101px,#0041ff 111px,#006aff 119.5px,#0072ff 124px,#0052ff 138px,#0070ff 162px,#0050ff 200px,#0035ff 213.5px,#00f 224px,#0000f3 248.5px,#0000e3 253.5px,#0000bf 259.5px,#0000d4 264.5px,#00c 270px,#0000ef 279px,#0000e9 286px,#00f 291px,#0018ff 293px,#001fff 295px,#00f 299.5px,#00f 301.5px,#0035ff 305.5px,#0043ff 308px,#003cff 310px,#0015ff 314px,#0040ff 321px,#03f 323px,#0000fe 326.5px,#0001ff 334.5px,#0000d1 342px,#0000d6 346.5px,#0000bf 350.5px,#0000ec 356.5px,#00f 361.5px,#0028ff 366px,#0048ff 372px,#0076ff 388.5px,#006cff 394px,#003aff 402.5px,#004bff 411px,#0039ff 413.5px,#00f 418px,#0001ff 420.5px,#02f 425px,#00f 429px,#0000f6 432.5px,#0001ff 436px,#0014ff 438.5px,#00f 441.5px,#0000fe 448px,#0021ff 452px,#00f 456.5px,#0000fe 460px,#002dff 463.5px,#003dff 466px,#001dff 473.5px,#005bff 482px,#0041ff 492.5px,#006bff 501px,#0072ff 505px,#0052ff 519.5px,#0070ff 542.5px,#0056ff 576px,#003bff 593px,#00f 605px,#0000f3 614.5px,#0000f6 626.5px,#0000e8 633.5px,#0000bf 640.5px,#0000d4 645.5px,#00c 651.5px,#0000ef 660.5px,#0000ea 667.5px,#0000fe 672px,#001fff 676px,#0000fe 682px)"></i><i style="background:linear-gradient(90deg,#0071ff 0,#006fff 10.5px,#02f 21.5px,#03f 29.5px,#0024ff 31.5px,#00f 34px,#0000f3 37.5px,#0000fd 45px,#0000e6 51px,#0000fa 57px,#0000e6 64px,#0000fd 70px,#0000f1 77px,#00f 81.5px,#0021ff 85.5px,#00f 90.5px,#0000fe 93.5px,#0039ff 98.5px,#004aff 101.5px,#002cff 111px,#006aff 123px,#004dff 138.5px,#0070ff 154.5px,#0076ff 164.5px,#0058ff 209.5px,#003eff 218.5px,#00f 230px,#000aff 244.5px,#00f 248.5px,#0000d8 259.5px,#0000e7 267.5px,#0000ca 277.5px,#0000d9 282px,#00c 286.5px,#0000f3 294px,#0000e6 301px,#00f 307.5px,#0000ef 314.5px,#0000fe 321.5px,#0000e1 327.5px,#0000ec 333px,#0000d1 340.5px,#0000db 345px,#0000d0 350px,#00f 358px,#002eff 362px,#004bff 367px,#0076ff 387px,#0067ff 393.5px,#02f 402.5px,#0032ff 411px,#0000fd 415.5px,#0000f3 419px,#0000fd 426px,#0000e6 432px,#0000fa 439px,#0000e6 445px,#0000fd 451px,#0000f1 458.5px,#0000fe 462.5px,#0020ff 466.5px,#00f 471.5px,#00f 475px,#0037ff 479.5px,#004aff 483px,#002cff 492px,#006aff 504px,#004dff 520px,#006fff 535.5px,#0076ff 545.5px,#0059ff 590.5px,#003dff 600px,#00f 611px,#000aff 625.5px,#00f 629.5px,#0000d9 640.5px,#0000e6 649px,#0000ca 659px,#0000d9 663px,#00c 667.5px,#0000f3 675.5px,#0000e5 682px)"></i><i style="background:linear-gradient(90deg,#0072ff 0,#0062ff 11px,#00f 21.5px,#0013ff 28px,#0000fe 31.5px,#0000e1 37.5px,#0000f1 45px,#0000ca 51px,#0000ec 56.5px,#0000e7 60px,#0000cb 64px,#0000f1 70px,#00d 77.5px,#0000fc 84px,#0000f2 92px,#0000fe 96.5px,#0024ff 99.5px,#0030ff 102px,#0010ff 111.5px,#004dff 119px,#005dff 123px,#0042ff 138.5px,#006fff 155px,#0079ff 167.5px,#0068ff 209.5px,#0054ff 218px,#0018ff 232.5px,#002eff 247px,#0000fe 253.5px,#0000ed 260px,#0000f4 270.5px,#0000c4 278.5px,#00d 283.5px,#0000d1 293.5px,#0000da 297.5px,#0000ca 301px,#0000e3 305px,#0000e9 308.5px,#0000ce 314.5px,#0000e7 320px,#0000ca 327.5px,#0000d7 331px,#0000c7 335px,#0000eb 342px,#0000e8 349.5px,#0000fd 355px,#003cff 360px,#0057ff 364.5px,#0073ff 384px,#005eff 393px,#00f 402.5px,#0013ff 409.5px,#00f 412.5px,#0000e1 419px,#0000f2 426px,#0000ca 432px,#0000ec 438px,#0000e6 441.5px,#0000cb 445px,#0000f1 451px,#00d 458.5px,#0000fc 465px,#0000f2 473.5px,#0000fe 477.5px,#0027ff 481px,#0031ff 483.5px,#000fff 492.5px,#004bff 500px,#005eff 504.5px,#0042ff 519.5px,#006fff 536.5px,#0079ff 549px,#0068ff 590.5px,#0053ff 599.5px,#0018ff 613.5px,#002fff 628px,#001eff 631.5px,#00f 634.5px,#0000ed 641px,#0000f3 652px,#0000c4 659.5px,#00d 665px,#0000d1 674.5px,#0000da 678.5px,#0000ca 682px)"></i><i style="background:linear-gradient(90deg,#006eff 0,#05f 10.5px,#0036ff 14px,#0000fe 18px,#0000f5 31px,#0000c5 37.5px,#0000e0 42.5px,#0000d9 47px,#0000c3 51px,#0000d5 54.5px,#0000d6 59px,#0000c3 64px,#0000d9 68px,#0000df 72px,#0000c2 77.5px,#0000e2 81px,#0000f0 84.5px,#0000e0 92.5px,#00f 100px,#000cff 102.5px,#00f 106px,#00f 114px,#0035ff 119px,#004aff 123.5px,#0031ff 138px,#006bff 156.5px,#07f 173.5px,#0071ff 210.5px,#0031ff 232.5px,#004aff 247px,#0035ff 251.5px,#00f 256.5px,#00f 265px,#000cff 268px,#0000fe 271px,#0000e0 278.5px,#0000f0 286.5px,#0000e2 290px,#0000c1 294px,#0000de 299px,#0000c6 308px,#0000d7 311.5px,#0000d7 317.5px,#0000c4 321px,#0000db 325px,#0000e2 329.5px,#0000c8 334.5px,#0000f6 340.5px,#00f 353px,#003eff 357.5px,#005cff 361.5px,#0070ff 375px,#006bff 385px,#005cff 390.5px,#0039ff 395px,#00f 399px,#0000f6 412px,#0000c5 418.5px,#0000e0 423.5px,#0000d9 428px,#0000c3 432px,#0000d6 437px,#0000d5 441.5px,#0000c3 445.5px,#0000df 453px,#0000c2 458.5px,#0000f0 465.5px,#0000e0 473.5px,#00f 481px,#000cff 484px,#00f 487px,#0000fe 495px,#0037ff 500.5px,#004aff 504.5px,#0031ff 519.5px,#006bff 537.5px,#07f 554.5px,#0071ff 591.5px,#0031ff 614px,#004bff 628px,#0037ff 632.5px,#0000fe 638px,#00f 646px,#000bff 649px,#00f 652px,#0000e0 659.5px,#0000ef 668px,#0000e0 671.5px,#0000c1 675px,#0000da 678.5px,#0000dc 682px)"></i><i style="background:linear-gradient(90deg,#0065ff 0,#0045ff 9.5px,#00f 15.5px,#0000e6 21.5px,#0000e9 29.5px,#0000c5 37px,#0000d2 40.5px,#0000c3 44.5px,#0000da 52px,#00b 57.5px,#0000d9 63px,#0000c2 70.5px,#0000d2 74px,#0000ca 78px,#0000de 87px,#0000c4 92.5px,#0000f4 100px,#00e 111px,#0000fe 117px,#002eff 123.5px,#0018ff 138px,#0054ff 152.5px,#0068ff 161px,#0079ff 203px,#006fff 215.5px,#0042ff 232px,#005dff 247.5px,#004dff 251.5px,#0010ff 259px,#0030ff 268.5px,#0026ff 271px,#0000fd 274.5px,#0000f2 278.5px,#0000fc 287px,#0000db 294px,#0000f1 301.5px,#0000ca 308px,#0000eb 313.5px,#0000e8 317px,#0000cb 321px,#0000f3 327px,#0000e4 334px,#0000fe 339.5px,#0019ff 343.5px,#0003ff 349.5px,#005eff 359px,#0073ff 367.5px,#0056ff 387.5px,#0037ff 392.5px,#0000fe 397px,#0000e6 403px,#0000e8 411px,#0000c6 418px,#0000d2 422px,#0000c3 425.5px,#0000d7 430px,#0000d9 434px,#00b 438.5px,#0000d9 444px,#0000c2 451.5px,#0000d1 455px,#0000ca 459px,#0000de 468.5px,#0000c5 474px,#0000f3 481px,#0000ed 492px,#00f 498.5px,#001eff 501.5px,#002fff 505px,#0019ff 519.5px,#0053ff 533.5px,#0068ff 542.5px,#0078ff 586px,#006dff 597.5px,#0043ff 613px,#005dff 629px,#004bff 633px,#000eff 641px,#0030ff 649.5px,#0023ff 652.5px,#0000fe 655.5px,#0000f2 660px,#0000fb 668.5px,#0000dc 675px,#0000f1 682px)"></i><i style="background:linear-gradient(90deg,#0056ff 0,#0036ff 7.5px,#0000fe 13px,#00c 21.5px,#0000d8 26px,#0000cb 31px,#00d 39px,#0000b9 44.5px,#0000df 48px,#0000e8 51.5px,#0000dc 54.5px,#0000be 57.5px,#0000e0 61px,#0000e8 64px,#0000da 67.5px,#0000b9 70.5px,#0000df 76px,#0000d9 80px,#0000bf 84.5px,#0000d1 89px,#0000c6 93.5px,#0000e6 102.5px,#0000d8 111px,#00f 122px,#000aff 126px,#00f 140.5px,#003eff 152px,#0059ff 161.5px,#0076ff 208.5px,#004dff 232px,#006aff 248px,#002cff 260px,#004aff 269px,#003bff 272px,#00f 277px,#00f 280.5px,#001fff 285.5px,#00f 289.5px,#0000f0 294px,#0000fc 302px,#0000e6 308px,#0000fa 314px,#0000e7 321px,#0000fe 327px,#0000f5 334px,#00f 337.5px,#0028ff 340px,#0037ff 342px,#0026ff 350px,#0069ff 359px,#0076ff 365.5px,#0049ff 385px,#002cff 390px,#00f 394px,#00c 402.5px,#0000d8 407.5px,#00c 412.5px,#00d 420px,#0000d5 422.5px,#0000b8 425.5px,#00d 429px,#0000e8 432px,#0000de 435.5px,#0000be 438.5px,#0000e2 442.5px,#0000e6 446.5px,#0000b9 452px,#0000d7 455px,#0000df 457.5px,#0000bf 466px,#0000d1 470px,#0000c5 474.5px,#0000e7 484px,#0000d9 492.5px,#0000fe 503px,#000aff 507.5px,#00f 522px,#003dff 533px,#0059ff 542.5px,#0076ff 588.5px,#006eff 598px,#004dff 613px,#006aff 629px,#002dff 640.5px,#0048ff 651px,#03f 654px,#0001ff 658px,#0001ff 662px,#001fff 666.5px,#0000fe 671px,#0000f0 675.5px,#0000fd 682px)"></i><i style="background:linear-gradient(90deg,#0040ff 0,#00f 9px,#0000eb 14.5px,#0000bf 20px,#0000cf 25px,#0000b7 29.5px,#00d 34px,#0000e9 37.5px,#0000ce 44px,#0000f0 50px,#00e 53px,#0000d6 57.5px,#0000f0 64.5px,#0000cf 70.5px,#0000eb 77.5px,#0000df 81px,#00b 85px,#0000d4 88px,#0000dc 91px,#0000c7 100.5px,#0000d1 106.5px,#0000bf 111px,#0000f3 122px,#0000fe 146.5px,#0035ff 157px,#0050ff 170.5px,#0070ff 208.5px,#0052ff 232.5px,#0072ff 247px,#0041ff 259.5px,#005aff 270px,#001cff 278.5px,#003cff 286.5px,#0000fe 292.5px,#0001ff 296.5px,#001fff 300.5px,#00f 304.5px,#0000f6 308px,#0000fe 311.5px,#0014ff 314.5px,#00f 317.5px,#0000fe 324px,#0025ff 328px,#00f 334px,#004dff 341.5px,#003dff 350px,#006dff 358.5px,#0076ff 363.5px,#0048ff 379.5px,#0029ff 385.5px,#0000fe 390.5px,#0000ec 395.5px,#0000be 401.5px,#0000cf 406.5px,#0000b7 411px,#0000df 415.5px,#0000e9 419px,#0000ce 425.5px,#0000ef 431px,#0000ed 434.5px,#0000d6 438.5px,#0000f0 445.5px,#0000cf 452px,#0000eb 458.5px,#0000e0 462px,#00b 466px,#0000d5 469.5px,#0000dc 472.5px,#0000c7 481.5px,#0000d2 487.5px,#0000be 492.5px,#0000e2 498px,#0000f2 503px,#00f 528px,#0035ff 538px,#0050ff 551.5px,#0070ff 590px,#0052ff 613.5px,#0072ff 628px,#006bff 632px,#0041ff 640.5px,#005bff 651px,#001dff 659.5px,#003cff 667.5px,#002cff 670px,#0000fe 673.5px,#00f 677.5px,#0020ff 682px)"></i><i style="background:linear-gradient(90deg,#0020ff 0,#0000fe 4.5px,#0000cb 17px,#0000d9 24px,#0000c6 29.5px,#0000f1 37px,#0000e1 44px,#0000f6 50px,#0000e5 57.5px,#0000f7 64px,#0000e1 71px,#0000f2 77.5px,#0000d3 85px,#0000e6 90px,#0000e5 94px,#0000b8 101.5px,#0000d0 106.5px,#0000c8 113.5px,#0000e3 125px,#0000e3 137.5px,#00f 153.5px,#002dff 166.5px,#0059ff 197px,#0065ff 213px,#0052ff 232px,#0074ff 247px,#004fff 259.5px,#0067ff 270px,#0038ff 278.5px,#0051ff 286.5px,#001aff 294px,#003cff 301px,#0005ff 308px,#03f 314px,#0030ff 316px,#0007ff 321px,#0040ff 327.5px,#0024ff 334px,#005dff 341.5px,#004cff 350px,#0073ff 361.5px,#05f 372.5px,#00f 385.5px,#0000ca 398.5px,#0000d9 405px,#0000c7 411px,#0000e6 415px,#0000f1 418.5px,#0000e1 425.5px,#0000f6 431.5px,#0000e5 438.5px,#0000f7 445px,#0000e1 452px,#0000f2 459.5px,#0000d3 466px,#0000e7 474.5px,#0000b8 482.5px,#0000d0 488px,#0000c8 494.5px,#0000e4 506.5px,#0000e2 518.5px,#0001ff 535px,#002eff 548px,#005aff 578.5px,#0065ff 594.5px,#0052ff 613px,#0074ff 628px,#004fff 640.5px,#0067ff 651px,#0038ff 659.5px,#0051ff 667.5px,#001aff 675px,#003cff 682px)"></i><i style="background:linear-gradient(90deg,#0000fc 0,#0000c8 13.5px,#0000e2 21px,#00d 29.5px,#0000f7 37px,#0000ec 44px,#0000fb 50.5px,#0000ef 57.5px,#0000fb 64px,#0000ed 70.5px,#0000f7 78.5px,#0000e4 85px,#0000f0 93px,#0000cd 101.5px,#0000de 110px,#0000bf 122px,#0000ce 129.5px,#0000c8 138px,#00e 150.5px,#00f 165.5px,#004cff 203px,#05f 214.5px,#004dff 231.5px,#0071ff 247.5px,#0057ff 259.5px,#006dff 270px,#004aff 278.5px,#005fff 286.5px,#0037ff 294px,#0050ff 301px,#0029ff 308px,#004aff 314px,#002bff 321px,#0053ff 327.5px,#003eff 334px,#0068ff 341.5px,#0056ff 350px,#006cff 361.5px,#004dff 370px,#0000fe 380.5px,#0000c8 394.5px,#0000e3 402.5px,#00d 410.5px,#0000f6 418px,#0000ed 425.5px,#0000fb 431.5px,#0000ef 438.5px,#0000fb 445px,#0000ed 452px,#0000f7 459.5px,#0000e4 466px,#0000ef 474.5px,#0000cd 482.5px,#0000de 491.5px,#0000bf 503.5px,#0000ce 510.5px,#0000c8 519.5px,#00e 531.5px,#00f 546.5px,#004bff 584px,#05f 595.5px,#004dff 613px,#0071ff 628px,#0057ff 640.5px,#006eff 651px,#004bff 659.5px,#0060ff 667.5px,#0037ff 675px,#0051ff 682px)"></i><i style="background:linear-gradient(90deg,#0000ef 0,#0000bc 10px,#0000ed 21.5px,#0000fe 64px,#0000ef 85px,#0000f5 93px,#0000e1 102px,#0000e8 111px,#0000bd 123px,#0000c8 131.5px,#00b 139.5px,#0000ea 159px,#00f 184px,#0039ff 209.5px,#0042ff 231.5px,#0069ff 247px,#0059ff 259.5px,#006fff 269px,#0057ff 278px,#0068ff 286.5px,#004cff 294px,#005eff 301px,#0042ff 308px,#005aff 314.5px,#04f 320.5px,#0060ff 327.5px,#0050ff 334.5px,#006dff 342px,#005aff 350.5px,#0062ff 359.5px,#0047ff 367px,#0000fe 376px,#0000e9 383px,#0000bc 391px,#0000ec 402.5px,#0000fe 445px,#0000ef 466px,#0000f6 474px,#0000e1 483px,#0000e8 492.5px,#0000bc 504.5px,#0000c8 512.5px,#00b 521px,#0000eb 540.5px,#00f 565px,#0034ff 587.5px,#0042ff 612.5px,#0069ff 628.5px,#0059ff 640.5px,#006fff 651px,#0057ff 659.5px,#0068ff 667.5px,#004cff 675px,#005eff 682px)"></i><i style="background:linear-gradient(90deg,#0000d6 0,#0000b9 6.5px,#0000e5 15.5px,#0000f3 21.5px,#0000fe 77.5px,#0000ef 111.5px,#0000d5 124px,#0000d5 134.5px,#0000c0 150px,#0000e9 174.5px,#00f 201.5px,#001cff 213.5px,#0032ff 232px,#005cff 248px,#0057ff 259px,#006cff 269.5px,#005eff 278.5px,#006bff 286px,#0059ff 293.5px,#06f 301px,#0054ff 307.5px,#0063ff 314.5px,#0054ff 321px,#06f 327px,#005bff 334.5px,#006dff 342px,#004cff 361px,#0031ff 366px,#00f 371.5px,#0000b9 387.5px,#0000ef 400px,#0000fe 418.5px,#0000fa 474px,#0000ef 493.5px,#0000d5 505px,#0000d5 516px,#0000c0 530.5px,#0000e9 556px,#00f 582.5px,#001dff 595px,#0031ff 613px,#005bff 629px,#0057ff 640.5px,#006bff 650.5px,#005eff 659.5px,#006bff 668px,#0059ff 675px,#06f 682px)"></i><i style="background:linear-gradient(90deg,#0000bc 0,#0000f1 17px,#00f 36.5px,#0009ff 51px,#00f 55px,#0009ff 64px,#00f 68px,#0000f5 111.5px,#0000de 139px,#0000ba 161px,#0000ec 195.5px,#00f 221px,#0047ff 248px,#0062ff 269px,#0069ff 286.5px,#005fff 308px,#06f 342.5px,#003dff 358.5px,#00f 367px,#0000ed 373px,#00b 382px,#0000e7 394px,#0000f7 402.5px,#00f 428.5px,#0009ff 432px,#0001ff 460px,#0000e1 517.5px,#0000ba 542.5px,#0000ec 576.5px,#00f 602px,#0048ff 630px,#0062ff 651px,#0068ff 682px)"></i><i style="background:linear-gradient(90deg,#0000c9 0,#0000ea 9px,#0000fb 22px,#0009ff 51px,#0000fe 90.5px,#0000e9 138px,#00b 180.5px,#0000eb 211.5px,#00f 234.5px,#002cff 249px,#0053ff 269.5px,#06f 314.5px,#0058ff 344px,#0035ff 354.5px,#0000fe 362.5px,#0000eb 369px,#0000ba 377.5px,#00e 392.5px,#00f 414.5px,#0009ff 432.5px,#0000f8 494px,#0000e5 524px,#00b 559px,#00f 615.5px,#002cff 630px,#0051ff 649px,#06f 682px)"></i><i style="background:linear-gradient(90deg,#0000df 0,#0000f4 10px,#00f 25.5px,#000aff 44px,#00f 101.5px,#0000e6 156px,#00b 196.5px,#00e 227.5px,#00f 247.5px,#002bff 259px,#004fff 277px,#0064ff 308px,#0059ff 336.5px,#0036ff 349.5px,#0000fe 357.5px,#0000ea 364.5px,#00b 373.5px,#0000ed 386.5px,#00f 407px,#000aff 425.5px,#0000f8 504.5px,#0000e2 542px,#00b 576.5px,#0000c2 586.5px,#0000ef 609.5px,#00f 628.5px,#002bff 640.5px,#004fff 658px,#005fff 682px)"></i><i style="background:linear-gradient(90deg,#0000ec 0,#0001ff 23.5px,#000eff 30px,#00f 37.5px,#000aff 44px,#00f 49px,#00f 66px,#000aff 71px,#00f 78px,#000eff 85px,#0001ff 92.5px,#000bff 101px,#0000fd 122.5px,#0000e7 172px,#0000bc 212.5px,#0000e6 234.5px,#00f 256.5px,#0040ff 278.5px,#005eff 308px,#004fff 335px,#02f 348px,#00f 353px,#0000ec 359.5px,#0000bc 369px,#0000f1 384px,#00f 404.5px,#000eff 411px,#00f 418.5px,#000aff 425px,#00f 430px,#00f 447.5px,#000aff 452px,#00f 459px,#000eff 466px,#0001ff 473.5px,#000bff 482px,#00f 488px,#0000fd 505.5px,#0000e7 553.5px,#0000bc 593px,#00f 637.5px,#0040ff 659.5px,#0056ff 675px,#0053ff 682px)"></i><i style="background:linear-gradient(90deg,#0000f4 0,#00f 22.5px,#0010ff 29.5px,#00f 34.5px,#00f 80.5px,#000dff 85px,#00f 94.5px,#01f 101.5px,#00f 108.5px,#00f 127px,#0000e6 191.5px,#0000ba 226px,#0000f6 257px,#00f 271px,#0028ff 278.5px,#002aff 286px,#0046ff 293.5px,#0041ff 301px,#0052ff 308px,#0046ff 314.5px,#0051ff 321px,#003eff 327.5px,#003fff 334px,#00f 347.5px,#00e 355px,#0000bd 363.5px,#0000eb 377px,#0000fe 391.5px,#00f 404px,#0010ff 410.5px,#00f 416px,#00f 461.5px,#000dff 466.5px,#00f 475.5px,#01f 482.5px,#00f 490px,#0001ff 508px,#0000e6 572.5px,#0000ba 607px,#0000f6 638.5px,#00f 652px,#0029ff 660px,#002bff 667.5px,#0046ff 675px,#0040ff 682px)"></i><i style="background:linear-gradient(90deg,#0000fa 0,#000cff 11.5px,#00f 24px,#000dff 29px,#00f 33px,#00f 96px,#0012ff 101.5px,#00f 108.5px,#01f 122.5px,#00f 131px,#0000fa 167px,#0000e4 211px,#0000b5 232.5px,#0000c2 247.5px,#0000ec 260px,#0004ff 285px,#002fff 293.5px,#0026ff 301px,#0040ff 308px,#002eff 314.5px,#003eff 321px,#02f 327.5px,#0026ff 334px,#0000fe 339.5px,#0000ef 350.5px,#0000bf 359.5px,#0000e8 371px,#00f 386.5px,#000cff 392.5px,#00f 405px,#000dff 410px,#0000fe 414.5px,#00f 477px,#0012ff 483px,#00f 489.5px,#01f 504px,#00f 512px,#0000e9 587px,#0000d9 599.5px,#0000b5 613.5px,#0000c1 628.5px,#0000e9 639.5px,#00f 658px,#0007ff 667.5px,#002fff 675px,#0026ff 682px)"></i><i style="background:linear-gradient(90deg,#0000fe 0,#0014ff 9.5px,#00f 17px,#0000f1 51px,#00f 97.5px,#000eff 102px,#00f 107px,#00f 115px,#0016ff 123px,#00f 133px,#0000fe 170px,#0000ef 211px,#0000c9 233px,#0000c2 251px,#0000da 269px,#0000f6 278px,#00f 291px,#0010ff 295px,#00f 300.5px,#0026ff 308px,#000dff 314px,#0023ff 321px,#00f 326.5px,#0001ff 334px,#0000e2 348.5px,#0000c2 355.5px,#0000e9 366.5px,#0001ff 383px,#0014ff 391px,#00f 398.5px,#0000f1 432.5px,#00f 478.5px,#000eff 483px,#00f 488px,#00f 496px,#0016ff 504.5px,#00f 514px,#00f 544px,#0000f0 591.5px,#0000ca 614px,#0000c2 632px,#0000da 650px,#0000f6 659px,#00f 672.5px,#0010ff 676px,#00f 682px)"></i><i style="background:linear-gradient(90deg,#0009ff 0,#0018ff 8.5px,#00f 16px,#0000f0 37.5px,#0000f6 44.5px,#0000e9 51px,#0000f4 57px,#0000e9 64px,#0000f6 70.5px,#00e 77.5px,#0000fb 84.5px,#00f 116px,#0016ff 123.5px,#00f 133px,#000fff 160.5px,#0000fa 202px,#0000dc 233px,#00d 247px,#0000b6 259px,#0000c5 264px,#0000c0 269.5px,#0000e7 278.5px,#0000e4 285.5px,#0000f8 293px,#00f 307.5px,#0000f5 334.5px,#0000d1 342px,#0000cd 347px,#0000b8 351.5px,#0000ea 362px,#00f 379px,#0018ff 389.5px,#00f 397.5px,#0000f0 419px,#0000f6 426px,#0000e9 432.5px,#0000f4 438.5px,#0000e9 445px,#0000f6 451.5px,#00e 458.5px,#0000fb 466px,#00f 497.5px,#0016ff 505px,#00f 514.5px,#000fff 541.5px,#0000fa 583px,#0000dc 614.5px,#00d 628px,#0000b6 640px,#0000c5 645.5px,#0000c0 651px,#0000e7 660px,#0000e5 667px,#0000f9 675px,#0000f4 682px)"></i><i style="background:linear-gradient(90deg,#01f 0,#0018ff 8.5px,#00f 15px,#0000f9 30px,#0000e8 37.5px,#0000f0 44.5px,#0000de 51px,#0000ed 57px,#0000df 64px,#0000f0 70.5px,#0000e6 77.5px,#0000f6 84.5px,#0000f0 92.5px,#0000fd 101px,#00f 117.5px,#0012ff 124px,#00f 132px,#00f 146px,#0017ff 163px,#0000fe 205px,#0000e7 232.5px,#0000e9 248px,#0000bd 260px,#00c 265.5px,#0000c4 274px,#0000d2 280.5px,#0000c7 286px,#0000ed 294px,#0000e6 300.5px,#0000f6 307.5px,#0000ec 314.5px,#0000f5 321px,#0000e2 328px,#0000e7 334.5px,#0000bd 341px,#0000c4 345.5px,#0000b7 350px,#0000ec 359px,#0001ff 375.5px,#001aff 388px,#00f 396px,#0000f9 411.5px,#0000e8 418.5px,#0000f0 426px,#0000de 432.5px,#0000ed 438px,#0000df 445px,#0000f0 451.5px,#0000e6 458.5px,#0000f6 466px,#0000f0 473.5px,#0000fd 482px,#00f 499px,#0012ff 505.5px,#00f 513.5px,#00f 527px,#0017ff 544px,#0000fe 586px,#0000e7 614px,#0000e8 629.5px,#0000bd 641px,#00c 646.5px,#0000c4 655.5px,#0000d2 662px,#0000c7 667px,#0000ec 674px,#0000e6 682px)"></i><b style="left:63px;top:0px;height:48px;background:linear-gradient(#0014ff 0.5px,#0059ff 3.5px,#006bff 6.5px,#004cff 9.5px,#0000fc 12.5px,#0000e4 14.5px,#0000e2 15.5px,#0000f2 16.5px,#0012ff 17.5px,#004bff 18.5px,#0090ff 20.5px,#00b2ff 22.5px,#00bdff 24.5px,#00b2ff 26.5px,#008fff 28.5px,#004aff 30.5px,#01f 31.5px,#0000f2 32.5px,#0000e6 33.5px,#0000f1 36.5px,#0053ff 37.5px,#00dbff 38.5px,#2affd5 39.5px,#89ff76 41.5px,#f2ff0d 44.5px,#fff600 45.5px,#ffd900 47.5px)"></b><b style="left:63px;top:134px;height:70px;background:linear-gradient(#ffd100 0.5px,#f9ff06 3.5px,#7eff81 6.5px,#01fffe 8.5px,#2effd1 10.5px,#36ffc9 12.5px,#12ffed 15.5px,#00f1ff 16.5px,#00a8ff 17.5px,#003aff 18.5px,#0000f7 19.5px,#00f 20.5px,#0052ff 21.5px,#0086ff 22.5px,#00a4ff 23.5px,#00bcff 25.5px,#00b4ff 27.5px,#0094ff 29.5px,#0079ff 30.5px,#001eff 32.5px,#0000f6 33.5px,#0000e6 34.5px,#0007ff 37.5px,#002aff 38.5px,#0056ff 40.5px,#006dff 43.5px,#005cff 46.5px,#0000fb 50.5px,#0000df 53.5px,#00f 58.5px,#0018ff 61.5px,#00f 65.5px,#0000ea 69.5px)"></b><b style="left:64px;top:0px;height:48px;background:linear-gradient(#0062ff 0.5px,#0087ff 3.5px,#0093ff 6.5px,#0081ff 9.5px,#003bff 14.5px,#003aff 15.5px,#00aeff 20.5px,#00c8ff 22.5px,#00d1ff 24.5px,#00c9ff 26.5px,#00afff 28.5px,#0050ff 32.5px,#0042ff 33.5px,#0045ff 35.5px,#0052ff 36.5px,#0090ff 37.5px,#00ecff 38.5px,#2cffd3 39.5px,#89ff76 41.5px,#f1ff0e 44.5px,#fff700 45.5px,#ffd900 47.5px)"></b><b style="left:64px;top:135px;height:69px;background:linear-gradient(#ffdf00 0.5px,#fcff03 2.5px,#85ff7a 5.5px,#18ffe7 7.5px,#3fc 9.5px,#38ffc7 11.5px,#28ffd7 13.5px,#00feff 15.5px,#0080ff 17.5px,#0052ff 18.5px,#0061ff 19.5px,#00a8ff 21.5px,#00beff 22.5px,#00d1ff 24.5px,#00caff 26.5px,#00b2ff 28.5px,#003dff 33.5px,#0041ff 34.5px,#0087ff 39.5px,#0095ff 42.5px,#0080ff 46.5px,#0035ff 51.5px,#0061ff 60.5px,#0056ff 64.5px,#0034ff 68.5px)"></b><b style="left:65px;top:0px;height:48px;background:linear-gradient(#0093ff 0.5px,#00b3ff 6.5px,#08f 15.5px,#09f 17.5px,#00d1ff 21.5px,#00e3ff 24.5px,#00d6ff 27.5px,#0097ff 32.5px,#0091ff 35.5px,#0098ff 36.5px,#00baff 37.5px,#00fcff 38.5px,#8f7 41.5px,#f0ff0f 44.5px,#fff700 45.5px,#ffd900 47.5px)"></b><b style="left:65px;top:136px;height:68px;background:linear-gradient(#fd0 0.5px,#fffa00 2.5px,#7dff82 7.5px,#07fff8 14.5px,#00deff 15.5px,#00b6ff 16.5px,#00a2ff 17.5px,#00a5ff 18.5px,#00deff 22.5px,#00e2ff 24.5px,#00cdff 27.5px,#008bff 32.5px,#00b3ff 42.5px,#0083ff 50.5px,#0091ff 60.5px,#007eff 67.5px)"></b><b style="left:66px;top:0px;height:48px;background:linear-gradient(#0047ff 0.5px,#0081ff 4.5px,#0087ff 7.5px,#006eff 10.5px,#0019ff 15.5px,#0024ff 16.5px,#0087ff 19.5px,#00b1ff 21.5px,#00c7ff 23.5px,#00cbff 25.5px,#00bdff 27.5px,#009eff 29.5px,#0031ff 33.5px,#0027ff 35.5px,#0041ff 36.5px,#0089ff 37.5px,#00e7ff 38.5px,#2affd5 39.5px,#87ff78 41.5px,#efff10 44.5px,#fff700 45.5px,#ffda00 47.5px)"></b><b style="left:66px;top:137px;height:67px;background:linear-gradient(#ffd700 0.5px,#fcff03 3.5px,#00fbff 13.5px,#09f 15.5px,#007fff 16.5px,#0081ff 17.5px,#00c5ff 21.5px,#00c7ff 24.5px,#00a1ff 27.5px,#0030ff 31.5px,#02f 32.5px,#0029ff 33.5px,#006fff 37.5px,#0089ff 41.5px,#006cff 45.5px,#0012ff 50.5px,#004eff 59.5px,#0045ff 62.5px,#001dff 66.5px)"></b><b style="left:67px;top:0px;height:48px;background:linear-gradient(#0000fd 0.5px,#004dff 3.5px,#0069ff 6.5px,#0057ff 9.5px,#0000f9 13.5px,#0000e3 15.5px,#0000f8 17.5px,#005bff 19.5px,#0098ff 21.5px,#00b5ff 23.5px,#00bcff 25.5px,#00b0ff 27.5px,#008bff 29.5px,#04f 31.5px,#000aff 32.5px,#0000e8 34.5px,#0000f8 36.5px,#0061ff 37.5px,#00daff 38.5px,#26ffd9 39.5px,#85ff7a 41.5px,#ef1 44.5px,#fff800 45.5px,#ffda00 47.5px)"></b><b style="left:67px;top:138px;height:66px;background:linear-gradient(#ffd500 0.5px,#ff0 3.5px,#17ffe8 11.5px,#00f1ff 12.5px,#0090ff 14.5px,#0076ff 15.5px,#0075ff 16.5px,#00a8ff 19.5px,#0bf 21.5px,#00b2ff 24.5px,#0074ff 27.5px,#0017ff 29.5px,#0000f5 30.5px,#0000ea 32.5px,#0000fd 34.5px,#004cff 37.5px,#0069ff 40.5px,#0057ff 43.5px,#0000f9 47.5px,#00d 50.5px,#00f 56.5px,#0010ff 59.5px,#0000fd 62.5px,#0000ef 65.5px)"></b><b style="left:132px;top:0px;height:53px;background:linear-gradient(#0000e2 0.5px,#0000d0 2.5px,#0000fa 5.5px,#0046ff 8.5px,#0062ff 11.5px,#004fff 14.5px,#0025ff 16.5px,#0002ff 17.5px,#0000da 20.5px,#0000df 21.5px,#0000f5 22.5px,#0020ff 23.5px,#0054ff 24.5px,#0092ff 26.5px,#00afff 28.5px,#00b6ff 30.5px,#00a8ff 32.5px,#0083ff 34.5px,#0063ff 35.5px,#0000fd 37.5px,#0000dc 39.5px,#0000d9 40.5px,#0000ea 41.5px,#003cff 42.5px,#00c5ff 43.5px,#1cffe3 44.5px,#7dff82 46.5px,#e7ff18 49.5px,#fffc00 50.5px,#ffde00 52.5px)"></b><b style="left:132px;top:142px;height:62px;background:linear-gradient(#ffd600 0.5px,#f9ff06 3.5px,#96ff69 6.5px,#0bfff4 9.5px,#00afff 10.5px,#0045ff 11.5px,#0000fb 12.5px,#0000e4 14.5px,#000dff 16.5px,#004bff 17.5px,#008dff 19.5px,#00adff 21.5px,#00b6ff 23.5px,#0af 25.5px,#08f 27.5px,#0041ff 29.5px,#0004ff 30.5px,#0000df 32.5px,#0000fb 35.5px,#0046ff 38.5px,#0062ff 41.5px,#004fff 44.5px,#0025ff 46.5px,#0002ff 47.5px,#0000d5 51.5px,#0000fa 56.5px,#0005ff 61.5px)"></b><b style="left:133px;top:0px;height:54px;background:linear-gradient(#0004ff 0.5px,#00f 3.5px,#005bff 7.5px,#007dff 11.5px,#0065ff 15.5px,#0001ff 20.5px,#0009ff 21.5px,#0075ff 24.5px,#00a3ff 26.5px,#0bf 28.5px,#00c1ff 30.5px,#00b6ff 32.5px,#0098ff 34.5px,#0064ff 36.5px,#001dff 38.5px,#0009ff 39.5px,#0007ff 40.5px,#001fff 41.5px,#006aff 42.5px,#00cdff 43.5px,#1bffe4 44.5px,#a1ff5e 47.5px,#fffd00 50.5px,#ffd200 53.5px)"></b><b style="left:133px;top:142px;height:62px;background:linear-gradient(#ffd700 0.5px,#f6ff09 3.5px,#92ff6d 6.5px,#08fff7 9.5px,#00b5ff 10.5px,#0068ff 11.5px,#0038ff 12.5px,#01f 14.5px,#0023ff 15.5px,#0070ff 17.5px,#00a0ff 19.5px,#00baff 21.5px,#00c2ff 23.5px,#00b8ff 25.5px,#009cff 27.5px,#0069ff 29.5px,#0006ff 32.5px,#000cff 33.5px,#006aff 38.5px,#007dff 41.5px,#0064ff 45.5px,#0000fe 50.5px,#00f 52.5px,#0038ff 57.5px,#003eff 61.5px)"></b><b style="left:134px;top:0px;height:54px;background:linear-gradient(#007fff 0.5px,#007fff 3.5px,#00acff 11.5px,#0087ff 21.5px,#00cfff 27.5px,#00dbff 30.5px,#00cbff 33.5px,#0090ff 38.5px,#008dff 40.5px,#0091ff 41.5px,#00abff 42.5px,#00e4ff 43.5px,#1effe1 44.5px,#9eff61 47.5px,#ff0 50.5px,#ffd300 53.5px)"></b><b style="left:134px;top:142px;height:62px;background:linear-gradient(#ffd900 0.5px,#fff600 2.5px,#f3ff0c 3.5px,#8eff71 6.5px,#0bfff4 9.5px,#00cfff 10.5px,#00a5ff 11.5px,#0095ff 12.5px,#008eff 14.5px,#00cfff 20.5px,#00dbff 23.5px,#0cf 26.5px,#0086ff 32.5px,#00adff 41.5px,#007eff 50.5px,#008cff 61.5px)"></b><b style="left:135px;top:0px;height:54px;background:linear-gradient(#0046ff 0.5px,#04f 3.5px,#0081ff 8.5px,#0091ff 11.5px,#08f 14.5px,#0051ff 19.5px,#004cff 21.5px,#00b0ff 26.5px,#00caff 30.5px,#00b7ff 33.5px,#005aff 38.5px,#0051ff 40.5px,#0058ff 41.5px,#0080ff 42.5px,#0cf 43.5px,#15ffea 44.5px,#9bff64 47.5px,#fcff03 50.5px,#ffd500 53.5px)"></b><b style="left:135px;top:142px;height:62px;background:linear-gradient(#ffda00 0.5px,#fff700 2.5px,#f0ff0f 3.5px,#8bff74 6.5px,#00feff 9.5px,#00adff 10.5px,#0073ff 11.5px,#005eff 12.5px,#05f 14.5px,#0059ff 15.5px,#00aeff 19.5px,#00caff 23.5px,#00abff 27.5px,#004bff 32.5px,#0083ff 38.5px,#0091ff 41.5px,#007eff 45.5px,#0043ff 50.5px,#0062ff 58.5px,#0063ff 61.5px)"></b><b style="left:136px;top:0px;height:54px;background:linear-gradient(#0000eb 0.5px,#0000df 2.5px,#0000fb 5.5px,#0043ff 8.5px,#005eff 11.5px,#004fff 14.5px,#0000fa 18.5px,#0000e5 20.5px,#0000f6 22.5px,#001bff 23.5px,#0071ff 25.5px,#008aff 26.5px,#00a7ff 28.5px,#00afff 30.5px,#00a3ff 32.5px,#0080ff 34.5px,#003cff 36.5px,#0005ff 37.5px,#0000e6 39.5px,#0000ea 41.5px,#0017ff 42.5px,#00a2ff 43.5px,#0afff5 44.5px,#97ff68 47.5px,#f9ff06 50.5px,#ffd600 53.5px)"></b><b style="left:136px;top:142px;height:62px;background:linear-gradient(#ffdb00 0.5px,#fff800 2.5px,#efff10 3.5px,#8f7 6.5px,#2cffd3 8.5px,#00e6ff 9.5px,#0000fc 11.5px,#0000eb 14.5px,#0004ff 16.5px,#04f 17.5px,#0086ff 19.5px,#00a5ff 21.5px,#00afff 23.5px,#00a5ff 25.5px,#0084ff 27.5px,#04f 29.5px,#0010ff 30.5px,#0000f4 31.5px,#0000e6 32.5px,#0000fd 35.5px,#04f 38.5px,#005eff 41.5px,#004eff 44.5px,#000bff 47.5px,#0000fa 48.5px,#0000e1 51.5px,#0000fc 56.5px,#000bff 61.5px)"></b><b style="left:202px;top:0px;height:57px;background:linear-gradient(#002fff 0.5px,#0001ff 3.5px,#0000f0 6.5px,#0000f8 8.5px,#0009ff 9.5px,#0063ff 12.5px,#007eff 14.5px,#0087ff 16.5px,#007eff 18.5px,#0061ff 20.5px,#0006ff 23.5px,#0000f2 25.5px,#0000fa 26.5px,#0060ff 28.5px,#00a4ff 30.5px,#00c7ff 32.5px,#00d4ff 35.5px,#00c3ff 37.5px,#009cff 39.5px,#0053ff 41.5px,#001aff 42.5px,#0000f7 43.5px,#0000f6 45.5px,#002fff 46.5px,#00a5ff 47.5px,#0bfff4 48.5px,#73ff8c 50.5px,#e4ff1b 53.5px,#fffd00 54.5px,#fd0 56.5px)"></b><b style="left:202px;top:148px;height:56px;background:linear-gradient(#ffdf00 0.5px,#fffe00 2.5px,#e1ff1e 3.5px,#6fff90 6.5px,#05fffa 8.5px,#0098ff 9.5px,#0021ff 10.5px,#0000f5 11.5px,#0000f9 13.5px,#02f 14.5px,#0081ff 16.5px,#009fff 17.5px,#00c5ff 19.5px,#00d4ff 21.5px,#00c6ff 24.5px,#00a1ff 26.5px,#005bff 28.5px,#0024ff 29.5px,#0000f9 30.5px,#0000f2 31.5px,#000cff 33.5px,#0063ff 36.5px,#007fff 38.5px,#0087ff 40.5px,#007dff 42.5px,#0061ff 44.5px,#002bff 46.5px,#0004ff 47.5px,#0000f0 49.5px,#0004ff 53.5px,#0025ff 55.5px)"></b><b style="left:203px;top:0px;height:57px;background:linear-gradient(#0082ff 0.5px,#0069ff 7.5px,#00a5ff 13.5px,#00b2ff 16.5px,#00a7ff 19.5px,#0070ff 25.5px,#07f 26.5px,#00d4ff 31.5px,#00eaff 35.5px,#00d3ff 38.5px,#0089ff 42.5px,#07f 44.5px,#007aff 45.5px,#0092ff 46.5px,#00cbff 47.5px,#1fe 48.5px,#9cff63 51.5px,#fffe00 54.5px,#ffde00 56.5px)"></b><b style="left:203px;top:148px;height:56px;background:linear-gradient(#ffde00 0.5px,#fffd00 2.5px,#e3ff1c 3.5px,#73ff8c 6.5px,#12ffed 8.5px,#00cbff 9.5px,#0091ff 10.5px,#007aff 11.5px,#07f 12.5px,#0089ff 14.5px,#00d3ff 18.5px,#00eaff 22.5px,#00d5ff 25.5px,#07f 30.5px,#0071ff 31.5px,#00a7ff 37.5px,#00b2ff 40.5px,#00a5ff 43.5px,#0069ff 49.5px,#007fff 55.5px)"></b><b style="left:204px;top:0px;height:57px;background:linear-gradient(#0083ff 0.5px,#0068ff 7.5px,#00a5ff 13.5px,#00b2ff 16.5px,#00a7ff 19.5px,#0070ff 25.5px,#0076ff 26.5px,#00d4ff 31.5px,#00eaff 35.5px,#00d4ff 38.5px,#008bff 42.5px,#07f 44.5px,#007aff 45.5px,#008fff 46.5px,#00c6ff 47.5px,#0efff1 48.5px,#9aff65 51.5px,#ff0 54.5px,#ffdf00 56.5px)"></b><b style="left:204px;top:148px;height:56px;background:linear-gradient(#fd0 0.5px,#fffc00 2.5px,#e5ff1a 3.5px,#75ff8a 6.5px,#15ffea 8.5px,#00d1ff 9.5px,#0095ff 10.5px,#007bff 11.5px,#07f 12.5px,#08f 14.5px,#00deff 19.5px,#00eaff 22.5px,#00d5ff 25.5px,#0078ff 30.5px,#0071ff 31.5px,#00a6ff 37.5px,#00b2ff 40.5px,#00a6ff 43.5px,#0069ff 49.5px,#007eff 55.5px)"></b><b style="left:205px;top:0px;height:58px;background:linear-gradient(#0030ff 0.5px,#0005ff 3.5px,#0000ef 7.5px,#00f 9.5px,#0047ff 11.5px,#0070ff 13.5px,#0084ff 15.5px,#0085ff 17.5px,#0065ff 20.5px,#000fff 23.5px,#0000f9 24.5px,#0000f8 26.5px,#001fff 27.5px,#0081ff 29.5px,#009fff 30.5px,#00c5ff 32.5px,#00d4ff 35.5px,#00c6ff 37.5px,#00a1ff 39.5px,#005cff 41.5px,#0000fa 43.5px,#0000f4 45.5px,#001bff 46.5px,#01fffe 48.5px,#97ff68 51.5px,#feff01 54.5px,#ffd100 57.5px)"></b><b style="left:205px;top:148px;height:56px;background:linear-gradient(#ffdc00 0.5px,#fffb00 2.5px,#e7ff18 3.5px,#7f8 6.5px,#10ffef 8.5px,#00aeff 9.5px,#0038ff 10.5px,#0000f7 11.5px,#0000f6 13.5px,#0015ff 14.5px,#007aff 16.5px,#00b2ff 18.5px,#00cdff 20.5px,#00d4ff 22.5px,#00c8ff 24.5px,#00a5ff 26.5px,#0064ff 28.5px,#0000fc 30.5px,#0000f3 31.5px,#0003ff 33.5px,#002aff 34.5px,#0060ff 36.5px,#007dff 38.5px,#0087ff 40.5px,#007fff 42.5px,#0064ff 44.5px,#000cff 47.5px,#0000f9 48.5px,#0000f0 50.5px,#00f 53.5px,#02f 55.5px)"></b><b style="left:206px;top:0px;height:58px;background:linear-gradient(#000fff 0.5px,#0001ff 1.5px,#0000ed 4.5px,#0000c5 7.5px,#00f 10.5px,#0029ff 11.5px,#005eff 13.5px,#0079ff 16.5px,#0064ff 19.5px,#0036ff 21.5px,#0010ff 22.5px,#0000f7 23.5px,#0000cf 25.5px,#0000fa 27.5px,#006eff 29.5px,#0092ff 30.5px,#00bcff 32.5px,#00ceff 35.5px,#00bfff 37.5px,#0097ff 39.5px,#0045ff 41.5px,#0000fe 42.5px,#0000c7 44.5px,#0000ce 45.5px,#0000f4 46.5px,#00f5ff 48.5px,#94ff6b 51.5px,#fcff03 54.5px,#ffd200 57.5px)"></b><b style="left:206px;top:148px;height:56px;background:linear-gradient(#ffdb00 0.5px,#fffa00 2.5px,#e8ff17 3.5px,#79ff86 6.5px,#1fe 8.5px,#00a9ff 9.5px,#000dff 10.5px,#0000da 11.5px,#0000c2 12.5px,#0000f5 14.5px,#06f 16.5px,#00a7ff 18.5px,#00c6ff 20.5px,#00ceff 22.5px,#00c1ff 24.5px,#009cff 26.5px,#0050ff 28.5px,#000bff 29.5px,#0000ea 30.5px,#0000cf 31.5px,#00f 34.5px,#002aff 35.5px,#005eff 37.5px,#0079ff 40.5px,#0064ff 43.5px,#0036ff 45.5px,#0010ff 46.5px,#0000f7 47.5px,#0000cd 49.5px,#0000c9 50.5px,#0000ea 52.5px,#0000fe 55.5px)"></b><b style="left:271px;top:0px;height:62px;background:linear-gradient(#0013ff 0.5px,#0021ff 3.5px,#0000fd 7.5px,#0000e2 11.5px,#0000f9 14.5px,#005eff 18.5px,#0074ff 21.5px,#005fff 24.5px,#0031ff 26.5px,#000dff 27.5px,#0000f8 28.5px,#0000e8 30.5px,#0000f2 31.5px,#000aff 32.5px,#0046ff 33.5px,#0090ff 35.5px,#00b6ff 37.5px,#00c5ff 40.5px,#00b5ff 42.5px,#04f 48.5px,#0051ff 49.5px,#0083ff 50.5px,#00cdff 51.5px,#10ffef 52.5px,#8eff71 55.5px,#f1ff0e 58.5px,#fff700 59.5px,#ffda00 61.5px)"></b><b style="left:271px;top:153px;height:51px;background:linear-gradient(#fd0 0.5px,#fffc00 2.5px,#e7ff18 3.5px,#7bff84 6.5px,#1affe5 8.5px,#00c6ff 9.5px,#0053ff 10.5px,#0000f9 11.5px,#0000ec 12.5px,#0000fe 14.5px,#003cff 15.5px,#008bff 17.5px,#00b4ff 19.5px,#00c5ff 22.5px,#00b8ff 24.5px,#0094ff 26.5px,#0050ff 28.5px,#0017ff 29.5px,#0000f4 30.5px,#0000e8 31.5px,#0000fa 33.5px,#005eff 37.5px,#0074ff 40.5px,#005fff 43.5px,#0000fb 47.5px,#0000e2 50.5px)"></b><b style="left:272px;top:0px;height:63px;background:linear-gradient(#0064ff 0.5px,#006aff 4.5px,#0042ff 12.5px,#008cff 18.5px,#009bff 22.5px,#08f 25.5px,#004dff 30.5px,#0053ff 31.5px,#00adff 35.5px,#00d2ff 38.5px,#00ceff 42.5px,#0084ff 48.5px,#008dff 49.5px,#00acff 50.5px,#0df 51.5px,#10ffef 52.5px,#a7ff58 56.5px,#fffd00 59.5px,#ffd100 62.5px)"></b><b style="left:272px;top:153px;height:51px;background:linear-gradient(#ffdc00 0.5px,#fffa00 2.5px,#eaff15 3.5px,#7fff80 6.5px,#24ffdb 8.5px,#00e5ff 9.5px,#0098ff 10.5px,#06f 11.5px,#05f 12.5px,#0067ff 14.5px,#0bf 18.5px,#00d8ff 22.5px,#00b7ff 26.5px,#004dff 31.5px,#004fff 32.5px,#008dff 37.5px,#009cff 40.5px,#0091ff 43.5px,#004fff 48.5px,#0042ff 50.5px)"></b><b style="left:273px;top:0px;height:63px;background:linear-gradient(#0089ff 0.5px,#008fff 4.5px,#007fff 13.5px,#0af 19.5px,#00b2ff 22.5px,#08f 31.5px,#00d4ff 37.5px,#00e3ff 40.5px,#00d5ff 43.5px,#00a2ff 48.5px,#00abff 49.5px,#00e6ff 51.5px,#0cfff3 52.5px,#f4ff0b 59.5px,#ffd900 62.5px)"></b><b style="left:273px;top:153px;height:51px;background:linear-gradient(#ffdb00 0.5px,#fff900 2.5px,#ecff13 3.5px,#84ff7b 6.5px,#00f8ff 9.5px,#00b9ff 10.5px,#0097ff 11.5px,#008eff 12.5px,#0093ff 14.5px,#00d3ff 19.5px,#00e3ff 22.5px,#00d6ff 25.5px,#08f 31.5px,#00b2ff 41.5px,#007dff 50.5px)"></b><b style="left:274px;top:0px;height:64px;background:linear-gradient(#03f 0.5px,#0041ff 5.5px,#0008ff 11.5px,#0000fe 13.5px,#000bff 14.5px,#0065ff 18.5px,#0082ff 22.5px,#0065ff 26.5px,#000eff 31.5px,#001cff 32.5px,#06f 34.5px,#009dff 36.5px,#00bcff 38.5px,#00c7ff 40.5px,#00b8ff 43.5px,#0092ff 45.5px,#0057ff 47.5px,#004bff 48.5px,#0067ff 49.5px,#00f5ff 52.5px,#19ffe6 53.5px,#fdff02 60.5px,#ffd500 63.5px)"></b><b style="left:274px;top:153px;height:51px;background:linear-gradient(#ffda00 0.5px,#fff800 2.5px,#efff10 3.5px,#86ff79 6.5px,#29ffd6 8.5px,#00e6ff 9.5px,#0082ff 10.5px,#0030ff 11.5px,#0010ff 12.5px,#001cff 14.5px,#0080ff 17.5px,#00acff 19.5px,#00c3ff 21.5px,#00c7ff 23.5px,#00baff 25.5px,#09f 27.5px,#0060ff 29.5px,#0014ff 31.5px,#0004ff 32.5px,#06f 37.5px,#0082ff 41.5px,#0062ff 45.5px,#0008ff 49.5px,#0000fd 50.5px)"></b><b style="left:275px;top:0px;height:65px;background:linear-gradient(#0000fa 0.5px,#000aff 4.5px,#0000fd 7.5px,#0000d8 13.5px,#0000fb 16.5px,#0049ff 19.5px,#0064ff 22.5px,#0051ff 25.5px,#000cff 28.5px,#0000f9 29.5px,#0000e5 31.5px,#0000f9 33.5px,#005aff 35.5px,#0095ff 37.5px,#00b1ff 39.5px,#00b7ff 41.5px,#0095ff 44.5px,#0049ff 46.5px,#000bff 47.5px,#0000fc 48.5px,#002cff 49.5px,#007dff 50.5px,#0df 52.5px,#04fffb 53.5px,#fffe00 61.5px,#ffd200 64.5px)"></b><b style="left:275px;top:153px;height:51px;background:linear-gradient(#ffd900 0.5px,#fff700 2.5px,#f1ff0e 3.5px,#89ff76 6.5px,#2bffd4 8.5px,#00e0ff 9.5px,#005cff 10.5px,#0000f1 11.5px,#0000e1 12.5px,#0000e6 14.5px,#0000f5 15.5px,#001cff 16.5px,#0051ff 17.5px,#0076ff 18.5px,#0091ff 19.5px,#00afff 21.5px,#00b8ff 23.5px,#00abff 25.5px,#0086ff 27.5px,#06f 28.5px,#0000fd 30.5px,#0000da 32.5px,#0000fc 35.5px,#0049ff 38.5px,#0064ff 41.5px,#004fff 44.5px,#0000fe 47.5px,#0000d4 50.5px)"></b><b style="left:340px;top:0px;height:63px;background:linear-gradient(#00f 0.5px,#0016ff 3.5px,#0000fc 7.5px,#0000d6 12.5px,#0000f9 15.5px,#005dff 19.5px,#006fff 22.5px,#0051ff 25.5px,#0000fb 28.5px,#0000e2 30.5px,#0000e1 31.5px,#0000f2 32.5px,#0014ff 33.5px,#004fff 34.5px,#0078ff 35.5px,#00b8ff 38.5px,#00c3ff 40.5px,#00b9ff 42.5px,#0062ff 48.5px,#06f 49.5px,#0082ff 50.5px,#00bdff 51.5px,#04fffb 52.5px,#a5ff5a 56.5px,#fffd00 59.5px,#ffd200 62.5px)"></b><b style="left:340px;top:153px;height:51px;background:linear-gradient(#ffd300 0.5px,#fcff03 3.5px,#97ff68 6.5px,#0afff5 9.5px,#00a6ff 10.5px,#002bff 11.5px,#0000f0 12.5px,#0000e4 13.5px,#0005ff 15.5px,#0046ff 16.5px,#0090ff 18.5px,#00b5ff 20.5px,#00c2ff 22.5px,#00b0ff 25.5px,#0087ff 27.5px,#06f 28.5px,#0000fc 30.5px,#0000df 32.5px,#0000f9 34.5px,#005dff 38.5px,#006fff 41.5px,#0054ff 44.5px,#0000fe 47.5px,#0000d5 50.5px)"></b><b style="left:341px;top:0px;height:62px;background:linear-gradient(#0046ff 0.5px,#004eff 5.5px,#0009ff 12.5px,#01f 13.5px,#0078ff 18.5px,#008eff 22.5px,#07f 25.5px,#0016ff 30.5px,#001aff 31.5px,#009bff 35.5px,#00cbff 38.5px,#00d0ff 41.5px,#0087ff 48.5px,#0089ff 49.5px,#009eff 50.5px,#00d1ff 51.5px,#0dfff2 52.5px,#8f7 55.5px,#ecff13 58.5px,#fffa00 59.5px,#ffdc00 61.5px)"></b><b style="left:341px;top:153px;height:51px;background:linear-gradient(#ffd500 0.5px,#f8ff07 3.5px,#92ff6d 6.5px,#08fff7 9.5px,#00b4ff 10.5px,#0065ff 11.5px,#0032ff 12.5px,#02f 13.5px,#0035ff 14.5px,#007cff 16.5px,#00aeff 18.5px,#00c9ff 20.5px,#00d3ff 22.5px,#00c0ff 25.5px,#009eff 27.5px,#001fff 31.5px,#0018ff 32.5px,#0079ff 37.5px,#008eff 41.5px,#006bff 45.5px,#000aff 50.5px)"></b><b style="left:342px;top:0px;height:62px;background:linear-gradient(#008dff 0.5px,#0092ff 4.5px,#0080ff 12.5px,#00b0ff 19.5px,#00b6ff 22.5px,#08f 30.5px,#0093ff 32.5px,#00d1ff 36.5px,#00e3ff 38.5px,#00e6ff 41.5px,#00b3ff 48.5px,#00c4ff 50.5px,#00ebff 51.5px,#16ffe9 52.5px,#8bff74 55.5px,#ef1 58.5px,#fff800 59.5px,#ffdb00 61.5px)"></b><b style="left:342px;top:153px;height:51px;background:linear-gradient(#ffd700 0.5px,#f4ff0b 3.5px,#8eff71 6.5px,#0afff5 9.5px,#00cdff 10.5px,#00a4ff 11.5px,#0091ff 13.5px,#00dbff 19.5px,#00e8ff 22.5px,#00d9ff 25.5px,#008aff 31.5px,#00b6ff 40.5px,#00aeff 43.5px,#0080ff 50.5px)"></b><b style="left:343px;top:0px;height:62px;background:linear-gradient(#005aff 0.5px,#005fff 5.5px,#0032ff 12.5px,#0086ff 18.5px,#0097ff 22.5px,#0082ff 25.5px,#003cff 30.5px,#0043ff 31.5px,#00a9ff 35.5px,#00d1ff 38.5px,#00d7ff 40.5px,#00cdff 42.5px,#0085ff 48.5px,#008bff 49.5px,#00a6ff 50.5px,#00dbff 51.5px,#1fe 52.5px,#89ff76 55.5px,#ecff13 58.5px,#fff900 59.5px,#ffdc00 61.5px)"></b><b style="left:343px;top:153px;height:51px;background:linear-gradient(#ffd900 0.5px,#fff700 2.5px,#f0ff0f 3.5px,#87ff78 6.5px,#00f4ff 9.5px,#00a1ff 10.5px,#0063ff 11.5px,#0048ff 12.5px,#0047ff 13.5px,#0059ff 14.5px,#00b8ff 18.5px,#00d0ff 20.5px,#00d7ff 22.5px,#00b5ff 26.5px,#003eff 31.5px,#003fff 32.5px,#0087ff 37.5px,#0098ff 40.5px,#0082ff 44.5px,#0035ff 49.5px,#0031ff 50.5px)"></b><b style="left:344px;top:0px;height:62px;background:linear-gradient(#0009ff 0.5px,#001aff 3.5px,#0000fc 7.5px,#0000e1 12.5px,#00f 15.5px,#05f 18.5px,#0070ff 21.5px,#005eff 24.5px,#0000fb 28.5px,#0000e9 30.5px,#0000fc 32.5px,#0063ff 34.5px,#0085ff 35.5px,#0bf 38.5px,#00c2ff 40.5px,#00b5ff 42.5px,#0095ff 44.5px,#0048ff 47.5px,#003dff 48.5px,#004eff 49.5px,#0081ff 50.5px,#00c5ff 51.5px,#08fff7 52.5px,#83ff7c 55.5px,#e7ff18 58.5px,#fffc00 59.5px,#ffde00 61.5px)"></b><b style="left:344px;top:153px;height:51px;background:linear-gradient(#ffdb00 0.5px,#fffa00 2.5px,#ebff14 3.5px,#80ff7f 6.5px,#21ffde 8.5px,#00d1ff 9.5px,#005aff 10.5px,#0000f8 11.5px,#0000ea 12.5px,#0000f9 14.5px,#005bff 16.5px,#009aff 18.5px,#00b9ff 20.5px,#00c2ff 22.5px,#00b7ff 24.5px,#0097ff 26.5px,#007bff 27.5px,#0020ff 29.5px,#0000f6 30.5px,#0000e7 31.5px,#0000e9 32.5px,#00f 34.5px,#0024ff 35.5px,#05f 37.5px,#0070ff 40.5px,#005eff 43.5px,#0038ff 45.5px,#0000fc 47.5px,#0000de 50.5px)"></b><b style="left:409px;top:0px;height:50px;background:linear-gradient(#0000db 0.5px,#0000fb 2.5px,#005dff 6.5px,#006dff 9.5px,#004eff 12.5px,#0000fa 15.5px,#0000db 17.5px,#0000dc 18.5px,#0000f4 19.5px,#02f 20.5px,#0059ff 21.5px,#09f 23.5px,#00b9ff 25.5px,#00c3ff 27.5px,#00b8ff 29.5px,#0096ff 31.5px,#004fff 33.5px,#0012ff 34.5px,#0000f0 35.5px,#0000de 36.5px,#0000e6 37.5px,#00f 38.5px,#0086ff 39.5px,#00f6ff 40.5px,#8eff71 43.5px,#f5ff0a 46.5px,#ffd600 49.5px)"></b><b style="left:409px;top:141px;height:63px;background:linear-gradient(#fd0 0.5px,#fffa00 2.5px,#ebff14 3.5px,#87ff78 6.5px,#08fff7 9.5px,#00c0ff 10.5px,#007cff 11.5px,#005aff 12.5px,#0054ff 13.5px,#00b6ff 19.5px,#00c2ff 21.5px,#00baff 23.5px,#007fff 26.5px,#0059ff 27.5px,#0021ff 28.5px,#0000f4 29.5px,#0000d8 31.5px,#0008ff 34.5px,#002eff 35.5px,#005cff 37.5px,#006dff 40.5px,#004eff 43.5px,#0000fa 46.5px,#00c 49.5px,#0000fe 55.5px,#0012ff 58.5px,#0000fb 62.5px)"></b><b style="left:410px;top:0px;height:50px;background:linear-gradient(#0000f8 0.5px,#00f 1.5px,#0040ff 3.5px,#0067ff 5.5px,#007cff 7.5px,#0080ff 9.5px,#0074ff 11.5px,#05f 13.5px,#00f 16.5px,#0000fa 18.5px,#0019ff 19.5px,#004cff 20.5px,#0092ff 22.5px,#00b8ff 24.5px,#0cf 27.5px,#00c2ff 29.5px,#00a3ff 31.5px,#0069ff 33.5px,#000aff 35.5px,#00f 37.5px,#0047ff 38.5px,#00a9ff 39.5px,#07fff8 40.5px,#93ff6c 43.5px,#f9ff06 46.5px,#ffd400 49.5px)"></b><b style="left:410px;top:141px;height:63px;background:linear-gradient(#ffdc00 0.5px,#fffa00 2.5px,#ebff14 3.5px,#87ff78 6.5px,#0afff5 9.5px,#00c9ff 10.5px,#0090ff 11.5px,#0079ff 12.5px,#0076ff 13.5px,#00c1ff 19.5px,#0cf 21.5px,#00c3ff 23.5px,#008fff 26.5px,#0045ff 28.5px,#01f 29.5px,#0000f9 30.5px,#0000fc 32.5px,#0065ff 36.5px,#0080ff 39.5px,#007cff 41.5px,#06f 43.5px,#003dff 45.5px,#0000fe 47.5px,#0000f4 49.5px,#0000fd 52.5px,#002bff 55.5px,#0038ff 57.5px,#0037ff 59.5px,#001eff 62.5px)"></b><b style="left:411px;top:0px;height:50px;background:linear-gradient(#0075ff 0.5px,#00a2ff 5.5px,#00afff 8.5px,#00a8ff 11.5px,#007fff 16.5px,#007dff 18.5px,#0cf 23.5px,#00e4ff 27.5px,#00d3ff 30.5px,#0087ff 35.5px,#0082ff 36.5px,#0089ff 37.5px,#00a3ff 38.5px,#00daff 39.5px,#17ffe8 40.5px,#9f6 43.5px,#fdff02 46.5px,#ffd300 49.5px)"></b><b style="left:411px;top:141px;height:63px;background:linear-gradient(#ffde00 0.5px,#fffc00 2.5px,#e8ff17 3.5px,#84ff7b 6.5px,#1fe 9.5px,#00e3ff 10.5px,#00bfff 11.5px,#00b1ff 13.5px,#00deff 19.5px,#00e2ff 22.5px,#00c7ff 25.5px,#007aff 30.5px,#007dff 32.5px,#00a2ff 36.5px,#00afff 39.5px,#00a7ff 42.5px,#0073ff 48.5px,#08f 57.5px,#007dff 62.5px)"></b><b style="left:412px;top:0px;height:49px;background:linear-gradient(#0065ff 0.5px,#009aff 5.5px,#00a6ff 8.5px,#009cff 11.5px,#0067ff 17.5px,#006eff 18.5px,#00c8ff 23.5px,#00deff 26.5px,#00c9ff 30.5px,#0081ff 34.5px,#0070ff 36.5px,#007aff 37.5px,#009eff 38.5px,#00deff 39.5px,#1cffe3 40.5px,#7f8 42.5px,#e3ff1c 45.5px,#fffe00 46.5px,#ffdf00 48.5px)"></b><b style="left:412px;top:140px;height:64px;background:linear-gradient(#ffd400 0.5px,#fdff02 3.5px,#a0ff5f 6.5px,#0cfff3 10.5px,#0df 11.5px,#00b8ff 12.5px,#00a7ff 14.5px,#00d9ff 20.5px,#00dbff 23.5px,#00bcff 26.5px,#006eff 30.5px,#0067ff 31.5px,#009aff 37.5px,#00a6ff 40.5px,#009bff 43.5px,#005eff 49.5px,#007bff 58.5px,#006cff 63.5px)"></b><b style="left:413px;top:0px;height:49px;background:linear-gradient(#0000f8 0.5px,#0002ff 1.5px,#0040ff 3.5px,#0064ff 5.5px,#0076ff 8.5px,#005fff 11.5px,#0000fc 15.5px,#0000f2 17.5px,#0000fb 18.5px,#005aff 20.5px,#0098ff 22.5px,#00b8ff 24.5px,#00c4ff 26.5px,#00b1ff 29.5px,#0089ff 31.5px,#003dff 33.5px,#0005ff 34.5px,#0000f4 36.5px,#0000fd 37.5px,#005bff 38.5px,#00c9ff 39.5px,#1bffe4 40.5px,#7bff84 42.5px,#e7ff18 45.5px,#fffc00 46.5px,#fd0 48.5px)"></b><b style="left:413px;top:140px;height:64px;background:linear-gradient(#ffda00 0.5px,#fff700 2.5px,#f2ff0d 3.5px,#94ff6b 6.5px,#00fdff 10.5px,#008dff 12.5px,#0070ff 13.5px,#006aff 14.5px,#00bfff 20.5px,#00c3ff 22.5px,#00b4ff 24.5px,#008eff 26.5px,#0046ff 28.5px,#000fff 29.5px,#0000f7 30.5px,#00f 33.5px,#0053ff 36.5px,#006eff 38.5px,#0076ff 40.5px,#005fff 43.5px,#0000fb 47.5px,#0000ed 49.5px,#0000fc 53.5px,#0028ff 58.5px,#02f 60.5px,#0000fe 63.5px)"></b><b style="left:479px;top:0px;height:50px;background:linear-gradient(#0000eb 0.5px,#0000fe 2.5px,#0053ff 5.5px,#006dff 7.5px,#0074ff 9.5px,#005bff 12.5px,#000cff 15.5px,#0000f9 16.5px,#00e 18.5px,#0000fa 19.5px,#005aff 21.5px,#09f 23.5px,#00b9ff 25.5px,#00c4ff 27.5px,#0bf 29.5px,#009eff 31.5px,#0062ff 33.5px,#0000fd 35.5px,#0000f0 37.5px,#0000fb 38.5px,#005bff 39.5px,#00cdff 40.5px,#1effe1 41.5px,#7eff81 43.5px,#e9ff16 46.5px,#fffb00 47.5px,#ffdc00 49.5px)"></b><b style="left:479px;top:141px;height:63px;background:linear-gradient(#ffde00 0.5px,#fffc00 2.5px,#e7ff18 3.5px,#84ff7b 6.5px,#0afff5 9.5px,#00c8ff 10.5px,#0085ff 11.5px,#0053ff 12.5px,#0041ff 13.5px,#004cff 14.5px,#0097ff 17.5px,#00b7ff 19.5px,#00c4ff 21.5px,#00bdff 23.5px,#008aff 26.5px,#003cff 28.5px,#00f 29.5px,#0000f0 31.5px,#0000fe 33.5px,#0052ff 36.5px,#006dff 38.5px,#0074ff 40.5px,#005bff 43.5px,#002dff 45.5px,#000aff 46.5px,#0000f8 47.5px,#0000e9 49.5px,#00f 54.5px,#001aff 56.5px,#0023ff 58.5px,#0005ff 62.5px)"></b><b style="left:480px;top:0px;height:50px;background:linear-gradient(#0052ff 0.5px,#0096ff 6.5px,#00a2ff 9.5px,#0096ff 12.5px,#005bff 18.5px,#00b9ff 23.5px,#0df 27.5px,#00c4ff 31.5px,#0075ff 35.5px,#0063ff 37.5px,#0071ff 38.5px,#009bff 39.5px,#00e1ff 40.5px,#1fffe0 41.5px,#7bff84 43.5px,#e7ff18 46.5px,#fffc00 47.5px,#fd0 49.5px)"></b><b style="left:480px;top:141px;height:63px;background:linear-gradient(#ffd900 0.5px,#fff600 2.5px,#f2ff0d 3.5px,#90ff6f 6.5px,#18ffe7 9.5px,#00e6ff 10.5px,#00b2ff 11.5px,#0094ff 12.5px,#008dff 13.5px,#00d8ff 20.5px,#00d9ff 23.5px,#00b6ff 26.5px,#0061ff 30.5px,#005aff 31.5px,#0097ff 37.5px,#00a2ff 40.5px,#0095ff 43.5px,#0051ff 49.5px,#0073ff 57.5px,#0069ff 62.5px)"></b><b style="left:481px;top:0px;height:50px;background:linear-gradient(#0079ff 0.5px,#00b3ff 9.5px,#00abff 12.5px,#0081ff 18.5px,#0092ff 20.5px,#00d2ff 24.5px,#00e7ff 27.5px,#0df 30.5px,#0097ff 35.5px,#0089ff 37.5px,#0091ff 38.5px,#00adff 39.5px,#00e5ff 40.5px,#1effe1 41.5px,#78ff87 43.5px,#e4ff1b 46.5px,#fffd00 47.5px,#ffde00 49.5px)"></b><b style="left:481px;top:141px;height:63px;background:linear-gradient(#ffd600 0.5px,#f9ff06 3.5px,#97ff68 6.5px,#1fffe0 9.5px,#00f4ff 10.5px,#00c3ff 11.5px,#00a9ff 12.5px,#00a5ff 13.5px,#00e2ff 20.5px,#00e7ff 22.5px,#00d5ff 25.5px,#0080ff 31.5px,#00b3ff 40.5px,#00a9ff 43.5px,#0079ff 49.5px,#008dff 57.5px,#0086ff 62.5px)"></b><b style="left:482px;top:0px;height:51px;background:linear-gradient(#0000f8 0.5px,#0000fd 1.5px,#004eff 4.5px,#0071ff 6.5px,#0087ff 9.5px,#0081ff 11.5px,#006bff 13.5px,#0042ff 15.5px,#0007ff 17.5px,#00f 19.5px,#005eff 21.5px,#009cff 23.5px,#00bfff 25.5px,#00d0ff 28.5px,#00c4ff 30.5px,#00a3ff 32.5px,#0068ff 34.5px,#000eff 36.5px,#0000fe 37.5px,#0016ff 38.5px,#005fff 39.5px,#00bdff 40.5px,#1fe 41.5px,#9bff64 44.5px,#ff0 47.5px,#ffd100 50.5px)"></b><b style="left:482px;top:141px;height:63px;background:linear-gradient(#ffd400 0.5px,#fcff03 3.5px,#9aff65 6.5px,#1cffe3 9.5px,#00e0ff 10.5px,#0096ff 11.5px,#06f 12.5px,#005dff 13.5px,#00c8ff 20.5px,#00d0ff 22.5px,#00c5ff 24.5px,#008eff 27.5px,#006eff 28.5px,#0013ff 30.5px,#0000fb 31.5px,#000bff 33.5px,#0049ff 35.5px,#0071ff 37.5px,#0087ff 40.5px,#0081ff 42.5px,#006aff 44.5px,#0040ff 46.5px,#0002ff 48.5px,#0000fe 52.5px,#002dff 55.5px,#0042ff 58.5px,#0032ff 62.5px)"></b><b style="left:483px;top:0px;height:51px;background:linear-gradient(#00c 0.5px,#0000fd 3.5px,#0054ff 6.5px,#0071ff 9.5px,#005eff 12.5px,#0000f9 16.5px,#0000d8 18.5px,#0000fa 20.5px,#0065ff 22.5px,#08f 23.5px,#00b2ff 25.5px,#00c5ff 28.5px,#00b8ff 30.5px,#0093ff 32.5px,#0046ff 34.5px,#0002ff 35.5px,#00d 37.5px,#0000eb 38.5px,#0021ff 39.5px,#00a2ff 40.5px,#09fff6 41.5px,#98ff67 44.5px,#fdff02 47.5px,#ffd300 50.5px)"></b><b style="left:483px;top:141px;height:63px;background:linear-gradient(#ffd300 0.5px,#fdff02 3.5px,#9bff64 6.5px,#1bffe4 9.5px,#00d8ff 10.5px,#0081ff 11.5px,#003fff 12.5px,#002fff 13.5px,#00afff 19.5px,#00c6ff 22.5px,#00baff 24.5px,#0098ff 26.5px,#0050ff 28.5px,#0012ff 29.5px,#0000ef 30.5px,#0000d8 31.5px,#0000d9 32.5px,#0000fa 34.5px,#0053ff 37.5px,#0071ff 40.5px,#005eff 43.5px,#0000f8 47.5px,#0000cb 50.5px,#0000fc 55.5px,#0016ff 59.5px,#0000fe 62.5px)"></b><b style="left:548px;top:0px;height:55px;background:linear-gradient(#0000fc 0.5px,#0000d9 5.5px,#0000f8 7.5px,#0065ff 11.5px,#007cff 14.5px,#06f 17.5px,#0000f8 21.5px,#00d 23.5px,#0000ec 24.5px,#0007ff 25.5px,#004cff 26.5px,#009aff 28.5px,#00c1ff 30.5px,#00cfff 32.5px,#00beff 35.5px,#0095ff 37.5px,#0041ff 39.5px,#0000fd 40.5px,#0000d7 42.5px,#0000e1 43.5px,#0000fe 44.5px,#0093ff 45.5px,#06fff9 46.5px,#71ff8e 48.5px,#e3ff1c 51.5px,#fffe00 52.5px,#ffde00 54.5px)"></b><b style="left:548px;top:146px;height:58px;background:linear-gradient(#ffde00 0.5px,#fffd00 2.5px,#e3ff1c 3.5px,#71ff8e 6.5px,#07fff8 8.5px,#0094ff 9.5px,#00f 10.5px,#0000e1 11.5px,#0000d8 12.5px,#0000fd 14.5px,#0041ff 15.5px,#0095ff 17.5px,#00beff 19.5px,#00cfff 21.5px,#00c1ff 24.5px,#009aff 26.5px,#004cff 28.5px,#0007ff 29.5px,#0000eb 30.5px,#00d 31.5px,#0000f8 33.5px,#0065ff 37.5px,#007cff 40.5px,#0065ff 43.5px,#0000f8 47.5px,#0000d8 49.5px,#0000fd 54.5px,#001fff 57.5px)"></b><b style="left:549px;top:0px;height:55px;background:linear-gradient(#004aff 0.5px,#0020ff 4.5px,#001fff 5.5px,#008aff 11.5px,#009aff 15.5px,#0080ff 18.5px,#0028ff 23.5px,#0037ff 24.5px,#009aff 27.5px,#00c4ff 29.5px,#00daff 31.5px,#00deff 33.5px,#00d1ff 35.5px,#00b1ff 37.5px,#0039ff 41.5px,#002cff 42.5px,#03f 43.5px,#005eff 44.5px,#00afff 45.5px,#09fff6 46.5px,#6fff90 48.5px,#e1ff1e 51.5px,#ff0 52.5px,#ffdf00 54.5px)"></b><b style="left:549px;top:146px;height:58px;background:linear-gradient(#fd0 0.5px,#fffc00 2.5px,#e5ff1a 3.5px,#74ff8b 6.5px,#10ffef 8.5px,#00baff 9.5px,#0065ff 10.5px,#0035ff 11.5px,#002cff 12.5px,#0038ff 13.5px,#00aeff 17.5px,#00cfff 19.5px,#00deff 21.5px,#00d3ff 24.5px,#00b4ff 26.5px,#007fff 28.5px,#0039ff 30.5px,#0028ff 31.5px,#007fff 36.5px,#09f 39.5px,#008bff 43.5px,#001fff 49.5px,#001fff 50.5px,#005eff 57.5px)"></b><b style="left:550px;top:0px;height:56px;background:linear-gradient(#008dff 0.5px,#0085ff 6.5px,#00b0ff 11.5px,#00bcff 14.5px,#00b3ff 17.5px,#0089ff 23.5px,#09f 25.5px,#00e5ff 30.5px,#00f0ff 33.5px,#00dcff 36.5px,#009eff 40.5px,#0090ff 42.5px,#00a0ff 44.5px,#00cdff 45.5px,#0efff1 46.5px,#97ff68 49.5px,#feff01 52.5px,#ffd100 55.5px)"></b><b style="left:550px;top:146px;height:58px;background:linear-gradient(#ffdc00 0.5px,#fffc00 2.5px,#e7ff18 3.5px,#78ff87 6.5px,#19ffe6 8.5px,#00dcff 9.5px,#00a8ff 10.5px,#0093ff 11.5px,#0090ff 12.5px,#009bff 14.5px,#00e4ff 19.5px,#00f0ff 22.5px,#0df 25.5px,#009cff 29.5px,#0089ff 31.5px,#00bcff 40.5px,#00b2ff 43.5px,#0082ff 49.5px,#0095ff 57.5px)"></b><b style="left:551px;top:0px;height:56px;background:linear-gradient(#004bff 0.5px,#001eff 5.5px,#0089ff 11.5px,#009aff 15.5px,#0082ff 18.5px,#0029ff 23.5px,#03f 24.5px,#0096ff 27.5px,#00c2ff 29.5px,#00d9ff 31.5px,#00deff 33.5px,#00c5ff 36.5px,#009cff 38.5px,#003dff 41.5px,#002dff 42.5px,#0030ff 43.5px,#0054ff 44.5px,#02fffd 46.5px,#94ff6b 49.5px,#fcff03 52.5px,#ffd200 55.5px)"></b><b style="left:551px;top:146px;height:58px;background:linear-gradient(#ffdc00 0.5px,#fffb00 2.5px,#e8ff17 3.5px,#79ff86 6.5px,#16ffe9 8.5px,#00c4ff 9.5px,#006eff 10.5px,#0039ff 11.5px,#002cff 12.5px,#0034ff 13.5px,#0092ff 16.5px,#00bfff 18.5px,#00d8ff 20.5px,#00deff 22.5px,#00d4ff 24.5px,#00b6ff 26.5px,#0029ff 31.5px,#002fff 32.5px,#008aff 37.5px,#009bff 40.5px,#0080ff 44.5px,#0021ff 49.5px,#001eff 50.5px,#005dff 57.5px)"></b><b style="left:552px;top:0px;height:56px;background:linear-gradient(#0000fd 0.5px,#0000d7 5.5px,#0007ff 8.5px,#002fff 9.5px,#0061ff 11.5px,#007cff 14.5px,#0074ff 16.5px,#0057ff 18.5px,#0000fb 21.5px,#0000de 23.5px,#0000fc 25.5px,#0070ff 27.5px,#0093ff 28.5px,#00beff 30.5px,#00cfff 33.5px,#00c1ff 35.5px,#009bff 37.5px,#004eff 39.5px,#000aff 40.5px,#0000d9 42.5px,#0000dc 43.5px,#0000f6 44.5px,#00efff 46.5px,#3fc 47.5px,#92ff6d 49.5px,#faff05 52.5px,#ffd300 55.5px)"></b><b style="left:552px;top:146px;height:58px;background:linear-gradient(#ffdb00 0.5px,#fffa00 2.5px,#eaff15 3.5px,#7bff84 6.5px,#14ffeb 8.5px,#00afff 9.5px,#0020ff 10.5px,#0000e7 11.5px,#0000d8 12.5px,#0000f8 14.5px,#0068ff 16.5px,#00a8ff 18.5px,#00c7ff 20.5px,#00cfff 22.5px,#00c3ff 24.5px,#00a0ff 26.5px,#0058ff 28.5px,#001aff 29.5px,#0000f1 30.5px,#00d 31.5px,#0007ff 34.5px,#0030ff 35.5px,#0061ff 37.5px,#007cff 40.5px,#0069ff 43.5px,#003eff 45.5px,#0000fb 47.5px,#0000dc 49.5px,#0000d8 50.5px,#0004ff 55.5px,#001dff 57.5px)"></b><b style="left:617px;top:0px;height:61px;background:linear-gradient(#0001ff 0.5px,#0000f4 5.5px,#0000d0 9.5px,#0000fe 13.5px,#0049ff 16.5px,#005cff 19.5px,#003fff 22.5px,#000bff 24.5px,#0000f9 25.5px,#0000da 28.5px,#0000fe 30.5px,#003bff 31.5px,#0082ff 33.5px,#00a5ff 35.5px,#00b0ff 37.5px,#00a7ff 39.5px,#0087ff 41.5px,#0042ff 43.5px,#0000fe 44.5px,#0000df 46.5px,#0000f5 48.5px,#001dff 49.5px,#00faff 51.5px,#8eff71 54.5px,#f3ff0c 57.5px,#ffd900 60.5px)"></b><b style="left:617px;top:149px;height:55px;background:linear-gradient(#ffd300 0.5px,#ff0 3.5px,#9eff61 6.5px,#14ffeb 9.5px,#00b3ff 10.5px,#001fff 11.5px,#0000e1 12.5px,#0000d8 14.5px,#0000fb 16.5px,#005dff 18.5px,#007dff 19.5px,#00a3ff 21.5px,#00b0ff 23.5px,#00a9ff 25.5px,#008bff 27.5px,#004dff 29.5px,#0016ff 30.5px,#0000f2 31.5px,#0000da 32.5px,#0000d5 33.5px,#0000fe 36.5px,#0049ff 39.5px,#005cff 42.5px,#003fff 45.5px,#000aff 47.5px,#0000f8 48.5px,#0000ca 51.5px,#0000ea 54.5px)"></b><b style="left:618px;top:0px;height:61px;background:linear-gradient(#0037ff 0.5px,#002dff 3.5px,#0000fe 7.5px,#00f 11.5px,#005dff 15.5px,#0078ff 19.5px,#0064ff 22.5px,#0000fe 27.5px,#0000fc 28.5px,#000fff 29.5px,#0062ff 31.5px,#0098ff 33.5px,#00b5ff 35.5px,#00bfff 37.5px,#00b7ff 39.5px,#009dff 41.5px,#0069ff 43.5px,#01f 45.5px,#0000fe 46.5px,#002aff 48.5px,#005fff 49.5px,#00b2ff 50.5px,#09fff6 51.5px,#93ff6c 54.5px,#f6ff09 57.5px,#ffd700 60.5px)"></b><b style="left:618px;top:149px;height:55px;background:linear-gradient(#ffd100 0.5px,#fffd00 3.5px,#a2ff5d 6.5px,#1bffe4 9.5px,#00cbff 10.5px,#0061ff 11.5px,#000bff 12.5px,#0000fc 13.5px,#000bff 15.5px,#005cff 17.5px,#0094ff 19.5px,#00b3ff 21.5px,#00bfff 23.5px,#00afff 26.5px,#008bff 28.5px,#0000fd 32.5px,#0002ff 34.5px,#004dff 37.5px,#006aff 39.5px,#0078ff 42.5px,#006eff 44.5px,#0053ff 46.5px,#0008ff 49.5px,#0001ff 54.5px)"></b><b style="left:619px;top:0px;height:61px;background:linear-gradient(#008aff 0.5px,#0079ff 10.5px,#00a4ff 16.5px,#00adff 19.5px,#0081ff 28.5px,#00ceff 34.5px,#0df 37.5px,#00d1ff 40.5px,#0089ff 46.5px,#0095ff 48.5px,#00aeff 49.5px,#00e1ff 50.5px,#18ffe7 51.5px,#98ff67 54.5px,#faff05 57.5px,#ffd500 60.5px)"></b><b style="left:619px;top:150px;height:54px;background:linear-gradient(#fd0 0.5px,#fffb00 2.5px,#e8ff17 3.5px,#7fff80 6.5px,#26ffd9 8.5px,#00efff 9.5px,#00afff 10.5px,#008fff 11.5px,#08f 12.5px,#008cff 14.5px,#00cdff 19.5px,#0df 22.5px,#00d2ff 25.5px,#0082ff 31.5px,#00adff 41.5px,#007aff 49.5px,#007dff 53.5px)"></b><b style="left:620px;top:0px;height:61px;background:linear-gradient(#0072ff 0.5px,#0052ff 10.5px,#0093ff 16.5px,#009eff 19.5px,#0090ff 22.5px,#0065ff 26.5px,#005bff 28.5px,#00b7ff 33.5px,#00d6ff 37.5px,#0bf 41.5px,#0064ff 46.5px,#007bff 48.5px,#00a1ff 49.5px,#00e0ff 50.5px,#1cffe3 51.5px,#9cff63 54.5px,#feff01 57.5px,#ffd300 60.5px)"></b><b style="left:620px;top:150px;height:54px;background:linear-gradient(#ffdb00 0.5px,#fff900 2.5px,#ecff13 3.5px,#83ff7c 6.5px,#28ffd7 8.5px,#00edff 9.5px,#00a0ff 10.5px,#0070ff 11.5px,#0061ff 12.5px,#0069ff 14.5px,#00c3ff 19.5px,#00d6ff 22.5px,#00bdff 26.5px,#005dff 31.5px,#0060ff 33.5px,#0094ff 38.5px,#009dff 41.5px,#008fff 44.5px,#05f 49.5px,#005aff 53.5px)"></b><b style="left:621px;top:0px;height:61px;background:linear-gradient(#0021ff 0.5px,#0000fd 5.5px,#0000e7 9.5px,#0000fd 12.5px,#0050ff 15.5px,#006bff 17.5px,#0071ff 19.5px,#0058ff 22.5px,#000aff 25.5px,#00e 28.5px,#0000f8 29.5px,#0021ff 30.5px,#05f 31.5px,#0095ff 33.5px,#00b6ff 35.5px,#00c1ff 37.5px,#00b8ff 39.5px,#009aff 41.5px,#005fff 43.5px,#0000fd 45.5px,#0000f7 47.5px,#0016ff 48.5px,#00d0ff 50.5px,#1bffe4 51.5px,#a0ff5f 54.5px,#fffd00 57.5px,#ffd100 60.5px)"></b><b style="left:621px;top:150px;height:54px;background:linear-gradient(#ffda00 0.5px,#fff800 2.5px,#efff10 3.5px,#86ff79 6.5px,#27ffd8 8.5px,#0df 9.5px,#0000fb 11.5px,#0000ed 12.5px,#0000f6 14.5px,#0017ff 15.5px,#004cff 16.5px,#0091ff 18.5px,#00b4ff 20.5px,#00c1ff 22.5px,#00afff 25.5px,#0087ff 27.5px,#0039ff 29.5px,#0000fe 30.5px,#0000ec 32.5px,#0000fe 34.5px,#0051ff 37.5px,#006bff 39.5px,#0071ff 41.5px,#0058ff 44.5px,#0008ff 47.5px,#0000e6 50.5px,#0000f6 53.5px)"></b></div>
<svg width="830" height="586" viewBox="0 0 830 586">
<defs><clipPath id="c1"><rect x="70" y="25" width="737" height="205"/></clipPath>
<linearGradient id="cb" x1="0" y1="0" x2="0" y2="1"><stop offset="0" stop-color="#ff0000"/><stop offset="0.366" stop-color="#ffff00"/><stop offset="0.571" stop-color="#00ffff"/><stop offset="0.704" stop-color="#0000ff"/><stop offset="1" stop-color="#00008f"/></linearGradient></defs>
<text class="h" x="438.8" y="17" text-anchor="middle" xml:space="preserve">Two Scatterers Model:   Unwrapped Angle Derivative</text>
<path d="M71.0 128.8C71.3 127.8 71.8 125.1 72.3 123.1C72.8 121.1 73.3 118.6 73.8 116.8C74.4 115.0 74.8 113.7 75.5 112.4C76.2 111.0 77.1 110.0 78.0 108.6C78.8 107.2 79.7 106.0 80.5 104.2C81.4 102.4 82.2 100.2 83.0 97.9C83.9 95.6 84.7 93.2 85.6 90.3C86.4 87.3 87.2 83.5 88.1 80.2C88.9 76.9 89.9 72.9 90.6 70.7C91.3 68.5 91.8 67.9 92.5 66.9C93.2 66.0 93.7 65.3 94.8 65.0C95.8 64.8 97.6 65.9 98.8 65.7C100.0 65.4 101.0 64.8 102.0 63.5C102.9 62.2 103.7 60.5 104.5 57.9C105.3 55.2 106.3 50.8 107.0 47.8C107.8 44.7 108.3 41.4 108.9 39.6C109.5 37.8 109.9 37.1 110.4 37.0C111.0 36.9 111.5 37.7 112.1 38.9C112.7 40.2 113.2 43.1 114.0 44.6C114.7 46.1 115.7 47.9 116.5 48.0C117.3 48.1 118.0 47.2 118.8 45.2C119.5 43.3 120.3 39.1 120.9 36.4C121.5 33.7 122.0 30.6 122.5 28.8C123.1 27.1 123.6 26.0 124.1 26.1C124.6 26.2 125.0 27.3 125.6 29.5C126.2 31.6 126.8 36.6 127.6 38.9C128.4 41.2 129.3 43.1 130.1 43.3C130.9 43.6 131.6 42.2 132.3 40.2C132.9 38.2 133.5 33.8 134.2 31.4C134.9 28.9 135.8 26.1 136.4 25.7C137.1 25.3 137.6 26.6 138.2 28.8C138.8 31.0 139.2 36.7 139.8 38.9C140.4 41.1 141.0 41.0 141.7 42.1C142.5 43.1 143.7 45.1 144.5 45.2C145.3 45.3 146.1 44.3 146.8 42.7C147.5 41.1 148.1 37.5 148.7 35.8C149.3 34.0 149.7 32.3 150.3 32.2C150.9 32.1 151.4 32.6 152.1 35.1C152.8 37.7 153.7 44.7 154.4 47.8C155.0 50.8 155.6 52.1 156.2 53.4C156.9 54.8 157.5 55.9 158.4 55.6C159.2 55.3 160.6 52.8 161.3 51.6C162.0 50.3 161.9 49.1 162.5 48.2C163.1 47.3 164.1 45.6 164.8 45.9C165.5 46.2 166.2 47.6 166.9 50.1C167.7 52.6 168.6 58.0 169.5 60.8C170.3 63.7 171.0 65.7 172.0 67.1C172.9 68.6 174.0 69.3 175.1 69.4C176.3 69.5 177.7 68.4 178.9 67.8C180.2 67.1 181.4 65.4 182.5 65.6C183.5 65.8 184.3 67.1 185.2 69.0C186.2 71.0 187.3 74.8 188.4 77.2C189.5 79.7 190.4 81.8 191.6 83.5C192.7 85.3 194.0 86.8 195.3 88.0C196.7 89.1 198.3 89.7 199.8 90.2C201.2 90.7 203.2 91.1 204.2 90.9C205.2 90.7 205.2 88.6 205.7 89.0C206.2 89.3 206.7 92.0 207.3 93.0C207.9 94.0 208.2 94.5 209.2 94.9C210.3 95.3 212.4 95.0 213.6 95.5C214.9 96.1 215.4 96.8 216.8 98.3C218.2 99.8 220.2 102.5 221.8 104.4C223.5 106.2 225.1 107.7 226.9 109.4C228.7 111.1 229.7 112.5 232.6 114.6C235.4 116.6 239.9 119.3 243.9 121.8C247.9 124.2 252.8 127.1 256.6 129.3C260.3 131.6 264.2 133.7 266.7 135.1C269.1 136.5 270.1 136.7 271.1 137.7C272.0 138.6 271.7 141.0 272.3 141.1C273.0 141.2 274.2 138.6 274.9 138.2C275.5 137.7 275.4 137.6 276.1 138.5C276.9 139.4 277.7 141.9 279.3 143.6C280.9 145.3 283.5 146.6 285.6 148.6C287.7 150.6 290.0 153.5 291.9 155.6C293.8 157.7 295.3 159.9 296.9 161.3C298.6 162.6 300.1 163.3 302.0 163.8C303.9 164.3 306.7 164.0 308.3 164.4C309.9 164.8 310.1 165.3 311.4 166.3C312.6 167.4 314.4 168.8 315.8 170.7C317.1 172.6 318.3 175.0 319.6 177.7C320.8 180.3 322.2 184.5 323.3 186.5C324.5 188.5 325.3 189.6 326.5 189.7C327.7 189.8 329.1 187.8 330.3 187.1C331.4 186.5 332.4 185.7 333.4 185.9C334.5 186.1 335.4 186.5 336.6 188.4C337.8 190.3 339.4 194.4 340.4 197.2C341.3 200.1 341.7 203.1 342.3 205.4C342.8 207.8 343.2 211.2 343.8 211.1C344.4 211.0 345.3 206.5 346.1 204.8C346.9 203.1 347.9 201.8 348.6 201.0C349.3 200.2 349.7 199.9 350.5 200.1C351.2 200.3 352.2 200.6 353.0 202.3C353.9 204.0 354.8 207.9 355.5 210.5C356.3 213.1 356.8 216.1 357.4 218.1C358.1 220.0 358.7 222.1 359.3 222.1C360.0 222.1 360.6 219.8 361.2 218.1C361.8 216.3 362.4 213.3 363.1 211.7C363.8 210.2 364.6 208.6 365.4 208.6C366.1 208.6 366.9 210.0 367.5 211.7C368.2 213.5 368.8 216.8 369.4 219.3C370.0 221.8 370.8 225.2 371.3 226.9C371.8 228.6 372.0 229.8 372.6 229.4C373.1 229.0 373.8 226.5 374.5 224.4C375.1 222.3 375.6 218.9 376.4 216.8C377.1 214.7 378.0 211.7 378.9 211.5C379.7 211.3 380.7 213.6 381.4 215.5C382.1 217.5 382.6 220.8 383.3 223.1C384.0 225.4 384.7 229.6 385.4 229.4C386.2 229.2 386.9 224.8 387.7 221.8C388.5 218.9 389.4 214.2 390.2 211.7C391.1 209.3 391.9 207.1 392.8 207.1C393.7 207.1 394.7 209.9 395.7 211.7C396.6 213.6 397.7 218.3 398.6 218.3C399.4 218.3 399.9 214.7 400.7 211.7C401.5 208.8 402.5 203.1 403.3 200.4C404.0 197.7 404.6 196.6 405.1 195.7C405.7 194.9 406.0 196.2 406.4 195.3C406.8 194.4 407.2 191.6 407.7 190.3C408.1 189.0 408.7 187.5 409.2 187.4C409.7 187.3 410.2 189.0 410.8 189.7C411.5 190.4 412.2 191.7 413.0 191.6C413.7 191.4 414.3 190.9 415.2 189.0C416.1 187.1 417.2 183.6 418.4 180.2C419.6 176.8 421.3 171.6 422.2 168.8C423.0 166.1 422.5 166.8 423.6 163.6C424.7 160.3 426.9 154.2 428.9 149.3C430.8 144.4 433.1 139.2 435.2 134.2C437.3 129.1 439.4 124.0 441.5 119.0C443.6 114.1 446.0 108.5 447.8 104.5C449.6 100.5 451.4 96.9 452.2 95.0C453.1 93.2 452.1 96.0 452.8 93.6C453.5 91.2 455.2 84.4 456.4 80.6C457.5 76.7 458.6 72.9 459.5 70.5C460.5 68.1 461.3 67.0 462.0 66.1C462.8 65.1 463.0 64.9 463.9 64.8C464.8 64.7 466.4 65.9 467.5 65.7C468.5 65.5 469.4 64.6 470.2 63.5C471.1 62.5 472.0 61.5 472.8 59.1C473.5 56.7 473.9 52.0 474.7 49.0C475.4 46.1 476.3 43.3 477.2 41.5C478.0 39.6 478.9 37.8 479.7 37.7C480.5 37.6 481.2 39.5 481.9 40.8C482.5 42.2 482.9 44.7 483.5 45.9C484.1 47.1 484.8 48.2 485.4 48.0C486.0 47.8 486.7 46.5 487.3 44.6C487.9 42.7 488.5 39.1 489.2 36.4C489.8 33.7 490.5 30.0 491.1 28.2C491.6 26.4 492.1 25.5 492.6 25.7C493.1 25.9 493.6 27.4 494.2 29.5C494.8 31.6 495.4 36.0 496.1 38.3C496.9 40.6 497.9 42.9 498.6 43.3C499.4 43.8 500.1 42.7 500.8 40.8C501.5 38.9 502.1 34.5 502.8 32.0C503.5 29.5 504.3 26.1 505.0 25.7C505.6 25.3 506.2 27.3 506.8 29.5C507.5 31.7 507.9 36.1 508.7 38.9C509.6 41.7 510.9 45.5 511.9 46.3C512.8 47.0 513.6 45.2 514.4 43.3C515.2 41.5 516.0 37.0 516.7 35.1C517.4 33.3 518.0 32.3 518.6 32.4C519.2 32.5 519.8 33.3 520.5 35.8C521.1 38.2 521.8 44.1 522.6 47.1C523.4 50.1 524.4 52.5 525.1 53.8C525.9 55.2 526.2 55.8 527.0 55.3C527.9 54.9 529.2 52.5 530.2 50.9C531.2 49.3 532.3 46.1 533.1 45.9C533.9 45.7 534.5 47.5 535.2 49.7C536.0 51.9 537.3 57.6 537.8 59.1C538.3 60.7 537.7 57.2 538.2 58.9C538.6 60.6 539.7 68.1 540.4 69.4C541.2 70.7 541.5 66.8 542.6 66.8C543.7 66.7 545.5 69.2 547.0 69.0C548.5 68.8 550.3 65.7 551.4 65.6C552.6 65.5 553.0 66.5 553.9 68.4C554.9 70.3 555.9 74.6 557.1 77.2C558.2 79.9 559.5 82.5 560.9 84.4C562.2 86.4 563.7 87.9 565.3 89.0C566.9 90.0 568.7 90.3 570.3 90.7C572.0 91.2 573.9 91.0 575.4 91.5C576.9 92.0 577.7 92.4 579.2 93.6C580.6 94.8 582.3 96.7 584.2 98.7C586.1 100.7 588.6 103.7 590.5 105.6C592.4 107.5 593.8 108.7 595.6 110.0C597.4 111.4 599.5 112.7 601.3 113.9C603.1 115.2 605.3 116.2 606.4 117.5C607.4 118.7 606.9 121.4 607.4 121.5C607.8 121.7 608.6 119.0 609.1 118.3C609.7 117.7 610.1 117.3 610.8 117.7C611.5 118.1 612.4 119.8 613.3 120.9C614.2 122.0 614.2 122.8 616.5 124.3C618.7 125.8 623.2 127.9 626.6 129.7C629.9 131.6 633.5 133.5 636.7 135.4C639.8 137.3 643.0 139.3 645.5 141.1C648.0 142.9 649.7 144.1 651.8 146.1C653.9 148.1 656.2 151.0 658.1 153.1C660.0 155.2 661.6 157.2 663.2 158.7C664.7 160.3 666.1 161.3 667.6 162.1C669.0 163.0 671.1 163.4 672.0 163.8C672.9 164.2 672.6 164.1 673.2 164.4C673.7 164.7 674.6 165.8 675.4 165.7C676.3 165.6 677.3 163.8 678.2 163.8C679.1 163.8 679.4 163.9 680.7 165.7C682.1 167.5 684.7 171.4 686.4 174.5C688.1 177.7 689.7 182.3 690.8 184.6C692.0 186.9 692.6 187.6 693.3 188.4C694.1 189.2 694.3 189.6 695.2 189.4C696.2 189.2 697.9 187.7 699.0 187.1C700.2 186.5 701.1 185.7 702.2 185.9C703.2 186.1 704.3 186.4 705.3 188.4C706.4 190.4 707.5 194.9 708.5 197.9C709.4 200.8 710.2 204.2 711.0 206.1C711.8 207.9 712.4 209.1 713.2 209.0C713.9 208.9 714.6 206.8 715.4 205.4C716.2 204.1 717.2 201.9 718.0 201.0C718.7 200.2 719.1 200.0 719.9 200.4C720.6 200.8 721.5 201.4 722.4 203.5C723.2 205.6 724.2 210.2 724.9 213.0C725.6 215.9 726.3 219.1 726.8 220.6C727.3 222.1 727.3 222.7 727.8 222.1C728.3 221.5 729.2 218.7 730.0 216.8C730.7 214.9 731.4 211.9 732.1 210.5C732.8 209.1 733.4 208.4 734.1 208.6C734.8 208.8 735.6 209.7 736.3 211.7C736.9 213.7 737.5 217.7 738.2 220.6C738.8 223.4 739.5 227.9 740.0 228.8C740.6 229.6 741.3 226.1 741.7 225.6C742.1 225.2 742.1 227.7 742.6 226.3C743.0 224.8 743.8 219.4 744.5 216.8C745.2 214.2 746.0 210.9 746.7 210.5C747.5 210.1 748.1 212.0 748.9 214.3C749.7 216.6 750.6 221.8 751.4 224.4C752.2 226.9 752.8 229.6 753.6 229.4C754.3 229.2 755.0 226.1 755.8 223.1C756.6 220.2 757.5 214.4 758.4 211.7C759.2 209.1 760.2 207.3 761.1 207.3C762.1 207.3 763.1 209.9 764.0 211.7C765.0 213.6 766.0 218.3 766.9 218.3C767.9 218.3 768.8 214.7 769.7 211.7C770.6 208.8 771.6 202.9 772.2 200.4C772.8 197.9 772.5 198.5 773.3 196.8C774.1 195.0 775.7 191.1 777.1 190.0C778.5 188.9 780.4 190.6 781.7 190.0C783.0 189.3 783.7 188.9 784.9 186.2C786.1 183.4 787.7 177.7 789.1 173.5C790.6 169.2 791.6 165.4 793.4 160.8C795.1 156.2 797.5 151.3 799.7 146.0C801.9 140.7 805.5 131.9 806.7 129.0" fill="none" stroke="#000" stroke-width="1.6" stroke-linejoin="round" clip-path="url(#c1)"/>
<rect x="70.5" y="25.5" width="736.0" height="204.0" fill="none" stroke="#7a7a7a" stroke-width="1"/>
<path d="M143.5 229.5v-7.6M143.5 25.5v7.6M217.5 229.5v-7.6M217.5 25.5v7.6M290.5 229.5v-7.6M290.5 25.5v7.6M364.5 229.5v-7.6M364.5 25.5v7.6M438.5 229.5v-7.6M438.5 25.5v7.6M512.5 229.5v-7.6M512.5 25.5v7.6M585.5 229.5v-7.6M585.5 25.5v7.6M659.5 229.5v-7.6M659.5 25.5v7.6M733.5 229.5v-7.6M733.5 25.5v7.6M70.5 65.5h7.6M806.5 65.5h-7.6M70.5 127.5h7.6M806.5 127.5h-7.6M70.5 189.5h7.6M806.5 189.5h-7.6" stroke="#7a7a7a" stroke-width="1" fill="none"/>
<text class="t" x="143.5" y="257.9" text-anchor="middle">1</text>
<text class="t" x="217.2" y="257.9" text-anchor="middle">2</text>
<text class="t" x="290.9" y="257.9" text-anchor="middle">3</text>
<text class="t" x="364.6" y="257.9" text-anchor="middle">4</text>
<text class="t" x="438.3" y="257.9" text-anchor="middle">5</text>
<text class="t" x="512.0" y="257.9" text-anchor="middle">6</text>
<text class="t" x="585.7" y="257.9" text-anchor="middle">7</text>
<text class="t" x="659.4" y="257.9" text-anchor="middle">8</text>
<text class="t" x="733.1" y="257.9" text-anchor="middle">9</text>
<text class="t" x="806.8" y="257.9" text-anchor="middle">10</text>
<text class="t" x="63.5" y="73.9" text-anchor="end">0.2</text>
<text class="t" x="63.5" y="135.9" text-anchor="end">0</text>
<text class="t" x="63.5" y="197.9" text-anchor="end">-0.2</text>
<text class="l" transform="translate(18.6,127.8) rotate(-90)" text-anchor="middle">angle [rad]</text>
<text class="h" x="411" y="310" text-anchor="middle" xml:space="preserve">Two Scatterers Model:   Velocity Map [dB]</text>
<rect x="70.5" y="318.5" width="683.0" height="204.0" fill="none" stroke="#77756c" stroke-width="1"/>
<path d="M71 318.5H753" stroke="#12126a" stroke-width="1" fill="none"/>
<path d="M752.5 319V522" stroke="#000" stroke-opacity="0.28" stroke-width="1" fill="none"/>
<path d="M753.5 319V523" stroke="#c6c4bc" stroke-width="1" fill="none"/>
<path d="M143.5 522.5v-7.6M143.5 318.5v7.6M219.5 522.5v-7.6M219.5 318.5v7.6M295.5 522.5v-7.6M295.5 318.5v7.6M371.5 522.5v-7.6M371.5 318.5v7.6M447.5 522.5v-7.6M447.5 318.5v7.6M524.5 522.5v-7.6M524.5 318.5v7.6M600.5 522.5v-7.6M600.5 318.5v7.6M676.5 522.5v-7.6M676.5 318.5v7.6M70.5 352.5h7.6M753.5 352.5h-7.6M70.5 420.5h7.6M753.5 420.5h-7.6M70.5 488.5h7.6M753.5 488.5h-7.6" stroke="#262626" stroke-opacity="0.7" stroke-width="1" fill="none"/>
<text class="t" x="143.4" y="550.6" text-anchor="middle">1</text>
<text class="t" x="219.5" y="550.6" text-anchor="middle">2</text>
<text class="t" x="295.7" y="550.6" text-anchor="middle">3</text>
<text class="t" x="371.8" y="550.6" text-anchor="middle">4</text>
<text class="t" x="447.9" y="550.6" text-anchor="middle">5</text>
<text class="t" x="524.1" y="550.6" text-anchor="middle">6</text>
<text class="t" x="600.3" y="550.6" text-anchor="middle">7</text>
<text class="t" x="676.4" y="550.6" text-anchor="middle">8</text>
<text class="t" x="752.6" y="550.6" text-anchor="middle">9</text>
<text class="t" x="63.5" y="360.9" text-anchor="end">-0.1</text>
<text class="t" x="63.5" y="428.9" text-anchor="end">0</text>
<text class="t" x="63.5" y="496.9" text-anchor="end">0.1</text>
<text class="l" transform="translate(18.6,420.8) rotate(-90)" text-anchor="middle">velocity [m/s]</text>
<text class="l" x="411.9" y="581" style="font-size:24.1px" text-anchor="middle">time [s]</text>
<rect x="768" y="318" width="18" height="205" fill="url(#cb)"/>
<rect x="768.5" y="318.5" width="17.0" height="204.0" fill="none" stroke="#3a3a3a" stroke-opacity="0.75" stroke-width="1"/>
<path d="M785.5 420.5h-2.5" stroke="#262626" stroke-width="1" fill="none"/>
<text class="c" x="791.3" y="325.7">0</text>
<text class="c" x="791.3" y="427.7">-50</text>
<text class="c" x="791.3" y="529.7">-100</text>
</svg></body></html>
